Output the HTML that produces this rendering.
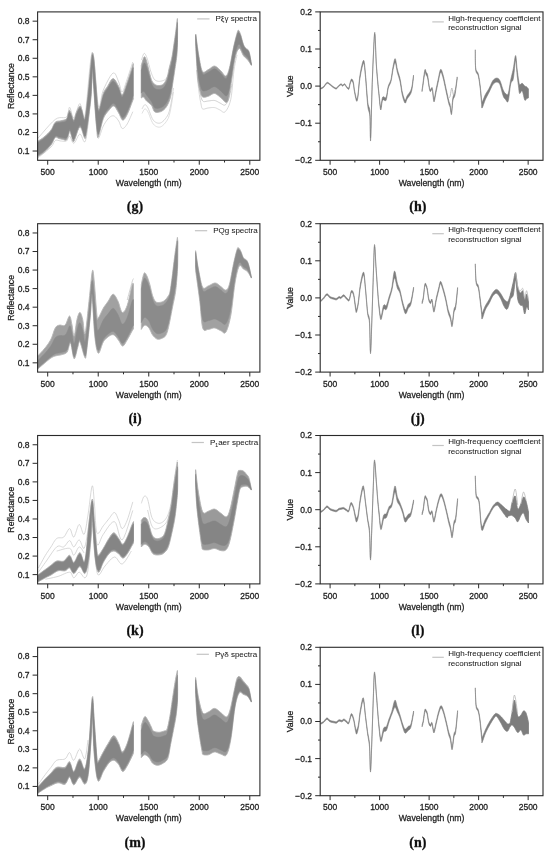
<!DOCTYPE html>
<html><head><meta charset="utf-8"><title>Spectra figure</title>
<style>
html,body{margin:0;padding:0;background:#fff;}
body{width:550px;height:854px;overflow:hidden;}
svg{display:block;}
text{font-family:"Liberation Sans",Arial,sans-serif;fill:#1e1e1e;stroke:#1e1e1e;stroke-width:0.28px;}
.lg{stroke-width:0.05px;}
</style></head>
<body>
<svg width="550" height="854" viewBox="0 0 550 854">
<defs><filter id="soft" filterUnits="userSpaceOnUse" x="0" y="0" width="550" height="854"><feGaussianBlur stdDeviation="0.35"/></filter></defs>
<rect width="550" height="854" fill="#fff"/>
<g filter="url(#soft)">
<polyline points="37.8,158 39.34,156.75 41.55,154.98 44.13,152.91 46.77,150.74 49.16,148.7 51,147 52.22,145.58 53.04,144.24 53.62,143.03 54.1,141.98 54.61,141.13 55.3,140.5 56.16,140.18 57.07,140.17 58.02,140.34 58.99,140.61 59.95,140.86 60.9,141 61.86,141.09 62.86,141.22 63.86,141.34 64.82,141.39 65.71,141.3 66.5,141 67.15,140.31 67.68,139.25 68.14,138.04 68.58,136.94 69.05,136.18 69.6,136 70.21,136.7 70.85,138.14 71.51,139.92 72.22,141.64 72.98,142.9 73.8,143.3 74.72,142.51 75.74,140.79 76.81,138.61 77.89,136.44 78.93,134.75 79.9,134 80.81,134.61 81.69,136.28 82.53,138.43 83.34,140.47 84.1,141.82 84.8,141.9 85.43,140.79 85.98,138.96 86.49,136.44 86.97,133.26 87.47,129.44 88,125 88.59,119.32 89.22,112.27 89.86,104.57 90.47,96.97 91.03,90.2 91.5,85 91.84,80.9 92.07,77.22 92.25,74.38 92.43,72.78 92.66,72.85 93,75 93.49,80.28 94.08,88.58 94.73,98.54 95.39,108.82 95.99,118.09 96.5,125 96.86,129.65 97.11,133.13 97.31,135.6 97.53,137.2 97.83,138.08 98.3,138.4 98.94,137.78 99.71,136.01 100.56,133.54 101.47,130.76 102.39,128.11 103.3,126 104.21,124.34 105.15,122.79 106.11,121.36 107.06,120.07 108,118.94 108.9,118 109.76,117.23 110.59,116.6 111.39,116.13 112.19,115.85 112.99,115.77 113.8,115.9 114.63,116.31 115.49,116.98 116.34,117.85 117.17,118.86 117.96,119.93 118.7,121 119.35,122.25 119.91,123.77 120.44,125.35 120.97,126.8 121.55,127.92 122.2,128.5 122.94,128.53 123.73,128.18 124.57,127.49 125.43,126.52 126.31,125.34 127.2,124 128.16,122.26 129.23,120.02 130.31,117.57 131.33,115.18 132.18,113.13 132.8,111.7" fill="none" stroke="#c8c8c8" stroke-width="0.7" stroke-linejoin="round" opacity="1.0"/>
<polyline points="37.8,138.4 39.78,136.14 42.57,132.86 45.85,129.05 49.29,125.21 52.55,121.83 55.3,119.4 57.62,118.12 59.8,117.64 61.8,117.63 63.6,117.73 65.17,117.64 66.5,117 67.47,115.56 68.09,113.52 68.49,111.28 68.79,109.21 69.11,107.73 69.6,107.2 70.21,108.1 70.85,110.21 71.51,112.89 72.22,115.51 72.98,117.43 73.8,118 74.72,116.72 75.74,114 76.81,110.58 77.89,107.2 78.93,104.59 79.9,103.5 80.76,105.04 81.53,108.83 82.26,113.41 83.02,117.28 83.85,118.97 84.8,117 85.92,109.33 87.16,96.74 88.48,81.97 89.81,67.76 91.11,56.86 92.3,52 93.4,54.92 94.45,63.78 95.46,75.94 96.43,88.78 97.38,99.67 98.3,106 99.14,107.4 99.86,105.89 100.56,102.44 101.31,98 102.2,93.53 103.3,90 104.7,86.92 106.37,83.44 108.16,79.94 109.97,76.78 111.65,74.34 113.1,73 114.3,72.98 115.36,74.04 116.29,75.81 117.14,77.96 117.94,80.14 118.7,82 119.39,83.88 119.97,86.11 120.49,88.38 121,90.33 121.55,91.65 122.2,92 122.94,91.21 123.73,89.52 124.57,87.19 125.43,84.48 126.31,81.66 127.2,79 128.16,76.2 129.23,73 130.31,69.69 131.33,66.56 132.18,63.9 132.8,62" fill="none" stroke="#c8c8c8" stroke-width="0.7" stroke-linejoin="round" opacity="1.0"/>
<polyline points="142,109 142.3,108.44 142.71,107.6 143.2,106.64 143.73,105.73 144.28,105.03 144.8,104.7 145.29,104.71 145.76,104.91 146.24,105.32 146.76,105.96 147.34,106.85 148,108 148.74,109.63 149.55,111.76 150.41,114.13 151.33,116.5 152.29,118.61 153.3,120.2 154.37,121.32 155.51,122.19 156.69,122.8 157.9,123.14 159.11,123.21 160.3,123 161.51,122.44 162.77,121.5 164.04,120.3 165.25,118.92 166.35,117.45 167.3,116 168.06,114.6 168.66,113.19 169.15,111.69 169.59,110.04 170.02,108.16 170.5,106 171.05,103.25 171.63,99.93 172.2,96.38 172.73,92.96 173.18,90.05 173.5,88" fill="none" stroke="#c8c8c8" stroke-width="0.7" stroke-linejoin="round" opacity="1.0"/>
<polyline points="141.5,60 141.78,59.15 142.16,57.87 142.62,56.41 143.11,55.01 143.62,53.93 144.1,53.4 144.55,53.41 145,53.76 145.46,54.41 145.94,55.36 146.45,56.56 147,58 147.6,59.86 148.25,62.19 148.93,64.79 149.63,67.43 150.32,69.91 151,72 151.64,73.76 152.23,75.37 152.83,76.81 153.47,78.07 154.18,79.14 155,80 155.97,80.63 157.07,81.04 158.25,81.25 159.45,81.3 160.62,81.2 161.7,81 162.71,80.73 163.7,80.37 164.66,79.88 165.58,79.19 166.46,78.25 167.3,77 168.09,75.44 168.83,73.59 169.53,71.5 170.2,69.19 170.86,66.68 171.5,64 172.14,61.12 172.76,58 173.36,54.69 173.94,51.22 174.49,47.65 175,44 175.49,39.95 175.97,35.41 176.42,30.75 176.82,26.37 177.15,22.66 177.4,20" fill="none" stroke="#c8c8c8" stroke-width="0.7" stroke-linejoin="round" opacity="1.0"/>
<polyline points="142,113.5 142.3,112.92 142.71,112.06 143.2,111.06 143.73,110.11 144.28,109.37 144.8,109 145.29,108.96 145.76,109.11 146.24,109.47 146.76,110.06 147.34,110.89 148,112 148.74,113.58 149.55,115.67 150.41,118 151.33,120.33 152.29,122.42 153.3,124 154.37,125.14 155.51,126.04 156.69,126.69 157.9,127.07 159.11,127.18 160.3,127 161.51,126.45 162.77,125.52 164.04,124.31 165.25,122.93 166.35,121.46 167.3,120 168.06,118.6 168.66,117.19 169.15,115.69 169.59,114.04 170.02,112.16 170.5,110 171.05,107.25 171.63,103.93 172.2,100.38 172.73,96.96 173.18,94.05 173.5,92" fill="none" stroke="#d2d2d2" stroke-width="0.7" stroke-linejoin="round" opacity="1.0"/>
<polyline points="197.5,75 197.77,76.94 198.14,79.7 198.58,82.94 199.06,86.3 199.54,89.43 200,92 200.41,94.07 200.79,95.93 201.18,97.56 201.6,98.96 202.1,100.11 202.7,101 203.42,101.53 204.23,101.69 205.11,101.59 206.04,101.37 207.01,101.13 208,101 209.04,100.91 210.15,100.76 211.29,100.59 212.44,100.46 213.55,100.42 214.6,100.5 215.57,100.75 216.5,101.13 217.39,101.59 218.27,102.09 219.13,102.58 220,103 220.88,103.47 221.77,104.04 222.64,104.59 223.5,105.02 224.32,105.19 225.1,105 225.83,104.44 226.52,103.59 227.18,102.5 227.81,101.19 228.42,99.68 229,98 229.59,95.91 230.18,93.33 230.74,90.56 231.26,87.89 231.68,85.6 232,84" fill="none" stroke="#bdbdbd" stroke-width="0.7" stroke-linejoin="round" opacity="1.0"/>
<polyline points="196.5,70 196.78,72.51 197.17,76.07 197.62,80.25 198.11,84.59 198.58,88.66 199,92 199.37,94.66 199.71,97 200.05,99.06 200.37,100.89 200.69,102.52 201,104 201.26,105.31 201.46,106.41 201.64,107.31 201.88,108.04 202.21,108.59 202.7,109 203.36,109.17 204.15,109.09 205.04,108.84 206,108.51 207,108.2 208,108 209.04,107.87 210.15,107.72 211.29,107.59 212.44,107.5 213.55,107.5 214.6,107.6 215.57,107.84 216.5,108.21 217.39,108.66 218.27,109.14 219.13,109.6 220,110 220.86,110.5 221.7,111.18 222.53,111.84 223.37,112.29 224.22,112.34 225.1,111.8 226.04,110.73 227.05,109.28 228.07,107.44 229.06,105.16 229.99,102.43 230.8,99.2 231.48,95.13 232.06,90.17 232.57,84.75 233.04,79.3 233.51,74.24 234,70 234.55,66.5 235.13,63.39 235.7,60.67 236.23,58.36 236.68,56.47 237,55" fill="none" stroke="#c8c8c8" stroke-width="0.7" stroke-linejoin="round" opacity="1.0"/>
<polygon points="37.8,141.2 38.47,140.78 39.38,140.21 40.46,139.54 41.64,138.76 42.85,137.91 44,137 45.15,136 46.37,134.9 47.62,133.72 48.84,132.5 49.98,131.25 51,130 51.86,128.67 52.59,127.22 53.24,125.75 53.87,124.36 54.54,123.14 55.3,122.2 56.16,121.6 57.07,121.29 58.02,121.14 58.99,121.08 59.95,121 60.9,120.8 61.87,120.54 62.9,120.32 63.93,120.08 64.9,119.77 65.77,119.32 66.5,118.7 67.05,117.79 67.47,116.62 67.78,115.33 68.03,114.03 68.26,112.88 68.5,112 68.73,111.38 68.92,110.9 69.09,110.56 69.24,110.36 69.41,110.27 69.6,110.3 69.8,110.45 69.99,110.71 70.19,111.11 70.42,111.62 70.68,112.25 71,113 71.39,114.09 71.83,115.57 72.32,117.17 72.82,118.62 73.32,119.65 73.8,120 74.25,119.51 74.68,118.37 75.11,116.81 75.55,115.07 76.01,113.39 76.5,112 77.04,110.77 77.63,109.48 78.24,108.25 78.84,107.19 79.4,106.4 79.9,106 80.32,106.03 80.67,106.42 80.99,107.08 81.3,107.95 81.62,108.95 82,110 82.42,111.54 82.87,113.71 83.34,116.01 83.83,117.94 84.31,119 84.8,118.7 85.29,116.82 85.8,113.72 86.31,109.76 86.81,105.28 87.32,100.64 87.8,96.2 88.28,91.67 88.76,86.72 89.22,81.61 89.68,76.61 90.11,71.98 90.5,68 90.85,64.52 91.17,61.31 91.46,58.47 91.74,56.11 92.02,54.36 92.3,53.3 92.59,52.97 92.86,53.27 93.14,54.17 93.41,55.62 93.7,57.58 94,60 94.31,63.11 94.62,67 94.94,71.39 95.28,76.03 95.63,80.65 96,85 96.37,89.58 96.74,94.71 97.13,99.82 97.56,104.36 98.04,107.77 98.6,109.5 99.27,109.06 100.03,106.8 100.85,103.42 101.69,99.6 102.52,96.03 103.3,93.4 104.01,91.72 104.69,90.42 105.34,89.38 106.01,88.46 106.72,87.51 107.5,86.4 108.35,84.97 109.26,83.28 110.21,81.58 111.18,80.07 112.15,79.01 113.1,78.6 114.06,78.99 115.04,80.02 116.03,81.49 116.99,83.18 117.89,84.88 118.7,86.4 119.39,88.01 119.97,89.93 120.49,91.88 121,93.53 121.55,94.61 122.2,94.8 122.94,93.97 123.73,92.31 124.57,90.08 125.43,87.5 126.31,84.79 127.2,82.2 128.16,79.45 129.21,76.31 130.29,73.04 131.3,69.94 132.16,67.26 132.8,65.3 133.17,64.17 133.33,63.66 133.35,63.59 133.29,63.76 133.22,63.96 133.2,64 133.2,99 133.22,99.01 133.29,98.89 133.35,98.82 133.33,98.94 133.17,99.42 132.8,100.4 132.15,102.11 131.28,104.47 130.26,107.19 129.18,109.96 128.13,112.49 127.2,114.5 126.38,116.07 125.6,117.47 124.85,118.62 124.12,119.49 123.41,120 122.7,120.1 122.01,119.65 121.36,118.67 120.73,117.34 120.08,115.83 119.41,114.32 118.7,113 117.94,111.7 117.13,110.24 116.31,108.79 115.47,107.49 114.63,106.51 113.8,106 112.99,106.02 112.19,106.44 111.39,107.19 110.59,108.14 109.76,109.22 108.9,110.3 108,111.35 107.06,112.43 106.11,113.63 105.15,115.01 104.21,116.68 103.3,118.7 102.39,121.46 101.45,124.97 100.53,128.75 99.67,132.33 98.91,135.24 98.3,137 97.87,137.52 97.6,137.17 97.43,136.14 97.31,134.64 97.19,132.86 97,131 96.77,129.07 96.53,126.93 96.29,124.5 96.04,121.74 95.78,118.59 95.5,115 95.2,110.66 94.87,105.56 94.53,100.06 94.2,94.56 93.88,89.41 93.6,85 93.36,80.89 93.15,76.7 92.96,72.86 92.78,69.84 92.6,68.07 92.4,68 92.2,70.16 92.02,74.29 91.84,79.68 91.63,85.6 91.39,91.35 91.1,96.2 90.73,100.29 90.31,104.23 89.84,107.99 89.37,111.55 88.91,114.89 88.5,118 88.13,120.87 87.78,123.53 87.44,125.96 87.12,128.19 86.81,130.2 86.5,132 86.24,133.71 86.03,135.36 85.83,136.79 85.59,137.87 85.27,138.45 84.8,138.4 84.18,137.23 83.45,134.96 82.62,132.19 81.74,129.54 80.82,127.61 79.9,127 78.91,128.15 77.81,130.66 76.69,133.88 75.6,137.19 74.61,139.94 73.8,141.5 73.19,141.73 72.73,141.13 72.38,139.97 72.08,138.54 71.8,137.12 71.5,136 71.17,135.05 70.86,134 70.57,132.97 70.29,132.06 70.04,131.36 69.8,131 69.61,131 69.46,131.3 69.34,131.81 69.2,132.48 69.03,133.23 68.8,134 68.51,134.9 68.17,136.02 67.81,137.22 67.4,138.37 66.97,139.34 66.5,140 65.99,140.3 65.45,140.33 64.87,140.19 64.26,139.94 63.64,139.69 63,139.5 62.33,139.36 61.63,139.2 60.9,139.03 60.17,138.85 59.47,138.67 58.8,138.5 58.19,138.23 57.61,137.85 57.06,137.47 56.5,137.2 55.92,137.17 55.3,137.5 54.66,138.26 54.03,139.37 53.37,140.72 52.66,142.19 51.88,143.66 51,145 49.98,146.28 48.84,147.59 47.62,148.91 46.37,150.17 45.15,151.35 44,152.4 42.85,153.33 41.64,154.19 40.46,154.96 39.38,155.63 38.47,156.18 37.8,156.6" fill="#9a9a9a" stroke="#b0b0b0" stroke-width="0.9" stroke-linejoin="round"/>
<polygon points="37.8,142.74 38.5,142.29 39.2,141.87 39.9,141.43 40.6,140.99 41.3,140.53 42,140.05 42.7,139.56 43.4,139.02 44.1,138.45 44.8,137.84 45.5,137.22 46.2,136.59 46.9,135.93 47.6,135.26 48.3,134.55 49,133.83 49.7,133.06 50.4,132.23 51.1,131.35 51.8,130.26 52.5,128.9 53.2,127.36 53.9,125.83 54.6,124.59 55.3,123.73 56,123.26 56.7,123 57.4,122.88 58.1,122.84 58.8,122.83 59.5,122.8 60.2,122.74 60.9,122.62 61.6,122.47 62.3,122.34 63,122.22 63.7,122.09 64.4,121.94 65.1,121.72 65.8,121.4 66.5,120.83 67.2,119.52 67.9,116.94 68.6,114.02 69.3,112.49 70,112.79 70.7,114.41 71.4,116.29 72.1,118.67 72.8,120.82 73.5,121.96 74.2,121.68 74.9,119.74 75.6,117.13 76.3,114.82 77,113.07 77.7,111.5 78.4,110.1 79.1,108.93 79.8,108.18 80.5,108.35 81.2,109.75 81.9,111.75 82.6,114.36 83.3,117.66 84,120.15 84.7,120.71 85.4,118.36 86.1,113.7 86.8,107.89 87.5,101.61 88.2,95.2 88.9,88.13 89.6,80.71 90.3,73.45 91,66.46 91.7,59.18 92.4,54.66 93.1,56.21 93.8,61.36 94.5,68.89 95.2,78.52 95.9,87.46 96.6,96.19 97.3,104.91 98,110.49 98.7,112.08 99.4,111.14 100.1,108.92 100.8,106.03 101.5,102.9 102.2,99.89 102.9,97.27 103.6,95.23 104.3,93.7 105,92.46 105.7,91.42 106.4,90.47 107.1,89.51 107.8,88.46 108.5,87.3 109.2,86.05 109.9,84.83 110.6,83.69 111.3,82.68 112,81.92 112.7,81.51 113.4,81.45 114.1,81.75 114.8,82.46 115.5,83.38 116.2,84.47 116.9,85.7 117.6,87.01 118.3,88.32 119,89.75 119.7,91.64 120.4,94.05 121.1,96.17 121.8,97.15 122.5,97.01 123.2,96.08 123.9,94.65 124.6,92.88 125.3,90.9 126,88.86 126.7,86.84 127.4,84.87 128.1,82.91 128.8,80.88 129.5,78.81 130.2,76.71 130.9,74.59 131.6,72.46 132.3,70.32 133,68.21 133.2,67.6 133.2,95.81 133,96.35 132.3,98.24 131.6,100.15 130.9,102.05 130.2,103.93 129.5,105.76 128.8,107.54 128.1,109.27 127.4,110.82 126.7,112.28 126,113.65 125.3,114.93 124.6,116.03 123.9,116.87 123.2,117.37 122.5,117.42 121.8,116.86 121.1,115.68 120.4,114.07 119.7,112.38 119,110.91 118.3,109.65 117.6,108.41 116.9,107.15 116.2,105.94 115.5,104.86 114.8,104.02 114.1,103.47 113.4,103.28 112.7,103.43 112,103.88 111.3,104.56 110.6,105.41 109.9,106.34 109.2,107.27 108.5,108.16 107.8,109.01 107.1,109.85 106.4,110.73 105.7,111.68 105,112.74 104.3,113.98 103.6,115.5 102.9,117.4 102.2,119.69 101.5,122.35 100.8,125.24 100.1,128.14 99.4,130.9 98.7,133.21 98,134.38 97.3,131.2 96.6,124.08 95.9,116.47 95.2,107.11 94.5,96.14 93.8,85.17 93.1,73.49 92.4,66.52 91.7,80.94 91,93.89 90.3,100.86 89.6,106.59 88.9,112.01 88.2,117.53 87.5,122.89 86.8,127.77 86.1,132.45 85.4,136.01 84.7,136.27 84,134.83 83.3,132.59 82.6,130.15 81.9,127.99 81.2,126.33 80.5,125.28 79.8,125.01 79.1,125.82 78.4,127.18 77.7,128.82 77,130.77 76.3,132.81 75.6,134.95 74.9,136.98 74.2,138.61 73.5,139.43 72.8,138.96 72.1,136.41 71.4,133.55 70.7,131.32 70,129.25 69.3,129.83 68.6,132.32 67.9,134.69 67.2,136.68 66.5,137.87 65.8,138.21 65.1,138.19 64.4,137.99 63.7,137.76 63,137.58 62.3,137.46 61.6,137.34 60.9,137.21 60.2,137.07 59.5,136.92 58.8,136.76 58.1,136.47 57.4,136.06 56.7,135.71 56,135.63 55.3,135.97 54.6,136.84 53.9,138.1 53.2,139.55 52.5,140.99 51.8,142.28 51.1,143.35 50.4,144.25 49.7,145.09 49,145.9 48.3,146.66 47.6,147.41 46.9,148.12 46.2,148.81 45.5,149.48 44.8,150.14 44.1,150.77 43.4,151.35 42.7,151.9 42,152.4 41.3,152.87 40.6,153.33 39.9,153.77 39.2,154.2 38.5,154.62 37.8,155.06" fill="#858585" stroke="#858585" stroke-width="0.5" stroke-linejoin="round"/>
<polygon points="141.3,65.4 141.61,64.36 142.05,62.81 142.57,61.03 143.11,59.28 143.64,57.85 144.1,57 144.48,56.72 144.82,56.79 145.14,57.17 145.47,57.83 145.81,58.72 146.2,59.8 146.64,61.2 147.11,62.96 147.61,64.96 148.11,67.06 148.61,69.12 149.1,71 149.56,72.78 149.99,74.57 150.42,76.33 150.87,77.99 151.35,79.5 151.9,80.8 152.5,81.88 153.14,82.8 153.82,83.56 154.54,84.19 155.3,84.7 156.1,85.1 156.98,85.38 157.95,85.53 158.96,85.56 159.95,85.49 160.88,85.33 161.7,85.1 162.39,84.8 163,84.4 163.54,83.92 164.04,83.36 164.52,82.72 165,82 165.47,81.19 165.93,80.27 166.36,79.28 166.76,78.22 167.14,77.12 167.5,76 167.8,74.89 168.05,73.77 168.27,72.61 168.5,71.37 168.77,70.01 169.1,68.5 169.52,66.79 170.01,64.91 170.54,62.91 171.07,60.86 171.57,58.8 172,56.8 172.36,54.85 172.69,52.9 172.98,50.95 173.25,49 173.52,47.05 173.8,45.1 174.09,43.15 174.38,41.2 174.67,39.25 174.95,37.3 175.23,35.35 175.5,33.4 175.77,31.35 176.06,29.19 176.33,27.02 176.59,24.97 176.82,23.16 177,21.7 177.13,20.64 177.23,19.89 177.29,19.37 177.34,19.01 177.37,18.75 177.4,18.5 177.6,30 177.58,31.67 177.57,34.01 177.54,36.76 177.51,39.68 177.46,42.51 177.4,45 177.32,47.15 177.24,49.17 177.14,51.11 177.03,52.99 176.88,54.88 176.7,56.8 176.48,58.75 176.21,60.7 175.92,62.65 175.61,64.6 175.3,66.55 175,68.5 174.72,70.39 174.45,72.21 174.18,74.04 173.89,75.94 173.56,78 173.2,80.3 172.8,82.98 172.37,86 171.91,89.18 171.42,92.33 170.88,95.27 170.3,97.8 169.67,99.93 168.99,101.81 168.27,103.47 167.51,104.96 166.72,106.29 165.9,107.5 165.04,108.58 164.12,109.49 163.18,110.26 162.21,110.89 161.25,111.39 160.3,111.8 159.33,112.12 158.33,112.33 157.32,112.43 156.36,112.39 155.47,112.19 154.7,111.8 154.07,111.14 153.56,110.19 153.13,109.09 152.74,107.94 152.34,106.87 151.9,106 151.42,105.33 150.94,104.77 150.46,104.29 149.97,103.86 149.48,103.44 149,103 148.51,102.57 148.02,102.17 147.53,101.78 147.04,101.39 146.57,100.97 146.1,100.5 145.64,99.92 145.2,99.24 144.76,98.53 144.33,97.87 143.91,97.33 143.5,97 143.08,96.92 142.66,97.04 142.24,97.28 141.86,97.57 141.53,97.84 141.3,98" fill="#9a9a9a" stroke="#b0b0b0" stroke-width="0.9" stroke-linejoin="round"/>
<polygon points="141.3,70.29 142,68.16 142.7,66.07 143.4,64.28 144.1,63.09 144.8,63.06 145.5,64.18 146.2,65.92 146.9,68.04 147.6,70.47 148.3,73.02 149,75.47 149.7,77.91 150.4,80.45 151.1,82.65 151.8,84.36 152.5,85.69 153.2,86.82 153.9,87.71 154.6,88.35 155.3,88.8 156,89.14 156.7,89.36 157.4,89.5 158.1,89.56 158.8,89.56 159.5,89.5 160.2,89.4 160.9,89.26 161.6,89.04 162.3,88.74 163,88.3 163.7,87.66 164.4,86.83 165.1,85.83 165.8,84.59 166.5,83.06 167.2,81.23 167.9,78.91 168.6,75.65 169.3,72.68 170,70.03 170.7,67.35 171.4,64.42 172.1,61.01 172.8,56.75 173.5,51.87 174.2,47.14 174.9,42.38 175.6,37.46 176.3,32.18 177,26.44 177.4,22.48 177.4,41.02 177,48.58 176.3,55.13 175.6,59.86 174.9,64.45 174.2,69.15 173.5,73.73 172.8,78.34 172.1,83.14 171.4,87.49 170.7,91 170,93.73 169.3,95.96 168.6,97.93 167.9,99.73 167.2,101.2 166.5,102.46 165.8,103.56 165.1,104.5 164.4,105.27 163.7,105.92 163,106.48 162.3,106.93 161.6,107.3 160.9,107.61 160.2,107.87 159.5,108.08 158.8,108.23 158.1,108.33 157.4,108.38 156.7,108.34 156,108.22 155.3,107.99 154.6,107.57 153.9,106.74 153.2,105.3 152.5,103.49 151.8,102.07 151.1,101.02 150.4,100.05 149.7,99.09 149,98.14 148.3,97.21 147.6,96.3 146.9,95.4 146.2,94.48 145.5,93.43 144.8,92.33 144.1,91.49 143.4,91.21 142.7,91.56 142,92.29 141.3,93.11" fill="#858585" stroke="#858585" stroke-width="0.5" stroke-linejoin="round"/>
<polygon points="195.7,34 195.77,34.53 195.84,35.16 195.94,35.95 196.08,36.98 196.26,38.31 196.5,40 196.81,42.2 197.17,44.88 197.58,47.86 198.03,50.96 198.51,54 199,56.8 199.5,59.56 200.01,62.47 200.54,65.32 201.13,67.91 201.77,70.03 202.5,71.5 203.33,72.16 204.24,72.16 205.22,71.69 206.24,70.97 207.28,70.2 208.3,69.6 209.32,69.01 210.36,68.24 211.42,67.42 212.48,66.7 213.54,66.22 214.6,66.1 215.67,66.43 216.75,67.11 217.84,68.02 218.9,69.05 219.93,70.08 220.9,71 221.81,71.98 222.69,73.13 223.52,74.29 224.31,75.28 225.07,75.91 225.8,76 226.47,75.59 227.07,74.84 227.64,73.73 228.2,72.26 228.78,70.42 229.4,68.2 230.07,65.37 230.78,61.89 231.51,58.04 232.23,54.1 232.93,50.36 233.6,47.1 234.25,44.23 234.9,41.49 235.52,38.96 236.11,36.67 236.65,34.7 237.1,33.1 237.45,31.9 237.7,31.08 237.89,30.56 238.06,30.3 238.25,30.23 238.5,30.3 238.8,30.53 239.12,30.97 239.46,31.61 239.82,32.43 240.2,33.39 240.6,34.5 241.03,35.87 241.48,37.56 241.96,39.4 242.44,41.24 242.93,42.93 243.4,44.3 243.87,45.36 244.36,46.21 244.84,46.92 245.32,47.51 245.77,48.02 246.2,48.5 246.6,48.88 246.98,49.1 247.34,49.25 247.68,49.4 248,49.62 248.3,50 248.57,50.48 248.81,50.99 249.03,51.58 249.24,52.29 249.46,53.14 249.7,54.2 249.99,55.62 250.31,57.41 250.64,59.36 250.95,61.25 251.21,62.87 251.4,64 251.4,65.4 250.99,64.77 250.43,63.9 249.76,62.86 249.04,61.77 248.3,60.72 247.6,59.8 246.92,59.05 246.23,58.4 245.52,57.79 244.81,57.16 244.1,56.45 243.4,55.6 242.7,54.39 242,52.82 241.3,51.17 240.6,49.71 239.9,48.73 239.2,48.5 238.5,48.97 237.8,49.92 237.1,51.34 236.4,53.23 235.7,55.58 235,58.4 234.29,61.99 233.57,66.42 232.86,71.31 232.15,76.3 231.46,81.02 230.8,85.1 230.21,88.73 229.69,92.24 229.19,95.49 228.66,98.3 228.04,100.52 227.3,102 226.4,102.51 225.38,102.13 224.28,101.17 223.13,99.91 221.99,98.66 220.9,97.7 219.84,96.91 218.79,96.03 217.74,95.16 216.7,94.38 215.65,93.79 214.6,93.5 213.54,93.59 212.47,93.99 211.41,94.59 210.35,95.26 209.31,95.87 208.3,96.3 207.29,96.6 206.26,96.9 205.26,97.14 204.3,97.27 203.44,97.24 202.7,97 202.11,96.58 201.66,96.01 201.3,95.29 200.98,94.4 200.66,93.3 200.3,92 199.89,90.5 199.46,88.81 199.04,86.94 198.63,84.85 198.24,82.54 197.9,80 197.6,77.07 197.34,73.74 197.1,70.19 196.89,66.59 196.69,63.14 196.5,60 196.32,57.04 196.16,54.07 196.01,51.25 195.89,48.7 195.78,46.57 195.7,45" fill="#9a9a9a" stroke="#b0b0b0" stroke-width="0.9" stroke-linejoin="round"/>
<polygon points="195.7,35.1 196.4,41.2 197.1,46.94 197.8,52.33 198.5,56.97 199.2,60.88 199.9,64.72 200.6,68.32 201.3,71.16 202,73.09 202.7,74.19 203.4,74.67 204.1,74.67 204.8,74.42 205.5,74.05 206.2,73.59 206.9,73.1 207.6,72.66 208.3,72.27 209,71.88 209.7,71.42 210.4,70.91 211.1,70.38 211.8,69.89 212.5,69.42 213.2,69.11 213.9,68.91 214.6,68.84 215.3,69.05 216,69.37 216.7,69.81 217.4,70.38 218.1,70.99 218.8,71.66 219.5,72.35 220.2,73.02 220.9,73.67 221.6,74.4 222.3,75.26 223,76.19 223.7,77.12 224.4,77.94 225.1,78.51 225.8,78.63 226.5,78.24 227.2,77.34 227.9,75.83 228.6,73.74 229.3,71.18 230,68.13 230.7,64.63 231.4,60.88 232.1,56.99 232.8,53.13 233.5,49.52 234.2,46.25 234.9,43.22 235.6,40.4 236.3,37.74 237,35.27 237.7,32.97 238.4,32.16 239.1,32.71 239.8,34.01 240.5,35.76 241.2,37.96 241.9,40.52 242.6,43.03 243.3,45.15 244,46.65 244.7,47.74 245.4,48.61 246.1,49.38 246.8,49.99 247.5,50.36 248.2,50.95 248.9,52.28 249.6,54.65 250.3,58.01 251,61.89 251.4,64.14 251.4,65.05 251,63.98 250.3,62.11 249.6,60.4 248.9,58.99 248.2,57.91 247.5,57.1 246.8,56.45 246.1,55.82 245.4,55.16 244.7,54.46 244,53.64 243.3,52.57 242.6,51.07 241.9,49.23 241.2,47.35 240.5,45.74 239.8,44.62 239.1,44.16 238.4,44.4 237.7,45.36 237,47.07 236.3,49.17 235.6,51.65 234.9,54.55 234.2,58.03 233.5,62.09 232.8,66.55 232.1,71.18 231.4,75.69 230.7,79.86 230,84.03 229.3,88.21 228.6,91.62 227.9,93.87 227.2,95.19 226.5,95.73 225.8,95.72 225.1,95.4 224.4,94.8 223.7,94.03 223,93.22 222.3,92.4 221.6,91.67 220.9,91.02 220.2,90.47 219.5,89.88 218.8,89.27 218.1,88.66 217.4,88.09 216.7,87.55 216,87.15 215.3,86.85 214.6,86.65 213.9,86.71 213.2,86.88 212.5,87.16 211.8,87.57 211.1,88.01 210.4,88.48 209.7,88.92 209,89.3 208.3,89.63 207.6,89.89 206.9,90.16 206.2,90.44 205.5,90.68 204.8,90.87 204.1,90.98 203.4,90.96 202.7,90.67 202,89.95 201.3,88.59 200.6,86.2 199.9,83.37 199.2,80.22 198.5,76.56 197.8,71.61 197.1,63.73 196.4,53.57 195.7,42.25" fill="#858585" stroke="#858585" stroke-width="0.5" stroke-linejoin="round"/>
<rect x="37.6" y="11.9" width="222.3" height="148.4" fill="none" stroke="#2a2a2a" stroke-width="1.1"/>
<line x1="47.7" y1="160.3" x2="47.7" y2="164.7" stroke="#2a2a2a" stroke-width="1"/>
<text x="47.7" y="174.9" text-anchor="middle" font-size="8.5">500</text>
<line x1="98.23" y1="160.3" x2="98.23" y2="164.7" stroke="#2a2a2a" stroke-width="1"/>
<text x="98.23" y="174.9" text-anchor="middle" font-size="8.5">1000</text>
<line x1="148.75" y1="160.3" x2="148.75" y2="164.7" stroke="#2a2a2a" stroke-width="1"/>
<text x="148.75" y="174.9" text-anchor="middle" font-size="8.5">1500</text>
<line x1="199.27" y1="160.3" x2="199.27" y2="164.7" stroke="#2a2a2a" stroke-width="1"/>
<text x="199.27" y="174.9" text-anchor="middle" font-size="8.5">2000</text>
<line x1="249.8" y1="160.3" x2="249.8" y2="164.7" stroke="#2a2a2a" stroke-width="1"/>
<text x="249.8" y="174.9" text-anchor="middle" font-size="8.5">2500</text>
<line x1="72.97" y1="160.3" x2="72.97" y2="162.5" stroke="#2a2a2a" stroke-width="1"/>
<line x1="123.49" y1="160.3" x2="123.49" y2="162.5" stroke="#2a2a2a" stroke-width="1"/>
<line x1="174.01" y1="160.3" x2="174.01" y2="162.5" stroke="#2a2a2a" stroke-width="1"/>
<line x1="224.53" y1="160.3" x2="224.53" y2="162.5" stroke="#2a2a2a" stroke-width="1"/>
<line x1="32.6" y1="151.03" x2="37.6" y2="151.03" stroke="#2a2a2a" stroke-width="1"/>
<text x="29.5" y="153.93" text-anchor="end" font-size="8.5">0.1</text>
<line x1="32.6" y1="132.47" x2="37.6" y2="132.47" stroke="#2a2a2a" stroke-width="1"/>
<text x="29.5" y="135.38" text-anchor="end" font-size="8.5">0.2</text>
<line x1="32.6" y1="113.92" x2="37.6" y2="113.92" stroke="#2a2a2a" stroke-width="1"/>
<text x="29.5" y="116.83" text-anchor="end" font-size="8.5">0.3</text>
<line x1="32.6" y1="95.37" x2="37.6" y2="95.37" stroke="#2a2a2a" stroke-width="1"/>
<text x="29.5" y="98.27" text-anchor="end" font-size="8.5">0.4</text>
<line x1="32.6" y1="76.83" x2="37.6" y2="76.83" stroke="#2a2a2a" stroke-width="1"/>
<text x="29.5" y="79.73" text-anchor="end" font-size="8.5">0.5</text>
<line x1="32.6" y1="58.27" x2="37.6" y2="58.27" stroke="#2a2a2a" stroke-width="1"/>
<text x="29.5" y="61.17" text-anchor="end" font-size="8.5">0.6</text>
<line x1="32.6" y1="39.72" x2="37.6" y2="39.72" stroke="#2a2a2a" stroke-width="1"/>
<text x="29.5" y="42.62" text-anchor="end" font-size="8.5">0.7</text>
<line x1="32.6" y1="21.17" x2="37.6" y2="21.17" stroke="#2a2a2a" stroke-width="1"/>
<text x="29.5" y="24.07" text-anchor="end" font-size="8.5">0.8</text>
<text x="148.75" y="185.9" text-anchor="middle" font-size="8.7">Wavelength (nm)</text>
<text x="14" y="86.1" text-anchor="middle" font-size="8.7" transform="rotate(-90 14 86.1)">Reflectance</text>
<text x="135" y="211.2" text-anchor="middle" font-size="14" style="font-family:Liberation Serif,serif;font-weight:bold;fill:#111">(g)</text>
<line x1="197.2" y1="18.9" x2="209.5" y2="18.9" stroke="#c4c4c4" stroke-width="1.2"/>
<text x="215.5" y="21.3" font-size="8.0" class="lg">Pξγ spectra</text>
<polygon points="320.8,88 321.08,87.88 321.47,87.74 321.93,87.56 322.44,87.33 322.97,87.01 323.5,86.6 324.05,86 324.63,85.2 325.24,84.32 325.86,83.49 326.45,82.81 327,82.4 327.5,82.29 327.96,82.4 328.4,82.66 328.84,83.02 329.3,83.42 329.8,83.8 330.35,84.2 330.94,84.68 331.54,85.2 332.15,85.72 332.74,86.2 333.3,86.6 333.83,86.95 334.34,87.3 334.84,87.61 335.31,87.84 335.77,87.99 336.2,88 336.59,87.85 336.93,87.56 337.26,87.17 337.58,86.73 337.92,86.29 338.3,85.9 338.74,85.51 339.23,85.07 339.74,84.63 340.24,84.24 340.71,83.95 341.1,83.8 341.41,83.86 341.64,84.11 341.84,84.46 342.03,84.81 342.24,85.09 342.5,85.2 342.81,85.08 343.15,84.79 343.51,84.41 343.87,84.06 344.24,83.82 344.6,83.8 344.95,84.04 345.3,84.48 345.65,85.04 346,85.63 346.35,86.18 346.7,86.6 347.06,86.97 347.43,87.36 347.79,87.7 348.15,87.93 348.49,87.97 348.8,87.75 349.07,87.18 349.32,86.29 349.54,85.22 349.76,84.09 349.97,83.02 350.2,82.15 350.43,81.41 350.66,80.69 350.88,80.04 351.11,79.51 351.35,79.15 351.6,79 351.87,79.08 352.17,79.34 352.47,79.77 352.77,80.35 353.05,81.07 353.3,81.9 353.51,82.89 353.67,84.07 353.83,85.38 353.98,86.77 354.17,88.19 354.4,89.6 354.7,91.15 355.05,92.91 355.43,94.71 355.81,96.35 356.18,97.66 356.5,98.45 356.77,98.8 356.99,98.89 357.2,98.64 357.41,97.99 357.63,96.86 357.9,95.2 358.19,92.75 358.49,89.52 358.81,85.82 359.16,81.95 359.56,78.24 360,75 360.53,71.9 361.15,68.62 361.81,65.5 362.47,62.86 363.08,61.01 363.6,60.3 364.01,60.84 364.34,62.39 364.63,64.74 364.9,67.69 365.18,71.01 365.5,74.5 365.86,78.56 366.24,83.45 366.64,88.71 367.03,93.91 367.42,98.59 367.8,102.3 368.18,104.71 368.57,106.11 368.95,106.99 369.31,107.85 369.63,109.19 369.9,111.5 370.09,115.77 370.21,121.8 370.29,128.31 370.37,134.02 370.46,137.64 370.6,137.9 370.79,133.99 371.01,126.76 371.26,117.45 371.51,107.29 371.76,97.49 372,89.3 372.23,82.5 372.47,76.08 372.7,70.02 372.93,64.34 373.17,59.04 373.4,54.1 373.63,49.1 373.87,43.96 374.1,39.19 374.33,35.31 374.57,32.84 374.8,32.3 375.03,34.31 375.27,38.57 375.5,44.25 375.73,50.48 375.97,56.42 376.2,61.2 376.43,64.9 376.67,68.21 376.9,71.23 377.13,74.03 377.37,76.73 377.6,79.4 377.83,81.99 378.06,84.43 378.28,86.74 378.51,89 378.75,91.23 379,93.5 379.26,96.05 379.54,98.91 379.82,101.74 380.11,104.25 380.4,106.11 380.7,107 380.99,106.6 381.26,105.1 381.54,102.94 381.84,100.6 382.19,98.54 382.6,97.2 383.11,96.76 383.7,96.87 384.34,97.26 384.98,97.64 385.58,97.71 386.1,97.2 386.52,95.98 386.88,94.26 387.19,92.24 387.5,90.12 387.83,88.11 388.2,86.4 388.63,85.08 389.11,84.01 389.6,83.04 390.09,82.04 390.57,80.88 391,79.4 391.39,77.51 391.75,75.28 392.09,72.89 392.43,70.49 392.76,68.24 393.1,66.3 393.45,64.51 393.8,62.69 394.15,61.03 394.5,59.7 394.85,58.86 395.2,58.7 395.54,59.4 395.87,60.86 396.21,62.81 396.55,65.01 396.91,67.19 397.3,69.1 397.73,70.73 398.21,72.3 398.7,73.86 399.19,75.44 399.67,77.11 400.1,78.9 400.48,80.9 400.83,83.08 401.15,85.34 401.47,87.58 401.82,89.7 402.2,91.6 402.63,93.39 403.1,95.19 403.59,96.86 404.09,98.29 404.56,99.38 405,100 405.38,100.06 405.7,99.64 406.01,98.86 406.34,97.87 406.72,96.81 407.2,95.8 407.81,94.87 408.53,93.92 409.31,92.89 410.08,91.73 410.8,90.38 411.4,88.8 411.9,86.76 412.33,84.25 412.71,81.56 413.03,78.97 413.3,76.76 413.5,75.2 413.5,77.2 413.3,78.88 413.03,81.27 412.71,84.06 412.33,86.96 411.9,89.64 411.4,91.8 410.8,93.44 410.08,94.8 409.31,95.95 408.53,96.96 407.81,97.88 407.2,98.8 406.72,99.81 406.34,100.87 406.01,101.86 405.7,102.64 405.38,103.06 405,103 404.56,102.38 404.09,101.29 403.59,99.86 403.1,98.19 402.63,96.39 402.2,94.6 401.82,92.7 401.47,90.58 401.15,88.34 400.83,86.08 400.48,83.9 400.1,81.9 399.67,80.09 399.19,78.4 398.7,76.79 398.21,75.23 397.73,73.68 397.3,72.1 396.91,70.33 396.55,68.34 396.21,66.38 395.87,64.63 395.54,63.34 395.2,62.7 394.85,62.81 394.5,63.51 394.15,64.66 393.8,66.1 393.45,67.7 393.1,69.3 392.76,71.06 392.43,73.11 392.09,75.33 391.75,77.54 391.39,79.61 391,81.4 390.57,82.81 390.09,83.93 389.6,84.92 389.11,85.9 388.63,87.01 388.2,88.4 387.83,90.23 387.5,92.41 387.19,94.74 386.88,96.96 386.52,98.86 386.1,100.2 385.58,100.77 384.98,100.71 384.34,100.33 383.7,99.91 383.11,99.77 382.6,100.2 382.19,101.55 381.84,103.64 381.54,106.01 381.26,108.17 380.99,109.66 380.7,110 380.4,108.98 380.11,106.95 379.82,104.24 379.54,101.2 379.26,98.17 379,95.5 378.75,93.17 378.51,90.92 378.28,88.68 378.06,86.39 377.83,83.98 377.6,81.4 377.37,78.73 377.13,76.03 376.9,73.23 376.67,70.21 376.43,66.9 376.2,63.2 375.97,58.42 375.73,52.48 375.5,46.25 375.27,40.57 375.03,36.31 374.8,34.3 374.57,34.84 374.33,37.31 374.1,41.19 373.87,45.96 373.63,51.1 373.4,56.1 373.17,61.02 372.93,66.31 372.7,71.96 372.47,78 372.23,84.44 372,91.3 371.76,99.59 371.51,109.51 371.26,119.83 371.01,129.31 370.79,136.75 370.6,140.9 370.46,140.95 370.37,137.72 370.29,132.44 370.21,126.32 370.09,120.6 369.9,116.5 369.63,114.19 369.31,112.74 368.95,111.67 368.57,110.55 368.18,108.91 367.8,106.3 367.42,102.41 367.03,97.54 366.64,92.15 366.24,86.71 365.86,81.67 365.5,77.5 365.18,73.95 364.9,70.61 364.63,67.68 364.34,65.35 364.01,63.83 363.6,63.3 363.08,64.03 362.47,65.89 361.81,68.56 361.15,71.7 360.53,74.96 360,78 359.56,81.12 359.16,84.64 358.81,88.28 358.49,91.78 358.19,94.84 357.9,97.2 357.63,98.87 357.41,100.08 357.2,100.86 356.99,101.24 356.77,101.26 356.5,100.95 356.18,100.13 355.81,98.74 355.43,96.99 355.05,95.08 354.7,93.21 354.4,91.6 354.17,90.17 353.98,88.73 353.83,87.35 353.67,86.05 353.51,84.89 353.3,83.9 353.05,83.07 352.77,82.37 352.47,81.8 352.17,81.38 351.87,81.11 351.6,81 351.35,81.09 351.11,81.36 350.88,81.79 350.66,82.34 350.43,82.97 350.2,83.65 349.97,84.5 349.76,85.57 349.54,86.72 349.32,87.81 349.07,88.7 348.8,89.25 348.49,89.41 348.15,89.28 347.79,88.95 347.43,88.5 347.06,88.03 346.7,87.6 346.35,87.15 346,86.6 345.65,86.01 345.3,85.46 344.95,85.04 344.6,84.8 344.24,84.82 343.87,85.06 343.51,85.41 343.15,85.79 342.81,86.08 342.5,86.2 342.24,86.09 342.03,85.81 341.84,85.46 341.64,85.11 341.41,84.86 341.1,84.8 340.71,84.95 340.24,85.24 339.74,85.63 339.23,86.07 338.74,86.51 338.3,86.9 337.92,87.29 337.58,87.73 337.26,88.17 336.93,88.56 336.59,88.85 336.2,89 335.77,88.99 335.31,88.84 334.84,88.61 334.34,88.3 333.83,87.95 333.3,87.6 332.74,87.2 332.15,86.72 331.54,86.2 330.94,85.68 330.35,85.2 329.8,84.8 329.3,84.42 328.84,84.02 328.4,83.66 327.96,83.4 327.5,83.29 327,83.4 326.45,83.81 325.86,84.49 325.24,85.32 324.63,86.2 324.05,87 323.5,87.6 322.97,88.01 322.44,88.33 321.93,88.56 321.47,88.74 321.08,88.88 320.8,89" fill="#7d7d7d" stroke="#7d7d7d" stroke-width="0.6" stroke-linejoin="round" opacity="1.0"/>
<polygon points="422,89.6 422.06,89.27 422.13,88.92 422.22,88.46 422.34,87.78 422.49,86.79 422.7,85.4 422.98,83.29 423.32,80.48 423.71,77.36 424.1,74.32 424.47,71.77 424.8,70.1 425.07,69.43 425.32,69.49 425.54,70.02 425.76,70.8 425.97,71.61 426.2,72.2 426.43,72.54 426.66,72.8 426.89,73.08 427.13,73.48 427.36,74.09 427.6,75 427.85,76.37 428.11,78.13 428.37,80.11 428.63,82.11 428.87,83.94 429.1,85.4 429.3,86.53 429.47,87.49 429.64,88.28 429.8,88.9 429.99,89.34 430.2,89.6 430.46,89.57 430.76,89.21 431.07,88.68 431.39,88.12 431.67,87.68 431.9,87.5 432.07,87.52 432.18,87.62 432.27,87.84 432.35,88.21 432.45,88.78 432.6,89.6 432.78,90.95 432.99,92.87 433.21,94.99 433.46,96.95 433.72,98.37 434,98.9 434.31,98.37 434.65,97.05 435.01,95.2 435.37,93.08 435.74,90.96 436.1,89.1 436.45,87.45 436.79,85.8 437.13,84.15 437.48,82.5 437.83,80.85 438.2,79.2 438.58,77.38 438.97,75.36 439.38,73.33 439.78,71.52 440.19,70.14 440.6,69.4 441.01,69.36 441.41,69.86 441.83,70.79 442.24,72.04 442.66,73.48 443.1,75 443.55,76.71 444.01,78.71 444.48,80.91 444.96,83.21 445.43,85.51 445.9,87.7 446.38,89.9 446.89,92.22 447.39,94.53 447.87,96.73 448.31,98.69 448.7,100.3 449.01,101.45 449.27,102.21 449.49,102.74 449.69,103.2 449.88,103.73 450.1,104.5 450.33,105.76 450.57,107.44 450.8,109.19 451.03,110.7 451.27,111.61 451.5,111.6 451.73,110.38 451.94,108.16 452.16,105.34 452.38,102.36 452.63,99.6 452.9,97.5 453.21,96.18 453.54,95.35 453.9,94.76 454.27,94.15 454.64,93.28 455,91.9 455.39,89.77 455.81,87.04 456.23,84.05 456.63,81.14 456.96,78.64 457.2,76.9 457.2,78.9 456.96,80.76 456.63,83.43 456.23,86.55 455.81,89.74 455.39,92.65 455,94.9 454.64,96.34 454.27,97.22 453.9,97.82 453.54,98.39 453.21,99.2 452.9,100.5 452.63,102.6 452.38,105.36 452.16,108.34 451.94,111.16 451.73,113.38 451.5,114.6 451.27,114.61 451.03,113.7 450.8,112.19 450.57,110.44 450.33,108.76 450.1,107.5 449.88,106.73 449.69,106.2 449.49,105.74 449.27,105.21 449.01,104.45 448.7,103.3 448.31,101.69 447.87,99.73 447.39,97.53 446.89,95.22 446.38,92.9 445.9,90.7 445.43,88.51 444.96,86.21 444.48,83.91 444.01,81.71 443.55,79.71 443.1,78 442.66,76.48 442.24,75.04 441.83,73.79 441.41,72.86 441.01,72.36 440.6,72.4 440.19,73.14 439.78,74.52 439.38,76.33 438.97,78.36 438.58,80.38 438.2,82.2 437.83,83.85 437.48,85.5 437.13,87.15 436.79,88.8 436.45,90.45 436.1,92.1 435.74,93.97 435.37,96.12 435.01,98.26 434.65,100.13 434.31,101.43 434,101.9 433.72,101.25 433.46,99.65 433.21,97.49 432.99,95.17 432.78,93.07 432.6,91.6 432.45,90.73 432.35,90.14 432.27,89.77 432.18,89.59 432.07,89.51 431.9,89.5 431.67,89.68 431.39,90.12 431.07,90.68 430.76,91.21 430.46,91.57 430.2,91.6 429.99,91.32 429.8,90.86 429.64,90.22 429.47,89.42 429.3,88.47 429.1,87.4 428.87,86.06 428.63,84.41 428.37,82.61 428.11,80.84 427.85,79.24 427.6,78 427.36,77.14 427.13,76.55 426.89,76.14 426.66,75.84 426.43,75.55 426.2,75.2 425.97,74.62 425.76,73.84 425.54,73.08 425.32,72.56 425.07,72.49 424.8,73.1 424.47,74.65 424.1,77.03 423.71,79.86 423.32,82.77 422.98,85.41 422.7,87.4 422.49,88.73 422.34,89.7 422.22,90.39 422.13,90.89 422.06,91.26 422,91.6" fill="#7d7d7d" stroke="#7d7d7d" stroke-width="0.6" stroke-linejoin="round" opacity="1.0"/>
<polyline points="448.7,98 448.85,97.88 449.05,97.77 449.29,97.61 449.56,97.34 449.83,96.89 450.1,96.2 450.37,95.03 450.64,93.38 450.93,91.55 451.22,89.84 451.51,88.56 451.8,88 452.09,88.43 452.37,89.65 452.66,91.3 452.95,92.99 453.23,94.35 453.5,95 453.78,94.8 454.07,94.04 454.36,92.94 454.62,91.74 454.84,90.68 455,90" fill="none" stroke="#b0b0b0" stroke-width="0.8" stroke-linejoin="round" opacity="1.0"/>
<polygon points="475.3,49.75 475.32,51.88 475.32,54.94 475.34,58.5 475.39,62.15 475.5,65.46 475.7,68 476.01,69.64 476.43,70.69 476.91,71.4 477.4,72.02 477.88,72.8 478.3,74 478.66,75.62 479.01,77.47 479.33,79.48 479.64,81.59 479.93,83.73 480.2,85.85 480.46,88.08 480.7,90.51 480.93,92.98 481.14,95.32 481.33,97.38 481.5,99 481.61,100.21 481.66,101.13 481.68,101.78 481.73,102.14 481.86,102.21 482.1,102 482.48,101.37 482.95,100.3 483.5,98.94 484.09,97.45 484.7,95.98 485.3,94.7 485.9,93.6 486.52,92.55 487.16,91.53 487.81,90.5 488.46,89.43 489.1,88.3 489.73,87.03 490.37,85.64 491,84.21 491.63,82.83 492.27,81.6 492.9,80.6 493.54,79.82 494.19,79.2 494.84,78.71 495.48,78.37 496.1,78.17 496.7,78.1 497.27,78.15 497.81,78.31 498.34,78.62 498.86,79.09 499.37,79.74 499.9,80.6 500.44,81.81 500.99,83.37 501.54,85.12 502.09,86.89 502.61,88.5 503.1,89.8 503.56,90.79 503.98,91.61 504.39,92.28 504.79,92.82 505.19,93.25 505.6,93.6 506.03,93.97 506.46,94.37 506.9,94.66 507.34,94.71 507.77,94.38 508.2,93.55 508.62,92.05 509.04,89.95 509.45,87.48 509.86,84.85 510.28,82.28 510.7,80 511.13,78.01 511.57,76.14 512.01,74.33 512.45,72.52 512.88,70.67 513.3,68.7 513.71,66.3 514.12,63.45 514.52,60.55 514.9,57.99 515.27,56.18 515.6,55.5 515.9,56.25 516.17,58.17 516.41,60.83 516.64,63.81 516.87,66.67 517.1,69 517.33,70.86 517.55,72.59 517.77,74.22 517.98,75.74 518.19,77.17 518.4,78.5 518.59,79.79 518.76,81.03 518.92,82.17 519.1,83.16 519.32,83.96 519.6,84.5 519.95,84.67 520.37,84.49 520.82,84.11 521.29,83.68 521.76,83.36 522.2,83.3 522.63,83.55 523.06,83.98 523.49,84.53 523.91,85.1 524.32,85.61 524.7,86 525.05,86.23 525.38,86.36 525.69,86.44 525.99,86.51 526.29,86.61 526.6,86.8 526.94,87.1 527.3,87.48 527.67,87.9 528.01,88.31 528.29,88.66 528.5,88.9 528.5,97.9 528.29,97.99 528.01,98.12 527.67,98.28 527.3,98.44 526.94,98.62 526.6,98.8 526.29,99.1 525.99,99.56 525.69,100.02 525.38,100.35 525.05,100.39 524.7,100 524.32,98.94 523.91,97.3 523.49,95.36 523.06,93.45 522.63,91.86 522.2,90.9 521.76,90.78 521.29,91.29 520.82,92.13 520.37,92.99 519.95,93.54 519.6,93.5 519.32,92.81 519.1,91.71 518.92,90.32 518.76,88.74 518.59,87.1 518.4,85.5 518.19,83.94 517.98,82.33 517.77,80.66 517.55,78.89 517.33,77.01 517.1,75 516.87,72.44 516.64,69.25 516.41,65.96 516.17,63.06 515.9,61.07 515.6,60.5 515.27,61.79 514.9,64.62 514.52,68.36 514.12,72.38 513.71,76.03 513.3,78.7 512.88,80.19 512.45,80.99 512.01,81.42 511.57,81.84 511.13,82.59 510.7,84 510.28,86.38 509.86,89.5 509.45,92.95 509.04,96.3 508.62,99.14 508.2,101.05 507.77,101.91 507.34,102.02 506.9,101.63 506.46,100.94 506.03,100.19 505.6,99.6 505.19,99.19 504.79,98.78 504.39,98.31 503.98,97.7 503.56,96.89 503.1,95.8 502.61,94.26 502.09,92.29 501.54,90.12 500.99,87.96 500.44,86.05 499.9,84.6 499.37,83.62 498.86,82.94 498.34,82.49 497.81,82.24 497.27,82.13 496.7,82.1 496.1,82.17 495.48,82.37 494.84,82.71 494.19,83.2 493.54,83.82 492.9,84.6 492.27,85.59 491.63,86.79 491,88.14 490.37,89.56 489.73,90.97 489.1,92.3 488.46,93.54 487.81,94.76 487.16,95.96 486.52,97.18 485.9,98.42 485.3,99.7 484.7,101.19 484.09,102.89 483.5,104.62 482.95,106.19 482.48,107.38 482.1,108 481.86,108.05 481.73,107.68 481.68,106.93 481.66,105.87 481.61,104.55 481.5,103 481.33,101.09 481.14,98.75 480.93,96.13 480.7,93.42 480.46,90.77 480.2,88.35 479.93,86.09 479.64,83.83 479.33,81.63 479.01,79.56 478.66,77.66 478.3,76 477.88,74.78 477.4,74 476.91,73.4 476.43,72.71 476.01,71.66 475.7,70 475.5,67.4 475.39,64 475.34,60.25 475.32,56.58 475.32,53.44 475.3,51.25" fill="#7d7d7d" stroke="#7d7d7d" stroke-width="0.6" stroke-linejoin="round" opacity="1.0"/>
<rect x="320.2" y="11.9" width="222.8" height="148.4" fill="none" stroke="#2a2a2a" stroke-width="1.1"/>
<line x1="330.1" y1="160.3" x2="330.1" y2="164.7" stroke="#2a2a2a" stroke-width="1"/>
<text x="330.1" y="174.9" text-anchor="middle" font-size="8.5">500</text>
<line x1="379.61" y1="160.3" x2="379.61" y2="164.7" stroke="#2a2a2a" stroke-width="1"/>
<text x="379.61" y="174.9" text-anchor="middle" font-size="8.5">1000</text>
<line x1="429.12" y1="160.3" x2="429.12" y2="164.7" stroke="#2a2a2a" stroke-width="1"/>
<text x="429.12" y="174.9" text-anchor="middle" font-size="8.5">1500</text>
<line x1="478.64" y1="160.3" x2="478.64" y2="164.7" stroke="#2a2a2a" stroke-width="1"/>
<text x="478.64" y="174.9" text-anchor="middle" font-size="8.5">2000</text>
<line x1="528.15" y1="160.3" x2="528.15" y2="164.7" stroke="#2a2a2a" stroke-width="1"/>
<text x="528.15" y="174.9" text-anchor="middle" font-size="8.5">2500</text>
<line x1="354.86" y1="160.3" x2="354.86" y2="162.5" stroke="#2a2a2a" stroke-width="1"/>
<line x1="404.37" y1="160.3" x2="404.37" y2="162.5" stroke="#2a2a2a" stroke-width="1"/>
<line x1="453.88" y1="160.3" x2="453.88" y2="162.5" stroke="#2a2a2a" stroke-width="1"/>
<line x1="503.39" y1="160.3" x2="503.39" y2="162.5" stroke="#2a2a2a" stroke-width="1"/>
<line x1="315.2" y1="11.9" x2="320.2" y2="11.9" stroke="#2a2a2a" stroke-width="1"/>
<text x="312.1" y="14.8" text-anchor="end" font-size="8.5">0.2</text>
<line x1="315.2" y1="49" x2="320.2" y2="49" stroke="#2a2a2a" stroke-width="1"/>
<text x="312.1" y="51.9" text-anchor="end" font-size="8.5">0.1</text>
<line x1="315.2" y1="86.1" x2="320.2" y2="86.1" stroke="#2a2a2a" stroke-width="1"/>
<text x="312.1" y="89" text-anchor="end" font-size="8.5">0.0</text>
<line x1="315.2" y1="123.2" x2="320.2" y2="123.2" stroke="#2a2a2a" stroke-width="1"/>
<text x="312.1" y="126.1" text-anchor="end" font-size="8.5">−0.1</text>
<line x1="315.2" y1="160.3" x2="320.2" y2="160.3" stroke="#2a2a2a" stroke-width="1"/>
<text x="312.1" y="163.2" text-anchor="end" font-size="8.5">−0.2</text>
<line x1="318" y1="30.45" x2="320.2" y2="30.45" stroke="#2a2a2a" stroke-width="1"/>
<line x1="318" y1="67.55" x2="320.2" y2="67.55" stroke="#2a2a2a" stroke-width="1"/>
<line x1="318" y1="104.65" x2="320.2" y2="104.65" stroke="#2a2a2a" stroke-width="1"/>
<line x1="318" y1="141.75" x2="320.2" y2="141.75" stroke="#2a2a2a" stroke-width="1"/>
<text x="431.6" y="185.9" text-anchor="middle" font-size="8.7">Wavelength (nm)</text>
<text x="293" y="86.1" text-anchor="middle" font-size="8.7" transform="rotate(-90 293 86.1)">Value</text>
<text x="417.8" y="211.2" text-anchor="middle" font-size="14" style="font-family:Liberation Serif,serif;font-weight:bold;fill:#111">(h)</text>
<line x1="432.3" y1="21.9" x2="443.8" y2="21.9" stroke="#c4c4c4" stroke-width="1.2"/>
<text x="448.2" y="20.6" font-size="8.0" class="lg">High-frequency coefficient</text>
<text x="448.2" y="30.1" font-size="8.0" class="lg">reconstruction signal</text>
<polyline points="127.2,300 127.58,298.64 128.11,296.7 128.73,294.44 129.38,292.07 129.99,289.85 130.5,288 130.91,286.49 131.27,285.13 131.59,283.91 131.88,282.81 132.15,281.85 132.4,281 132.64,280.29 132.87,279.74 133.07,279.31 133.24,278.98 133.39,278.72 133.5,278.5" fill="none" stroke="#bdbdbd" stroke-width="0.7" stroke-linejoin="round" opacity="1.0"/>
<polygon points="37.8,356 38.65,355.07 39.84,353.79 41.25,352.28 42.73,350.64 44.16,349.01 45.4,347.5 46.46,346.13 47.46,344.8 48.41,343.47 49.3,342.1 50.17,340.66 51,339.1 51.79,337.3 52.53,335.26 53.24,333.15 53.92,331.11 54.6,329.31 55.3,327.9 55.99,326.91 56.66,326.24 57.32,325.8 58,325.51 58.72,325.31 59.5,325.1 60.37,325.04 61.31,325.23 62.29,325.49 63.27,325.67 64.22,325.59 65.1,325.1 65.92,323.9 66.73,322.07 67.49,319.99 68.22,318.03 68.89,316.57 69.5,316 70.03,316.43 70.49,317.57 70.89,319.23 71.27,321.16 71.63,323.16 72,325 72.36,327.08 72.7,329.64 73.03,332.27 73.36,334.54 73.71,336.02 74.1,336.3 74.54,335 75.01,332.39 75.5,328.99 76,325.34 76.51,321.97 77,319.4 77.48,317.5 77.97,315.81 78.46,314.41 78.94,313.33 79.42,312.64 79.9,312.4 80.38,312.67 80.86,313.43 81.33,314.58 81.8,316.02 82.26,317.66 82.7,319.4 83.11,321.88 83.47,325.29 83.83,328.91 84.2,331.97 84.62,333.75 85.1,333.5 85.67,330.77 86.31,326.08 86.99,320.1 87.69,313.51 88.37,306.98 89,301.2 89.6,295.63 90.2,289.62 90.78,283.68 91.33,278.31 91.84,274.02 92.3,271.3 92.68,270.22 92.97,270.39 93.23,271.64 93.48,273.79 93.76,276.66 94.1,280.1 94.52,284.8 95.01,291.05 95.53,298.03 96.03,304.92 96.5,310.91 96.9,315.2 97.17,317.68 97.34,318.99 97.46,319.41 97.62,319.2 97.87,318.64 98.3,318 98.93,317.06 99.7,315.56 100.58,313.71 101.51,311.73 102.43,309.82 103.3,308.2 104.12,306.87 104.94,305.66 105.76,304.52 106.57,303.43 107.38,302.33 108.2,301.2 109.02,299.87 109.83,298.35 110.65,296.82 111.47,295.5 112.28,294.56 113.1,294.2 113.92,294.51 114.76,295.34 115.59,296.56 116.42,298.04 117.22,299.63 118,301.2 118.73,303.03 119.42,305.3 120.09,307.67 120.77,309.86 121.46,311.54 122.2,312.4 122.99,312.44 123.81,311.91 124.66,310.88 125.51,309.4 126.36,307.55 127.2,305.4 128.06,302.55 128.97,298.87 129.88,294.82 130.73,290.86 131.49,287.43 132.1,285 132.55,283.7 132.88,283.19 133.11,283.23 133.27,283.54 133.39,283.88 133.5,284 133.5,329 133.39,329.14 133.27,329.26 133.11,329.44 132.88,329.74 132.55,330.24 132.1,331 131.48,332.13 130.71,333.59 129.84,335.24 128.93,336.96 128.03,338.59 127.2,340 126.42,341.32 125.65,342.68 124.89,343.96 124.15,345.04 123.42,345.79 122.7,346.1 122.01,345.84 121.36,345.1 120.73,344.03 120.08,342.8 119.41,341.57 118.7,340.5 117.94,339.49 117.13,338.37 116.31,337.26 115.47,336.25 114.63,335.43 113.8,334.9 112.99,334.68 112.19,334.69 111.39,334.9 110.59,335.26 109.76,335.74 108.9,336.3 108,336.92 107.06,337.64 106.11,338.48 105.15,339.46 104.21,340.59 103.3,341.9 102.41,343.78 101.53,346.29 100.67,348.96 99.83,351.31 99.04,352.88 98.3,353.2 97.62,352.31 97,350.59 96.41,348.09 95.86,344.84 95.33,340.9 94.8,336.3 94.28,330.01 93.77,321.8 93.28,312.88 92.82,304.49 92.39,297.86 92,294.2 91.69,293.87 91.46,295.94 91.27,299.77 91.06,304.69 90.79,310.06 90.4,315.2 89.86,320.78 89.19,327.46 88.46,334.57 87.72,341.47 87.05,347.5 86.5,352 86.13,354.96 85.89,356.9 85.71,357.97 85.52,358.31 85.24,358.07 84.8,357.4 84.14,355.78 83.3,353 82.38,349.64 81.45,346.28 80.6,343.5 79.9,341.9 79.39,341.55 79.02,341.99 78.72,343.03 78.44,344.43 78.12,345.99 77.7,347.5 77.18,349.37 76.6,351.85 75.99,354.49 75.35,356.83 74.72,358.42 74.1,358.8 73.5,357.45 72.89,354.62 72.28,351.04 71.68,347.43 71.08,344.51 70.5,343 69.95,343.14 69.44,344.4 68.93,346.36 68.41,348.56 67.84,350.59 67.2,352 66.5,352.8 65.76,353.35 64.98,353.72 64.15,353.98 63.26,354.22 62.3,354.5 61.22,354.8 60.02,355.06 58.76,355.28 57.51,355.5 56.33,355.73 55.3,356 54.44,356.28 53.71,356.54 53.06,356.81 52.43,357.13 51.76,357.52 51,358 50.17,358.58 49.3,359.24 48.41,359.97 47.46,360.76 46.46,361.61 45.4,362.5 44.16,363.54 42.73,364.76 41.25,366.03 39.84,367.24 38.65,368.27 37.8,369" fill="#a1a1a1" stroke="#b6b6b6" stroke-width="0.9" stroke-linejoin="round"/>
<polygon points="37.8,360.55 38.5,359.84 39.2,359.14 39.9,358.44 40.6,357.74 41.3,357.04 42,356.33 42.7,355.62 43.4,354.89 44.1,354.16 44.8,353.4 45.5,352.64 46.2,351.84 46.9,351.04 47.6,350.22 48.3,349.37 49,348.49 49.7,347.56 50.4,346.59 51.1,345.55 51.8,344.35 52.5,342.96 53.2,341.48 53.9,340.03 54.6,338.74 55.3,337.73 56,337.02 56.7,336.52 57.4,336.18 58.1,335.95 58.8,335.78 59.5,335.62 60.2,335.54 60.9,335.55 61.6,335.59 62.3,335.65 63,335.66 63.7,335.6 64.4,335.44 65.1,335.1 65.8,334.32 66.5,333.16 67.2,331.71 67.9,329.91 68.6,327.9 69.3,326.25 70,325.76 70.7,327.21 71.4,330.36 72.1,334.11 72.8,338.73 73.5,342.95 74.2,343.96 74.9,341.73 75.6,337.95 76.3,333.79 77,330.16 77.7,327.51 78.4,325.08 79.1,323.18 79.8,322.73 80.5,323.51 81.2,325.18 81.9,327.41 82.6,330.01 83.3,333.94 84,339.06 84.7,341.92 85.4,341.22 86.1,337.27 86.8,331.51 87.5,325.16 88.2,318.53 88.9,311.97 89.6,305.35 90.3,298.27 91,290.06 91.7,281.75 92.4,280.47 93.1,284.51 93.8,292.89 94.5,301.38 95.2,309.78 95.9,317.8 96.6,324.89 97.3,330.15 98,330.47 98.7,329.87 99.4,328.76 100.1,327.27 100.8,325.6 101.5,323.87 102.2,322.23 102.9,320.78 103.6,319.53 104.3,318.46 105,317.5 105.7,316.61 106.4,315.76 107.1,314.93 107.8,314.12 108.5,313.26 109.2,312.33 109.9,311.33 110.6,310.34 111.3,309.48 112,308.83 112.7,308.48 113.4,308.48 114.1,308.83 114.8,309.47 115.5,310.38 116.2,311.47 116.9,312.66 117.6,313.91 118.3,315.26 119,316.88 119.7,318.82 120.4,320.83 121.1,322.56 121.8,323.72 122.5,324.18 123.2,324.06 123.9,323.53 124.6,322.65 125.3,321.49 126,320.14 126.7,318.64 127.4,316.96 128.1,315.02 128.8,312.74 129.5,310.29 130.2,307.75 130.9,305.19 131.6,302.71 132.3,300.61 133,299.44 133.5,299.75 133.5,325.4 133,325.87 132.3,326.96 131.6,328.32 130.9,329.78 130.2,331.26 129.5,332.74 128.8,334.19 128.1,335.58 127.4,336.87 126.7,338.11 126,339.37 125.3,340.6 124.6,341.71 123.9,342.62 123.2,343.2 122.5,343.34 121.8,342.91 121.1,341.94 120.4,340.63 119.7,339.23 119,337.99 118.3,336.93 117.6,335.93 116.9,334.93 116.2,333.98 115.5,333.1 114.8,332.38 114.1,331.86 113.4,331.55 112.7,331.46 112,331.55 111.3,331.81 110.6,332.19 109.9,332.66 109.2,333.18 108.5,333.71 107.8,334.25 107.1,334.82 106.4,335.46 105.7,336.15 105,336.91 104.3,337.77 103.6,338.77 102.9,340.04 102.2,341.66 101.5,343.62 100.8,345.73 100.1,347.69 99.4,349.29 98.7,350.18 98,350.06 97.3,348.81 96.6,345.94 95.9,341.73 95.2,336.11 94.5,328.83 93.8,318.66 93.1,306.51 92.4,295.86 91.7,292.38 91,303.91 90.3,314.02 89.6,321.14 88.9,328.01 88.2,334.71 87.5,341.21 86.8,347.32 86.1,352.97 85.4,356.12 84.7,355.28 84,353.32 83.3,350.64 82.6,347.92 81.9,345.38 81.2,342.96 80.5,340.85 79.8,339.48 79.1,339.59 78.4,342.21 77.7,345.04 77,347.69 76.3,350.77 75.6,353.7 74.9,355.96 74.2,356.92 73.5,355.67 72.8,352.21 72.1,348.01 71.4,344.14 70.7,341.51 70,340.99 69.3,342.63 68.6,345.31 67.9,347.85 67.2,349.5 66.5,350.39 65.8,350.98 65.1,351.38 64.4,351.63 63.7,351.82 63,352 62.3,352.18 61.6,352.35 60.9,352.49 60.2,352.62 59.5,352.75 58.8,352.88 58.1,353 57.4,353.14 56.7,353.3 56,353.51 55.3,353.75 54.6,354.07 53.9,354.45 53.2,354.88 52.5,355.36 51.8,355.88 51.1,356.41 50.4,356.96 49.7,357.54 49,358.13 48.3,358.74 47.6,359.36 46.9,359.98 46.2,360.6 45.5,361.21 44.8,361.82 44.1,362.43 43.4,363.05 42.7,363.66 42,364.27 41.3,364.89 40.6,365.5 39.9,366.12 39.2,366.73 38.5,367.35 37.8,367.96" fill="#8b8b8b" stroke="#8b8b8b" stroke-width="0.5" stroke-linejoin="round"/>
<polygon points="141.3,284.4 141.6,283.02 142.03,280.98 142.53,278.62 143.06,276.31 143.6,274.39 144.1,273.2 144.57,272.79 145.03,272.89 145.49,273.38 145.96,274.13 146.43,275.05 146.9,276 147.38,277.04 147.86,278.28 148.35,279.67 148.84,281.18 149.32,282.77 149.8,284.4 150.26,286.17 150.71,288.14 151.16,290.18 151.62,292.2 152.09,294.07 152.6,295.7 153.12,297.11 153.64,298.4 154.17,299.56 154.75,300.55 155.39,301.37 156.1,302 156.94,302.39 157.9,302.54 158.91,302.52 159.93,302.38 160.88,302.19 161.7,302 162.39,301.79 163,301.52 163.54,301.19 164.04,300.81 164.52,300.41 165,300 165.46,299.58 165.9,299.14 166.31,298.68 166.7,298.17 167.1,297.62 167.5,297 167.91,296.41 168.32,295.87 168.73,295.29 169.13,294.55 169.52,293.55 169.9,292.2 170.27,290.4 170.64,288.22 170.99,285.78 171.34,283.21 171.68,280.65 172,278.2 172.31,275.85 172.59,273.5 172.87,271.15 173.14,268.8 173.42,266.45 173.7,264.1 173.99,261.75 174.29,259.38 174.59,257.01 174.89,254.67 175.19,252.36 175.5,250.1 175.83,247.76 176.2,245.3 176.56,242.88 176.9,240.64 177.19,238.77 177.4,237.4 177.9,242 177.89,244.48 177.87,247.99 177.85,252.11 177.82,256.43 177.77,260.53 177.7,264 177.61,266.82 177.5,269.32 177.37,271.6 177.23,273.77 177.08,275.94 176.9,278.2 176.72,280.54 176.53,282.88 176.32,285.21 176.09,287.53 175.82,289.86 175.5,292.2 175.13,294.46 174.72,296.64 174.27,298.81 173.79,301.09 173.26,303.55 172.7,306.3 172.06,309.55 171.34,313.28 170.58,317.2 169.83,321.03 169.12,324.49 168.5,327.3 167.99,329.41 167.56,331.03 167.17,332.29 166.8,333.29 166.42,334.15 166,335 165.57,335.77 165.16,336.35 164.74,336.79 164.28,337.15 163.74,337.47 163.1,337.8 162.31,338.18 161.41,338.58 160.42,338.94 159.41,339.2 158.42,339.31 157.5,339.2 156.63,338.86 155.77,338.32 154.93,337.62 154.11,336.81 153.33,335.93 152.6,335 151.93,333.95 151.33,332.72 150.76,331.41 150.2,330.13 149.62,328.96 149,328 148.33,327.21 147.62,326.5 146.89,325.9 146.17,325.46 145.47,325.21 144.8,325.2 144.14,325.54 143.45,326.24 142.79,327.12 142.18,328.05 141.67,328.86 141.3,329.4" fill="#a1a1a1" stroke="#b6b6b6" stroke-width="0.9" stroke-linejoin="round"/>
<polygon points="141.3,288.9 142,285.83 142.7,282.81 143.4,280.23 144.1,278.44 144.8,278.08 145.5,278.57 146.2,279.69 146.9,280.99 147.6,282.49 148.3,284.29 149,286.34 149.7,288.56 150.4,291.15 151.1,294.13 151.8,296.99 152.5,299.32 153.2,301.16 153.9,302.73 154.6,303.99 155.3,304.93 156,305.57 156.7,305.94 157.4,306.13 158.1,306.21 158.8,306.2 159.5,306.11 160.2,305.99 160.9,305.84 161.6,305.67 162.3,305.46 163,305.15 163.7,304.71 164.4,304.17 165.1,303.56 165.8,302.85 166.5,301.98 167.2,300.93 167.9,299.76 168.6,298.61 169.3,297.06 170,294.56 170.7,290.67 171.4,285.78 172.1,280.62 172.8,275.14 173.5,269.42 174.2,264 174.9,258.69 175.6,253.6 176.3,248.7 177,243.71 177.4,240.77 177.4,266.08 177,271.37 176.3,279.33 175.6,285.16 174.9,289.52 174.2,293.3 173.5,296.94 172.8,300.7 172.1,304.57 171.4,308.44 170.7,312.27 170,315.88 169.3,319.18 168.6,322.14 167.9,324.75 167.2,326.98 166.5,328.64 165.8,329.94 165.1,330.94 164.4,331.58 163.7,332.03 163,332.4 162.3,332.73 161.6,333.02 160.9,333.28 160.2,333.5 159.5,333.67 158.8,333.75 158.1,333.76 157.4,333.66 156.7,333.39 156,332.98 155.3,332.43 154.6,331.75 153.9,330.93 153.2,329.99 152.5,328.92 151.8,327.56 151.1,325.85 150.4,324.02 149.7,322.36 149,321.06 148.3,320.03 147.6,319.15 146.9,318.42 146.2,317.85 145.5,317.45 144.8,317.35 144.1,317.72 143.4,318.63 142.7,319.85 142,321.26 141.3,322.65" fill="#8b8b8b" stroke="#8b8b8b" stroke-width="0.5" stroke-linejoin="round"/>
<polygon points="195.6,250.7 195.89,252.69 196.27,255.44 196.73,258.71 197.25,262.22 197.81,265.74 198.4,269 199.01,272.28 199.67,275.83 200.38,279.38 201.11,282.66 201.89,285.39 202.7,287.3 203.54,288.22 204.42,288.35 205.33,287.92 206.28,287.21 207.27,286.45 208.3,285.9 209.4,285.43 210.58,284.8 211.8,284.14 213.02,283.54 214.2,283.12 215.3,283 216.32,283.23 217.3,283.72 218.23,284.4 219.14,285.17 220.02,285.93 220.9,286.6 221.77,287.3 222.63,288.11 223.48,288.93 224.29,289.62 225.07,290.05 225.8,290.1 226.47,289.86 227.07,289.45 227.64,288.78 228.2,287.77 228.78,286.34 229.4,284.4 230.07,281.71 230.78,278.28 231.51,274.42 232.23,270.46 232.93,266.68 233.6,263.4 234.25,260.5 234.9,257.72 235.52,255.12 236.11,252.8 236.65,250.84 237.1,249.3 237.45,248.28 237.7,247.74 237.89,247.54 238.06,247.59 238.25,247.74 238.5,247.9 238.8,248.08 239.12,248.37 239.46,248.78 239.82,249.3 240.2,249.94 240.6,250.7 241.02,251.67 241.46,252.88 241.91,254.2 242.39,255.52 242.88,256.73 243.4,257.7 243.96,258.38 244.57,258.84 245.19,259.18 245.81,259.51 246.39,259.91 246.9,260.5 247.33,261.22 247.69,261.98 248.02,262.83 248.33,263.79 248.65,264.9 249,266.2 249.41,267.88 249.87,269.94 250.33,272.16 250.77,274.29 251.14,276.12 251.4,277.4 251.4,278.1 250.99,277.37 250.43,276.34 249.76,275.13 249.04,273.87 248.3,272.72 247.6,271.8 246.92,271.13 246.23,270.61 245.52,270.18 244.81,269.8 244.1,269.43 243.4,269 242.7,268.31 242,267.34 241.3,266.37 240.6,265.68 239.9,265.53 239.2,266.2 238.5,267.69 237.8,269.77 237.1,272.4 236.4,275.52 235.7,279.07 235,283 234.31,287.68 233.63,293.22 232.95,299.2 232.26,305.18 231.55,310.72 230.8,315.4 230.01,319.31 229.19,322.83 228.34,325.91 227.49,328.53 226.64,330.63 225.8,332.2 224.99,333.04 224.21,333.13 223.43,332.73 222.63,332.04 221.8,331.33 220.9,330.8 219.93,330.37 218.9,329.81 217.84,329.23 216.75,328.67 215.67,328.24 214.6,328 213.54,328.02 212.47,328.26 211.41,328.61 210.35,328.99 209.31,329.28 208.3,329.4 207.29,329.62 206.28,330.08 205.29,330.46 204.34,330.44 203.47,329.73 202.7,328 202.08,325.06 201.58,321.13 201.16,316.49 200.76,311.45 200.33,306.29 199.8,301.3 199.13,296.04 198.34,290.17 197.52,284.18 196.74,278.57 196.07,273.81 195.6,270.4" fill="#a1a1a1" stroke="#b6b6b6" stroke-width="0.9" stroke-linejoin="round"/>
<polygon points="195.6,252.28 196.3,257.24 197,262.12 197.7,266.66 198.4,270.73 199.1,274.58 199.8,278.45 200.5,282.21 201.2,285.68 201.9,288.47 202.6,290.3 203.3,291.27 204,291.64 204.7,291.6 205.4,291.28 206.1,290.77 206.8,290.25 207.5,289.79 208.2,289.43 208.9,289.14 209.6,288.83 210.3,288.48 211,288.11 211.7,287.74 212.4,287.4 213.1,287.08 213.8,286.85 214.5,286.68 215.2,286.62 215.9,286.75 216.6,286.99 217.3,287.34 218,287.84 218.7,288.39 219.4,288.97 220.1,289.55 220.8,290.06 221.5,290.6 222.2,291.22 222.9,291.89 223.6,292.54 224.3,293.1 225,293.45 225.7,293.47 226.4,293.18 227.1,292.62 227.8,291.63 228.5,290.1 229.2,288.05 229.9,285.39 230.6,282.14 231.3,278.46 232,274.55 232.7,270.61 233.4,266.85 234.1,263.42 234.8,260.23 235.5,257.23 236.2,254.41 236.9,251.84 237.6,249.75 238.3,249.41 239,249.73 239.7,250.45 240.4,251.55 241.1,253.04 241.8,254.93 242.5,256.77 243.2,258.24 243.9,259.18 244.6,259.72 245.3,260.1 246,260.51 246.7,261.13 247.4,262.19 248.1,263.83 248.8,266.1 249.5,268.79 250.2,271.88 250.9,275.13 251.4,277.46 251.4,277.96 250.9,276.76 250.2,275.04 249.5,273.39 248.8,271.89 248.1,270.58 247.4,269.56 246.7,268.82 246,268.3 245.3,267.9 244.6,267.52 243.9,267.1 243.2,266.51 242.5,265.58 241.8,264.43 241.1,263.32 240.4,262.58 239.7,262.4 239,262.95 238.3,264.18 237.6,266.01 236.9,268.63 236.2,271.72 235.5,275.2 234.8,279.11 234.1,283.74 233.4,289.07 232.7,294.68 232,300.1 231.3,304.92 230.6,308.95 229.9,312.31 229.2,315.23 228.5,317.68 227.8,319.76 227.1,321.47 226.4,322.84 225.7,323.86 225,324.43 224.3,324.42 223.6,324.06 222.9,323.49 222.2,322.88 221.5,322.34 220.8,321.91 220.1,321.55 219.4,321.14 218.7,320.72 218,320.3 217.3,319.91 216.6,319.56 215.9,319.29 215.2,319.11 214.5,319.02 213.8,319.07 213.1,319.2 212.4,319.4 211.7,319.65 211,319.92 210.3,320.19 209.6,320.42 208.9,320.59 208.2,320.73 207.5,320.93 206.8,321.24 206.1,321.59 205.4,321.91 204.7,322 204,321.79 203.3,321.07 202.6,319.44 201.9,316.01 201.2,310.12 200.5,302.65 199.8,296.33 199.1,291.22 198.4,286.29 197.7,281.41 197,276.47 196.3,271.48 195.6,266.46" fill="#8b8b8b" stroke="#8b8b8b" stroke-width="0.5" stroke-linejoin="round"/>
<rect x="37.6" y="223.7" width="222.3" height="148.4" fill="none" stroke="#2a2a2a" stroke-width="1.1"/>
<line x1="47.7" y1="372.1" x2="47.7" y2="376.5" stroke="#2a2a2a" stroke-width="1"/>
<text x="47.7" y="386.7" text-anchor="middle" font-size="8.5">500</text>
<line x1="98.23" y1="372.1" x2="98.23" y2="376.5" stroke="#2a2a2a" stroke-width="1"/>
<text x="98.23" y="386.7" text-anchor="middle" font-size="8.5">1000</text>
<line x1="148.75" y1="372.1" x2="148.75" y2="376.5" stroke="#2a2a2a" stroke-width="1"/>
<text x="148.75" y="386.7" text-anchor="middle" font-size="8.5">1500</text>
<line x1="199.27" y1="372.1" x2="199.27" y2="376.5" stroke="#2a2a2a" stroke-width="1"/>
<text x="199.27" y="386.7" text-anchor="middle" font-size="8.5">2000</text>
<line x1="249.8" y1="372.1" x2="249.8" y2="376.5" stroke="#2a2a2a" stroke-width="1"/>
<text x="249.8" y="386.7" text-anchor="middle" font-size="8.5">2500</text>
<line x1="72.97" y1="372.1" x2="72.97" y2="374.3" stroke="#2a2a2a" stroke-width="1"/>
<line x1="123.49" y1="372.1" x2="123.49" y2="374.3" stroke="#2a2a2a" stroke-width="1"/>
<line x1="174.01" y1="372.1" x2="174.01" y2="374.3" stroke="#2a2a2a" stroke-width="1"/>
<line x1="224.53" y1="372.1" x2="224.53" y2="374.3" stroke="#2a2a2a" stroke-width="1"/>
<line x1="32.6" y1="362.83" x2="37.6" y2="362.83" stroke="#2a2a2a" stroke-width="1"/>
<text x="29.5" y="365.73" text-anchor="end" font-size="8.5">0.1</text>
<line x1="32.6" y1="344.27" x2="37.6" y2="344.27" stroke="#2a2a2a" stroke-width="1"/>
<text x="29.5" y="347.17" text-anchor="end" font-size="8.5">0.2</text>
<line x1="32.6" y1="325.73" x2="37.6" y2="325.73" stroke="#2a2a2a" stroke-width="1"/>
<text x="29.5" y="328.62" text-anchor="end" font-size="8.5">0.3</text>
<line x1="32.6" y1="307.18" x2="37.6" y2="307.18" stroke="#2a2a2a" stroke-width="1"/>
<text x="29.5" y="310.07" text-anchor="end" font-size="8.5">0.4</text>
<line x1="32.6" y1="288.62" x2="37.6" y2="288.62" stroke="#2a2a2a" stroke-width="1"/>
<text x="29.5" y="291.52" text-anchor="end" font-size="8.5">0.5</text>
<line x1="32.6" y1="270.07" x2="37.6" y2="270.07" stroke="#2a2a2a" stroke-width="1"/>
<text x="29.5" y="272.97" text-anchor="end" font-size="8.5">0.6</text>
<line x1="32.6" y1="251.53" x2="37.6" y2="251.53" stroke="#2a2a2a" stroke-width="1"/>
<text x="29.5" y="254.43" text-anchor="end" font-size="8.5">0.7</text>
<line x1="32.6" y1="232.97" x2="37.6" y2="232.97" stroke="#2a2a2a" stroke-width="1"/>
<text x="29.5" y="235.88" text-anchor="end" font-size="8.5">0.8</text>
<text x="148.75" y="397.7" text-anchor="middle" font-size="8.7">Wavelength (nm)</text>
<text x="14" y="297.9" text-anchor="middle" font-size="8.7" transform="rotate(-90 14 297.9)">Reflectance</text>
<text x="135" y="423" text-anchor="middle" font-size="14" style="font-family:Liberation Serif,serif;font-weight:bold;fill:#111">(i)</text>
<line x1="194.9" y1="230.7" x2="207.2" y2="230.7" stroke="#c4c4c4" stroke-width="1.2"/>
<text x="213.2" y="233.1" font-size="8.0" class="lg">PQg spectra</text>
<polygon points="320.9,300.3 321.19,300.02 321.58,299.64 322.04,299.19 322.56,298.69 323.08,298.15 323.6,297.6 324.12,296.95 324.66,296.16 325.22,295.33 325.79,294.58 326.35,294.02 326.9,293.75 327.42,293.85 327.93,294.25 328.43,294.83 328.94,295.49 329.46,296.1 330,296.55 330.58,296.85 331.19,297.09 331.82,297.29 332.44,297.45 333.04,297.6 333.6,297.75 334.11,297.91 334.6,298.08 335.06,298.24 335.5,298.35 335.95,298.4 336.4,298.35 336.87,298.16 337.34,297.84 337.81,297.46 338.27,297.07 338.7,296.74 339.1,296.55 339.44,296.53 339.73,296.65 340,296.83 340.27,297.01 340.56,297.1 340.9,297.05 341.3,296.77 341.73,296.31 342.19,295.76 342.66,295.25 343.13,294.88 343.6,294.75 344.06,294.92 344.53,295.31 345,295.84 345.47,296.43 345.94,296.99 346.4,297.45 346.86,297.92 347.33,298.5 347.79,299.05 348.24,299.44 348.68,299.55 349.1,299.25 349.49,298.31 349.87,296.78 350.23,294.97 350.58,293.17 350.93,291.68 351.3,290.8 351.68,290.49 352.07,290.52 352.47,290.85 352.86,291.48 353.24,292.37 353.6,293.5 353.95,295.1 354.3,297.21 354.64,299.59 354.96,301.99 355.25,304.14 355.5,305.8 355.7,307.02 355.84,308.03 355.96,308.79 356.07,309.29 356.21,309.5 356.4,309.4 356.64,309.01 356.92,308.34 357.22,307.39 357.54,306.13 357.87,304.54 358.2,302.6 358.53,300.11 358.87,297.03 359.21,293.62 359.58,290.14 359.97,286.85 360.4,284 360.89,281.31 361.44,278.5 362.02,275.89 362.59,273.75 363.13,272.39 363.6,272.1 363.99,273.06 364.32,275.09 364.62,277.88 364.9,281.17 365.19,284.67 365.5,288.1 365.84,291.77 366.19,295.96 366.55,300.36 366.91,304.66 367.26,308.55 367.6,311.7 367.94,313.74 368.28,314.83 368.62,315.51 368.94,316.3 369.24,317.72 369.5,320.3 369.72,324.93 369.89,331.39 370.04,338.47 370.18,345 370.33,349.81 370.5,351.7 370.7,350.32 370.9,346.55 371.12,341.05 371.34,334.48 371.57,327.51 371.8,320.8 372.04,313.9 372.3,306.2 372.56,298.1 372.81,290 373.07,282.3 373.3,275.4 373.51,268.8 373.71,262.07 373.9,255.75 374.09,250.36 374.29,246.43 374.5,244.5 374.73,245.04 374.97,247.73 375.21,251.88 375.47,256.81 375.73,261.85 376,266.3 376.29,270.46 376.6,274.92 376.91,279.48 377.23,283.94 377.53,288.08 377.8,291.7 378.04,294.74 378.25,297.36 378.45,299.66 378.65,301.76 378.86,303.77 379.1,305.8 379.36,308.06 379.63,310.5 379.91,312.84 380.21,314.84 380.54,316.21 380.9,316.7 381.3,315.96 381.73,314.13 382.19,311.68 382.66,309.08 383.13,306.8 383.6,305.3 384.06,304.74 384.53,304.77 385,305.13 385.47,305.51 385.94,305.67 386.4,305.3 386.86,304.37 387.31,303.09 387.76,301.57 388.2,299.92 388.65,298.26 389.1,296.7 389.55,295.3 390,293.98 390.45,292.65 390.9,291.21 391.35,289.56 391.8,287.6 392.25,284.94 392.7,281.56 393.14,277.98 393.59,274.69 394.04,272.2 394.5,271 394.96,271.4 395.43,273.06 395.9,275.51 396.37,278.29 396.84,280.94 397.3,283 397.76,284.44 398.21,285.61 398.66,286.66 399.1,287.71 399.55,288.88 400,290.3 400.45,292.05 400.9,294.05 401.34,296.18 401.79,298.3 402.24,300.32 402.7,302.1 403.16,303.77 403.63,305.46 404.1,307.03 404.57,308.36 405.04,309.32 405.5,309.8 405.96,309.63 406.41,308.89 406.86,307.78 407.3,306.52 407.75,305.32 408.2,304.4 408.65,303.86 409.1,303.57 409.55,303.34 410,302.99 410.45,302.33 410.9,301.2 411.38,299.33 411.9,296.81 412.42,294 412.9,291.23 413.31,288.85 413.6,287.2 413.6,289.2 413.31,290.96 412.9,293.49 412.42,296.44 411.9,299.44 411.38,302.15 410.9,304.2 410.45,305.51 410,306.36 409.55,306.9 409.1,307.31 408.65,307.76 408.2,308.4 407.75,309.39 407.3,310.63 406.86,311.91 406.41,313 405.96,313.7 405.5,313.8 405.04,313.2 404.57,312.06 404.1,310.53 403.63,308.75 403.16,306.89 402.7,305.1 402.24,303.24 401.79,301.16 401.34,298.99 400.9,296.87 400.45,294.93 400,293.3 399.55,292.09 399.1,291.23 398.66,290.54 398.21,289.87 397.76,289.08 397.3,288 396.84,286.34 396.37,284.18 395.9,281.88 395.43,279.83 394.96,278.41 394.5,278 394.04,278.83 393.59,280.66 393.14,283.11 392.7,285.82 392.25,288.44 391.8,290.6 391.35,292.31 390.9,293.87 390.45,295.34 390,296.76 389.55,298.19 389.1,299.7 388.65,301.38 388.2,303.22 387.76,305.07 387.31,306.79 386.86,308.25 386.4,309.3 385.94,309.74 385.47,309.63 385,309.25 384.53,308.89 384.06,308.81 383.6,309.3 383.13,310.68 382.66,312.79 382.19,315.18 381.73,317.43 381.3,319.08 380.9,319.7 380.54,319.16 380.21,317.8 379.91,315.84 379.63,313.53 379.36,311.11 379.1,308.8 378.86,306.65 378.65,304.46 378.45,302.16 378.25,299.65 378.04,296.86 377.8,293.7 377.53,290.02 377.23,285.86 376.91,281.42 376.6,276.88 376.29,272.44 376,268.3 375.73,263.85 375.47,258.81 375.21,253.88 374.97,249.73 374.73,247.04 374.5,246.5 374.29,248.43 374.09,252.36 373.9,257.75 373.71,264.07 373.51,270.8 373.3,277.4 373.07,284.3 372.81,292 372.56,300.1 372.3,308.2 372.04,315.9 371.8,322.8 371.57,329.5 371.34,336.44 371.12,342.99 370.9,348.48 370.7,352.27 370.5,353.7 370.33,351.94 370.18,347.34 370.04,341.03 369.89,334.16 369.72,327.87 369.5,323.3 369.24,320.66 368.94,319.08 368.62,318.08 368.28,317.17 367.94,315.87 367.6,313.7 367.26,310.48 366.91,306.55 366.55,302.24 366.19,297.85 365.84,293.7 365.5,290.1 365.19,286.79 364.9,283.47 364.62,280.38 364.32,277.79 363.99,275.94 363.6,275.1 363.13,275.46 362.59,276.86 362.02,279.01 361.44,281.61 360.89,284.38 360.4,287 359.97,289.72 359.58,292.81 359.21,296.06 358.87,299.25 358.53,302.17 358.2,304.6 357.87,306.6 357.54,308.35 357.22,309.82 356.92,311.01 356.64,311.87 356.4,312.4 356.21,312.57 356.07,312.4 355.96,311.92 355.84,311.14 355.7,310.09 355.5,308.8 355.25,307.02 354.96,304.69 354.64,302.09 354.3,299.51 353.95,297.22 353.6,295.5 353.24,294.31 352.86,293.42 352.47,292.82 352.07,292.52 351.68,292.51 351.3,292.8 350.93,293.62 350.58,295.02 350.23,296.72 349.87,298.43 349.49,299.87 349.1,300.75 348.68,301.02 348.24,300.91 347.79,300.52 347.33,299.98 346.86,299.41 346.4,298.95 345.94,298.49 345.47,297.93 345,297.34 344.53,296.81 344.06,296.42 343.6,296.25 343.13,296.38 342.66,296.75 342.19,297.26 341.73,297.81 341.3,298.27 340.9,298.55 340.56,298.6 340.27,298.51 340,298.33 339.73,298.15 339.44,298.03 339.1,298.05 338.7,298.24 338.27,298.57 337.81,298.96 337.34,299.34 336.87,299.66 336.4,299.85 335.95,299.9 335.5,299.85 335.06,299.74 334.6,299.58 334.11,299.41 333.6,299.25 333.04,299.1 332.44,298.95 331.82,298.79 331.19,298.59 330.58,298.35 330,298.05 329.46,297.6 328.94,297 328.43,296.35 327.93,295.77 327.42,295.37 326.9,295.25 326.35,295.48 325.79,295.99 325.22,296.68 324.66,297.44 324.12,298.18 323.6,298.8 323.08,299.33 322.56,299.86 322.04,300.37 321.58,300.83 321.19,301.22 320.9,301.5" fill="#7d7d7d" stroke="#7d7d7d" stroke-width="0.6" stroke-linejoin="round" opacity="1.0"/>
<polygon points="422.1,301.6 422.23,301.18 422.4,300.69 422.6,300.06 422.83,299.26 423.06,298.22 423.3,296.9 423.55,295.05 423.81,292.66 424.09,290.03 424.37,287.49 424.64,285.34 424.9,283.9 425.15,283.25 425.4,283.16 425.64,283.47 425.87,284 426.09,284.6 426.3,285.1 426.49,285.48 426.65,285.87 426.8,286.33 426.95,286.9 427.11,287.64 427.3,288.6 427.51,289.91 427.73,291.54 427.96,293.35 428.2,295.16 428.44,296.79 428.7,298.1 428.97,299.1 429.25,299.93 429.54,300.59 429.83,301.09 430.12,301.42 430.4,301.6 430.67,301.41 430.93,300.79 431.19,300.02 431.45,299.34 431.72,299.02 432,299.3 432.29,300.55 432.59,302.63 432.9,305.07 433.22,307.37 433.55,309.06 433.9,309.65 434.27,308.94 434.67,307.27 435.07,304.99 435.49,302.43 435.9,299.94 436.3,297.85 436.69,296.1 437.09,294.42 437.48,292.8 437.87,291.25 438.24,289.76 438.6,288.35 438.93,286.89 439.24,285.35 439.54,283.89 439.84,282.64 440.16,281.74 440.5,281.35 440.87,281.53 441.25,282.19 441.64,283.2 442.05,284.46 442.47,285.85 442.9,287.25 443.35,288.73 443.82,290.4 444.3,292.2 444.78,294.07 445.25,295.97 445.7,297.85 446.12,299.77 446.53,301.79 446.92,303.84 447.31,305.84 447.7,307.72 448.1,309.4 448.51,310.84 448.93,312.1 449.35,313.23 449.76,314.3 450.15,315.37 450.5,316.5 450.81,317.93 451.08,319.66 451.33,321.38 451.57,322.81 451.83,323.65 452.1,323.6 452.4,322.36 452.72,320.09 453.04,317.24 453.37,314.22 453.69,311.46 454,309.4 454.29,308.21 454.57,307.59 454.85,307.24 455.13,306.84 455.41,306.1 455.7,304.7 456.03,302.36 456.39,299.26 456.76,295.81 457.1,292.42 457.39,289.52 457.6,287.5 457.6,289.5 457.39,291.64 457.1,294.72 456.76,298.31 456.39,301.96 456.03,305.24 455.7,307.7 455.41,309.15 455.13,309.91 454.85,310.3 454.57,310.63 454.29,311.22 454,312.4 453.69,314.46 453.37,317.22 453.04,320.24 452.72,323.09 452.4,325.36 452.1,326.6 451.83,326.65 451.57,325.81 451.33,324.38 451.08,322.66 450.81,320.93 450.5,319.5 450.15,318.37 449.76,317.32 449.35,316.26 448.93,315.13 448.51,313.87 448.1,312.4 447.7,310.66 447.31,308.7 446.92,306.59 446.53,304.44 446.12,302.33 445.7,300.35 445.25,298.45 444.78,296.54 444.3,294.67 443.82,292.88 443.35,291.23 442.9,289.75 442.47,288.35 442.05,286.96 441.64,285.7 441.25,284.69 440.87,284.03 440.5,283.85 440.16,284.24 439.84,285.14 439.54,286.39 439.24,287.85 438.93,289.39 438.6,290.85 438.24,292.26 437.87,293.75 437.48,295.3 437.09,296.92 436.69,298.6 436.3,300.35 435.9,302.45 435.49,304.95 435.07,307.52 434.67,309.81 434.27,311.47 433.9,312.15 433.55,311.5 433.22,309.72 432.9,307.32 432.59,304.78 432.29,302.61 432,301.3 431.72,300.99 431.45,301.31 431.19,301.99 430.93,302.78 430.67,303.4 430.4,303.6 430.12,303.42 429.83,303.09 429.54,302.59 429.25,301.93 428.97,301.1 428.7,300.1 428.44,298.79 428.2,297.16 427.96,295.35 427.73,293.54 427.51,291.91 427.3,290.6 427.11,289.64 426.95,288.9 426.8,288.33 426.65,287.87 426.49,287.48 426.3,287.1 426.09,286.6 425.87,286 425.64,285.47 425.4,285.16 425.15,285.25 424.9,285.9 424.64,287.34 424.37,289.49 424.09,292.03 423.81,294.66 423.55,297.05 423.3,298.9 423.06,300.22 422.83,301.26 422.6,302.06 422.4,302.69 422.23,303.18 422.1,303.6" fill="#7d7d7d" stroke="#7d7d7d" stroke-width="0.6" stroke-linejoin="round" opacity="1.0"/>
<polygon points="475.3,263.85 475.37,265.83 475.46,268.69 475.56,272.02 475.7,275.42 475.88,278.48 476.1,280.8 476.4,282.28 476.77,283.21 477.18,283.81 477.59,284.28 477.98,284.82 478.3,285.65 478.55,286.66 478.74,287.68 478.91,288.77 479.08,290.01 479.27,291.48 479.5,293.25 479.8,295.54 480.16,298.33 480.54,301.35 480.91,304.32 481.24,306.96 481.5,309 481.65,310.48 481.71,311.61 481.72,312.43 481.76,312.92 481.87,313.11 482.1,313 482.48,312.45 482.95,311.43 483.5,310.1 484.09,308.63 484.7,307.17 485.3,305.9 485.9,304.8 486.52,303.74 487.16,302.7 487.81,301.66 488.46,300.6 489.1,299.5 489.73,298.32 490.37,297.05 491,295.77 491.63,294.53 492.27,293.4 492.9,292.45 493.53,291.63 494.17,290.88 494.8,290.24 495.43,289.75 496.07,289.46 496.7,289.4 497.34,289.63 497.99,290.13 498.64,290.82 499.28,291.63 499.9,292.48 500.5,293.3 501.07,294.15 501.63,295.09 502.18,296.08 502.7,297.05 503.21,297.94 503.7,298.7 504.18,299.33 504.64,299.89 505.08,300.37 505.51,300.76 505.91,301.08 506.3,301.3 506.65,301.48 506.96,301.64 507.26,301.71 507.55,301.64 507.86,301.37 508.2,300.85 508.61,299.92 509.08,298.58 509.57,297.05 510.03,295.52 510.42,294.2 510.7,293.3 510.7,298.3 510.42,299.37 510.03,300.91 509.57,302.7 509.08,304.52 508.61,306.15 508.2,307.35 507.86,308.15 507.55,308.73 507.26,309.12 506.96,309.32 506.65,309.38 506.3,309.3 505.91,309.07 505.51,308.65 505.08,308.08 504.64,307.39 504.18,306.58 503.7,305.7 503.21,304.66 502.7,303.42 502.18,302.08 501.63,300.72 501.07,299.43 500.5,298.3 499.9,297.25 499.28,296.21 498.64,295.23 497.99,294.39 497.34,293.76 496.7,293.4 496.07,293.34 495.43,293.51 494.8,293.9 494.17,294.45 493.53,295.15 492.9,295.95 492.27,296.93 491.63,298.14 491,299.48 490.37,300.88 489.73,302.25 489.1,303.5 488.46,304.6 487.81,305.62 487.16,306.6 486.52,307.61 485.9,308.69 485.3,309.9 484.7,311.44 484.09,313.29 483.5,315.23 482.95,316.99 482.48,318.33 482.1,319 481.87,319 481.76,318.54 481.72,317.65 481.71,316.39 481.65,314.83 481.5,313 481.24,310.66 480.91,307.73 480.54,304.48 480.16,301.2 479.8,298.2 479.5,295.75 479.27,293.9 479.08,292.42 478.91,291.21 478.74,290.16 478.55,289.17 478.3,288.15 477.98,287.27 477.59,286.65 477.18,286.09 476.77,285.4 476.4,284.37 476.1,282.8 475.88,280.39 475.7,277.23 475.56,273.74 475.46,270.32 475.37,267.39 475.3,265.35" fill="#7d7d7d" stroke="#7d7d7d" stroke-width="0.6" stroke-linejoin="round" opacity="1.0"/>
<polygon points="510.7,293.3 510.99,292.05 511.39,290.3 511.86,288.24 512.36,286.05 512.85,283.91 513.3,282 513.7,280.03 514.1,277.81 514.48,275.64 514.86,273.82 515.23,272.67 515.6,272.5 515.96,273.63 516.3,275.87 516.63,278.78 516.97,281.91 517.32,284.8 517.7,287 518.11,288.58 518.53,289.93 518.98,291.03 519.42,291.91 519.87,292.56 520.3,293 520.73,293 521.16,292.52 521.59,291.81 522.01,291.15 522.42,290.79 522.8,291 523.15,292.04 523.48,293.74 523.79,295.75 524.09,297.7 524.39,299.24 524.7,300 525.02,299.71 525.33,298.59 525.65,297.06 525.97,295.52 526.28,294.36 526.6,294 526.94,294.62 527.3,295.93 527.67,297.62 528.01,299.41 528.29,300.97 528.5,302 528.5,310 528.29,309.56 528.01,308.85 527.67,308.06 527.3,307.37 526.94,306.96 526.6,307 526.28,307.76 525.97,309.15 525.65,310.81 525.33,312.41 525.02,313.59 524.7,314 524.39,313.45 524.09,312.19 523.79,310.5 523.48,308.7 523.15,307.1 522.8,306 522.42,305.49 522.01,305.33 521.59,305.38 521.16,305.44 520.73,305.38 520.3,305 519.87,304.44 519.42,303.85 518.98,303.12 518.53,302.15 518.11,300.81 517.7,299 517.32,296.19 516.97,292.37 516.63,288.19 516.3,284.3 515.96,281.35 515.6,280 515.23,280.67 514.86,282.91 514.48,286.11 514.1,289.61 513.7,292.78 513.3,295 512.85,296.27 512.36,297.09 511.86,297.59 511.39,297.88 510.99,298.08 510.7,298.3" fill="#7d7d7d" stroke="#7d7d7d" stroke-width="0.8" stroke-linejoin="round" opacity="1.0"/>
<polyline points="515.6,272 515.83,273.63 516.14,275.96 516.51,278.69 516.91,281.48 517.31,284.03 517.7,286 518.07,287.44 518.43,288.61 518.81,289.53 519.19,290.22 519.59,290.7 520,291 520.45,290.88 520.93,290.28 521.42,289.47 521.91,288.72 522.38,288.31 522.8,288.5 523.17,289.58 523.5,291.4 523.81,293.55 524.1,295.63 524.39,297.25 524.7,298 525.02,297.56 525.33,296.2 525.65,294.36 525.97,292.53 526.28,291.15 526.6,290.7 526.94,291.4 527.3,292.91 527.67,294.89 528.01,296.97 528.29,298.8 528.5,300" fill="none" stroke="#b8b8b8" stroke-width="0.8" stroke-linejoin="round" opacity="1.0"/>
<rect x="320.2" y="223.7" width="222.8" height="148.4" fill="none" stroke="#2a2a2a" stroke-width="1.1"/>
<line x1="330.1" y1="372.1" x2="330.1" y2="376.5" stroke="#2a2a2a" stroke-width="1"/>
<text x="330.1" y="386.7" text-anchor="middle" font-size="8.5">500</text>
<line x1="379.61" y1="372.1" x2="379.61" y2="376.5" stroke="#2a2a2a" stroke-width="1"/>
<text x="379.61" y="386.7" text-anchor="middle" font-size="8.5">1000</text>
<line x1="429.12" y1="372.1" x2="429.12" y2="376.5" stroke="#2a2a2a" stroke-width="1"/>
<text x="429.12" y="386.7" text-anchor="middle" font-size="8.5">1500</text>
<line x1="478.64" y1="372.1" x2="478.64" y2="376.5" stroke="#2a2a2a" stroke-width="1"/>
<text x="478.64" y="386.7" text-anchor="middle" font-size="8.5">2000</text>
<line x1="528.15" y1="372.1" x2="528.15" y2="376.5" stroke="#2a2a2a" stroke-width="1"/>
<text x="528.15" y="386.7" text-anchor="middle" font-size="8.5">2500</text>
<line x1="354.86" y1="372.1" x2="354.86" y2="374.3" stroke="#2a2a2a" stroke-width="1"/>
<line x1="404.37" y1="372.1" x2="404.37" y2="374.3" stroke="#2a2a2a" stroke-width="1"/>
<line x1="453.88" y1="372.1" x2="453.88" y2="374.3" stroke="#2a2a2a" stroke-width="1"/>
<line x1="503.39" y1="372.1" x2="503.39" y2="374.3" stroke="#2a2a2a" stroke-width="1"/>
<line x1="315.2" y1="223.7" x2="320.2" y2="223.7" stroke="#2a2a2a" stroke-width="1"/>
<text x="312.1" y="226.6" text-anchor="end" font-size="8.5">0.2</text>
<line x1="315.2" y1="260.8" x2="320.2" y2="260.8" stroke="#2a2a2a" stroke-width="1"/>
<text x="312.1" y="263.7" text-anchor="end" font-size="8.5">0.1</text>
<line x1="315.2" y1="297.9" x2="320.2" y2="297.9" stroke="#2a2a2a" stroke-width="1"/>
<text x="312.1" y="300.8" text-anchor="end" font-size="8.5">0.0</text>
<line x1="315.2" y1="335" x2="320.2" y2="335" stroke="#2a2a2a" stroke-width="1"/>
<text x="312.1" y="337.9" text-anchor="end" font-size="8.5">−0.1</text>
<line x1="315.2" y1="372.1" x2="320.2" y2="372.1" stroke="#2a2a2a" stroke-width="1"/>
<text x="312.1" y="375" text-anchor="end" font-size="8.5">−0.2</text>
<line x1="318" y1="242.25" x2="320.2" y2="242.25" stroke="#2a2a2a" stroke-width="1"/>
<line x1="318" y1="279.35" x2="320.2" y2="279.35" stroke="#2a2a2a" stroke-width="1"/>
<line x1="318" y1="316.45" x2="320.2" y2="316.45" stroke="#2a2a2a" stroke-width="1"/>
<line x1="318" y1="353.55" x2="320.2" y2="353.55" stroke="#2a2a2a" stroke-width="1"/>
<text x="431.6" y="397.7" text-anchor="middle" font-size="8.7">Wavelength (nm)</text>
<text x="293" y="297.9" text-anchor="middle" font-size="8.7" transform="rotate(-90 293 297.9)">Value</text>
<text x="417.8" y="423" text-anchor="middle" font-size="14" style="font-family:Liberation Serif,serif;font-weight:bold;fill:#111">(j)</text>
<line x1="432.3" y1="233.7" x2="443.8" y2="233.7" stroke="#c4c4c4" stroke-width="1.2"/>
<text x="448.2" y="232.4" font-size="8.0" class="lg">High-frequency coefficient</text>
<text x="448.2" y="241.9" font-size="8.0" class="lg">reconstruction signal</text>
<polyline points="38.4,568 39.18,566.57 40.27,564.55 41.55,562.18 42.91,559.69 44.23,557.31 45.4,555.3 46.41,553.65 47.37,552.18 48.28,550.83 49.18,549.54 50.08,548.25 51,546.9 51.93,545.42 52.84,543.84 53.76,542.26 54.7,540.78 55.67,539.49 56.7,538.5 57.8,537.94 58.98,537.78 60.19,537.81 61.4,537.83 62.58,537.66 63.7,537.1 64.77,535.9 65.81,534.16 66.83,532.23 67.8,530.44 68.73,529.12 69.6,528.6 70.38,529.28 71.08,530.96 71.73,533.11 72.37,535.21 73.05,536.71 73.8,537.1 74.64,535.95 75.53,533.6 76.46,530.66 77.39,527.74 78.32,525.45 79.2,524.4 80.06,525.08 80.91,527.11 81.74,529.76 82.56,532.33 83.35,534.08 84.1,534.3 84.8,532.89 85.46,530.4 86.09,527.09 86.71,523.25 87.34,519.13 88,515 88.7,510.15 89.45,504.21 90.2,497.99 90.93,492.31 91.61,487.98 92.2,485.8 92.69,486.1 93.1,488.3 93.46,491.84 93.8,496.17 94.13,500.74 94.5,505 94.85,509.54 95.14,514.92 95.44,520.54 95.8,525.79 96.27,530.08 96.9,532.8 97.74,533.65 98.77,533.04 99.9,531.47 101.08,529.42 102.23,527.37 103.3,525.8 104.28,524.63 105.23,523.44 106.15,522.26 107.06,521.08 107.98,519.93 108.9,518.8 109.85,517.55 110.82,516.13 111.79,514.73 112.74,513.54 113.65,512.73 114.5,512.5 115.29,512.97 116.03,514 116.73,515.43 117.4,517.06 118.06,518.71 118.7,520.2 119.31,521.75 119.86,523.57 120.4,525.41 120.95,527.02 121.54,528.16 122.2,528.6 122.94,528.29 123.73,527.41 124.57,526.07 125.43,524.36 126.31,522.37 127.2,520.2 128.16,517.51 129.23,514.16 130.31,510.53 131.33,507.01 132.18,504.01 132.8,501.9" fill="none" stroke="#c8c8c8" stroke-width="0.7" stroke-linejoin="round" opacity="1.0"/>
<polyline points="38.4,572.2 39.11,571.2 40.06,569.87 41.19,568.27 42.49,566.45 43.9,564.48 45.4,562.4 47.08,559.97 49.01,557.08 51.05,554.04 53.09,551.13 55.02,548.65 56.7,546.9 58.13,546.08 59.39,545.99 60.54,546.33 61.61,546.79 62.65,547.09 63.7,546.9 64.77,546.07 65.81,544.8 66.83,543.36 67.8,542 68.73,540.99 69.6,540.6 70.38,541.07 71.08,542.26 71.73,543.79 72.37,545.32 73.05,546.47 73.8,546.9 74.64,546.32 75.53,544.98 76.46,543.27 77.39,541.59 78.32,540.33 79.2,539.9 80.06,540.72 80.91,542.55 81.74,544.81 82.56,546.91 83.35,548.27 84.1,548.3 84.81,546.93 85.47,544.61 86.11,541.55 86.73,537.96 87.36,534.04 88,530 88.67,525.04 89.36,518.83 90.06,512.29 90.74,506.36 91.39,501.95 92,500 92.56,501.04 93.09,504.44 93.59,509.38 94.07,515 94.54,520.49 95,525 95.41,528.98 95.75,533.17 96.08,537.23 96.44,540.79 96.9,543.5 97.5,545 98.21,545.02 98.99,543.78 99.86,541.69 100.84,539.15 101.98,536.55 103.3,534.3 104.89,531.94 106.76,529.07 108.78,526.14 110.83,523.61 112.77,521.95 114.5,521.6 115.95,523.41 117.22,527.17 118.39,531.8 119.55,536.19 120.79,539.26 122.2,539.9 123.92,537.41 125.91,532.51 127.98,526.29 129.94,519.82 131.61,514.16 132.8,510.4" fill="none" stroke="#c8c8c8" stroke-width="0.7" stroke-linejoin="round" opacity="1.0"/>
<polyline points="56.7,551.1 58.2,550.68 60.37,550.01 62.89,549.26 65.47,548.61 67.8,548.23 69.6,548.3 70.79,549.08 71.6,550.48 72.17,552.15 72.63,553.74 73.13,554.91 73.8,555.3 74.64,554.62 75.53,553.1 76.46,551.16 77.39,549.2 78.32,547.64 79.2,546.9 80.1,547.15 81.05,548.09 81.99,549.43 82.85,550.88 83.57,552.17 84.1,553" fill="none" stroke="#c8c8c8" stroke-width="0.7" stroke-linejoin="round" opacity="1.0"/>
<polyline points="45.4,579.2 46.8,578.91 48.74,578.53 51.03,578.06 53.49,577.54 55.91,576.98 58.1,576.4 60.17,575.67 62.29,574.74 64.38,573.77 66.35,572.93 68.12,572.35 69.6,572.2 70.71,572.7 71.5,573.76 72.08,575.09 72.58,576.4 73.12,577.4 73.8,577.8 74.63,577.39 75.5,576.35 76.41,575 77.34,573.65 78.27,572.61 79.2,572.2 80.15,572.64 81.14,573.73 82.14,575.14 83.1,576.51 84,577.51 84.8,577.8 85.47,577.53 86.05,577.01 86.56,576.12 87.04,574.74 87.51,572.74 88,570 88.52,566.11 89.05,561.09 89.58,555.45 90.08,549.71 90.56,544.39 91,540 91.39,536.05 91.72,532.04 92.03,528.44 92.33,525.74 92.65,524.43 93,525 93.38,528.17 93.79,533.7 94.2,540.62 94.63,547.96 95.06,554.75 95.5,560 95.9,563.94 96.27,567.37 96.64,570.25 97.07,572.52 97.6,574.12 98.3,575 99.16,574.89 100.14,573.78 101.23,572 102.41,569.89 103.68,567.78 105,566 106.44,564.31 108.03,562.41 109.69,560.5 111.36,558.81 112.99,557.57 114.5,557 115.87,557.47 117.14,558.89 118.37,560.75 119.59,562.56 120.85,563.81 122.2,564 123.75,562.84 125.5,560.67 127.28,557.94 128.96,555.11 130.38,552.65 131.4,551" fill="none" stroke="#c8c8c8" stroke-width="0.7" stroke-linejoin="round" opacity="1.0"/>
<polyline points="141.3,503.4 141.6,502.52 142,501.22 142.48,499.72 143.01,498.27 143.56,497.08 144.1,496.4 144.63,496.12 145.19,496.03 145.76,496.22 146.35,496.76 146.96,497.72 147.6,499.2 148.26,501.5 148.93,504.62 149.62,508.18 150.34,511.77 151.1,515.01 151.9,517.5 152.76,519.25 153.67,520.57 154.62,521.53 155.59,522.22 156.55,522.72 157.5,523.1 158.44,523.34 159.39,523.36 160.34,523.19 161.29,522.84 162.21,522.34 163.1,521.7 163.97,520.94 164.84,520.04 165.68,518.99 166.5,517.77 167.27,516.34 168,514.7 168.66,512.89 169.27,510.95 169.84,508.81 170.39,506.41 170.93,503.7 171.5,500.6 172.1,496.88 172.71,492.53 173.32,487.86 173.91,483.17 174.48,478.79 175,475 175.49,471.71 175.97,468.66 176.42,465.9 176.82,463.5 177.15,461.51 177.4,460" fill="none" stroke="#c8c8c8" stroke-width="0.7" stroke-linejoin="round" opacity="1.0"/>
<polyline points="147.6,510 148.05,511.89 148.67,514.64 149.4,517.83 150.21,521.06 151.06,523.92 151.9,526 152.73,527.32 153.57,528.19 154.44,528.7 155.38,528.91 156.39,528.88 157.5,528.7 158.79,528.31 160.25,527.65 161.79,526.76 163.31,525.68 164.72,524.45 165.9,523.1 166.88,521.44 167.74,519.4 168.48,517.2 169.1,515.08 169.6,513.27 170,512" fill="none" stroke="#c8c8c8" stroke-width="0.7" stroke-linejoin="round" opacity="1.0"/>
<polygon points="37.8,575 38.65,574.37 39.84,573.5 41.25,572.46 42.73,571.37 44.16,570.32 45.4,569.4 46.45,568.62 47.41,567.9 48.32,567.21 49.2,566.55 50.08,565.88 51,565.2 51.93,564.45 52.84,563.64 53.76,562.84 54.7,562.09 55.67,561.46 56.7,561 57.8,560.82 58.98,560.9 60.19,561.09 61.4,561.27 62.58,561.28 63.7,561 64.77,560.23 65.81,559.05 66.83,557.71 67.8,556.46 68.73,555.58 69.6,555.3 70.38,555.94 71.06,557.35 71.69,559.11 72.32,560.82 73.01,562.05 73.8,562.4 74.72,561.52 75.74,559.68 76.81,557.36 77.89,555.07 78.93,553.28 79.9,552.5 80.79,553.39 81.65,555.69 82.47,558.51 83.26,560.93 84.04,562.06 84.8,561 85.55,557.2 86.29,551.26 87,544.03 87.69,536.35 88.36,529.06 89,523 89.62,517.67 90.22,512.29 90.8,507.3 91.34,503.13 91.85,500.22 92.3,499 92.68,499.81 92.97,502.36 93.23,506.17 93.48,510.74 93.76,515.58 94.1,520.2 94.52,525.1 95.01,530.77 95.53,536.71 96.03,542.42 96.5,547.38 96.9,551.1 97.17,553.47 97.34,554.89 97.46,555.57 97.62,555.72 97.87,555.56 98.3,555.3 98.92,554.81 99.68,553.9 100.54,552.67 101.46,551.26 102.39,549.76 103.3,548.3 104.21,546.78 105.15,545.09 106.11,543.32 107.06,541.57 108,539.93 108.9,538.5 109.76,537.18 110.59,535.87 111.39,534.68 112.19,533.7 112.99,533.04 113.8,532.8 114.63,533.09 115.47,533.86 116.31,534.94 117.13,536.19 117.94,537.42 118.7,538.5 119.41,539.58 120.08,540.84 120.73,542.09 121.36,543.17 122.01,543.9 122.7,544.1 123.42,543.73 124.15,542.91 124.89,541.74 125.65,540.32 126.42,538.74 127.2,537.1 128.03,535.2 128.93,532.92 129.84,530.49 130.71,528.11 131.48,526.01 132.1,524.4 132.55,523.33 132.88,522.63 133.11,522.21 133.27,521.96 133.39,521.79 133.5,521.6 133.5,543 133.39,543.2 133.27,543.43 133.11,543.73 132.88,544.14 132.55,544.71 132.1,545.5 131.48,546.61 130.7,548.02 129.83,549.59 128.92,551.19 128.02,552.67 127.2,553.9 126.45,554.94 125.72,555.92 125.01,556.79 124.3,557.48 123.6,557.93 122.9,558.1 122.2,557.87 121.52,557.27 120.84,556.44 120.15,555.51 119.44,554.62 118.7,553.9 117.92,553.29 117.12,552.66 116.29,552.06 115.46,551.57 114.62,551.23 113.8,551.1 112.99,551.18 112.19,551.41 111.39,551.79 110.59,552.34 109.76,553.04 108.9,553.9 108,554.97 107.06,556.26 106.11,557.71 105.15,559.26 104.21,560.84 103.3,562.4 102.41,564.27 101.53,566.56 100.67,568.89 99.83,570.86 99.04,572.1 98.3,572.2 97.62,571.23 97,569.52 96.42,567.07 95.87,563.88 95.33,559.95 94.8,555.3 94.26,548.85 93.71,540.39 93.18,531.2 92.69,522.55 92.25,515.73 91.9,512 91.67,511.85 91.55,514.36 91.49,518.69 91.44,524.01 91.32,529.49 91.1,534.3 90.76,538.84 90.34,543.86 89.87,549.04 89.36,554.07 88.83,558.63 88.3,562.4 87.77,565.46 87.24,568.06 86.68,570.19 86.1,571.84 85.47,572.98 84.8,573.6 84.08,573.32 83.31,572.1 82.51,570.36 81.67,568.57 80.8,567.17 79.9,566.6 78.93,567.1 77.89,568.36 76.81,570.01 75.74,571.68 74.72,573 73.8,573.6 72.99,573.3 72.27,572.36 71.6,571.06 70.95,569.71 70.3,568.59 69.6,568 68.9,568.01 68.21,568.41 67.52,569.05 66.8,569.76 66,570.4 65.1,570.8 64.08,570.91 62.96,570.85 61.76,570.71 60.53,570.59 59.3,570.59 58.1,570.8 56.91,571.27 55.69,571.94 54.46,572.73 53.26,573.55 52.1,574.33 51,575 50,575.53 49.1,575.99 48.23,576.4 47.36,576.81 46.43,577.27 45.4,577.8 44.16,578.47 42.73,579.25 41.25,580.08 39.84,580.86 38.65,581.53 37.8,582" fill="#9a9a9a" stroke="#b0b0b0" stroke-width="0.9" stroke-linejoin="round"/>
<polygon points="37.8,575.7 38.5,575.2 39.2,574.7 39.9,574.19 40.6,573.69 41.3,573.19 42,572.69 42.7,572.18 43.4,571.68 44.1,571.18 44.8,570.67 45.5,570.17 46.2,569.66 46.9,569.16 47.6,568.65 48.3,568.14 49,567.63 49.7,567.12 50.4,566.62 51.1,566.1 51.8,565.55 52.5,564.96 53.2,564.36 53.9,563.77 54.6,563.22 55.3,562.75 56,562.36 56.7,562.04 57.4,561.91 58.1,561.84 58.8,561.87 59.5,561.94 60.2,562.05 60.9,562.14 61.6,562.21 62.3,562.23 63,562.14 63.7,561.99 64.4,561.53 65.1,560.95 65.8,560.2 66.5,559.32 67.2,558.44 67.9,557.6 68.6,556.95 69.3,556.66 70,556.9 70.7,557.88 71.4,559.54 72.1,561.4 72.8,562.81 73.5,563.39 74.2,563.15 74.9,562.35 75.6,561.12 76.3,559.69 77,558.23 77.7,556.78 78.4,555.54 79.1,554.53 79.8,553.99 80.5,554.49 81.2,555.82 81.9,557.81 82.6,560.07 83.3,562.09 84,563.13 84.7,562.38 85.4,559.47 86.1,554.66 86.8,548.42 87.5,541.32 88.2,534.03 88.9,527.36 89.6,521.22 90.3,514.89 91,508.75 91.7,502.15 92.4,501.09 93.1,506.78 93.8,518.7 94.5,527.5 95.2,535.54 95.9,543.24 96.6,550.25 97.3,556.15 98,557.11 98.7,556.7 99.4,555.96 100.1,554.99 100.8,553.9 101.5,552.73 102.2,551.54 102.9,550.37 103.6,549.21 104.3,548.02 105,546.77 105.7,545.5 106.4,544.23 107.1,542.97 107.8,541.78 108.5,540.66 109.2,539.59 109.9,538.55 110.6,537.5 111.3,536.52 112,535.7 112.7,535.08 113.4,534.74 114.1,534.73 114.8,535.05 115.5,535.67 116.2,536.53 116.9,537.5 117.6,538.52 118.3,539.5 119,540.48 119.7,541.61 120.4,542.9 121.1,544.13 121.8,545.04 122.5,545.43 123.2,545.26 123.9,544.64 124.6,543.7 125.3,542.53 126,541.2 126.7,539.8 127.4,538.34 128.1,536.78 128.8,535.07 129.5,533.28 130.2,531.45 130.9,529.6 131.6,527.77 132.3,526.05 133,524.55 133.5,523.74 133.5,540.86 133,541.77 132.3,543.03 131.6,544.32 130.9,545.65 130.2,546.99 129.5,548.3 128.8,549.58 128.1,550.8 127.4,551.91 126.7,552.95 126,553.95 125.3,554.89 124.6,555.69 123.9,556.29 123.2,556.61 122.5,556.58 121.8,556.13 121.1,555.36 120.4,554.41 119.7,553.46 119,552.67 118.3,552.02 117.6,551.42 116.9,550.83 116.2,550.29 115.5,549.82 114.8,549.49 114.1,549.32 113.4,549.32 112.7,549.46 112,549.74 111.3,550.15 110.6,550.68 109.9,551.32 109.2,552.04 108.5,552.85 107.8,553.75 107.1,554.74 106.4,555.82 105.7,556.94 105,558.09 104.3,559.28 103.6,560.48 102.9,561.81 102.2,563.35 101.5,565.1 100.8,566.91 100.1,568.54 99.4,569.81 98.7,570.43 98,570.14 97.3,568.77 96.6,565.88 95.9,561.76 95.2,556.22 94.5,549.04 93.8,539.2 93.1,527.22 92.4,516.13 91.7,510.79 91,532.64 90.3,541.04 89.6,548.31 88.9,554.62 88.2,559.76 87.5,563.95 86.8,567.37 86.1,569.92 85.4,571.54 84.7,572.32 84,572.08 83.3,570.96 82.6,569.39 81.9,567.8 81.2,566.47 80.5,565.59 79.8,565.24 79.1,565.63 78.4,566.39 77.7,567.33 77,568.44 76.3,569.57 75.6,570.67 74.9,571.61 74.2,572.21 73.5,572.37 72.8,571.91 72.1,570.85 71.4,569.41 70.7,568.02 70,567.07 69.3,566.74 68.6,566.94 67.9,567.47 67.2,568.15 66.5,568.81 65.8,569.34 65.1,569.71 64.4,569.84 63.7,569.9 63,569.89 62.3,569.83 61.6,569.75 60.9,569.69 60.2,569.64 59.5,569.63 58.8,569.7 58.1,569.8 57.4,570.06 56.7,570.35 56,570.72 55.3,571.14 54.6,571.59 53.9,572.07 53.2,572.56 52.5,573.05 51.8,573.52 51.1,573.96 50.4,574.35 49.7,574.73 49,575.1 48.3,575.45 47.6,575.81 46.9,576.16 46.2,576.53 45.5,576.91 44.8,577.3 44.1,577.69 43.4,578.08 42.7,578.48 42,578.88 41.3,579.29 40.6,579.69 39.9,580.09 39.2,580.49 38.5,580.9 37.8,581.3" fill="#858585" stroke="#858585" stroke-width="0.5" stroke-linejoin="round"/>
<polygon points="141.3,520.3 141.6,519.93 142,519.37 142.48,518.72 143.01,518.12 143.56,517.67 144.1,517.5 144.63,517.51 145.19,517.6 145.76,517.84 146.35,518.32 146.96,519.11 147.6,520.3 148.27,522.11 148.98,524.53 149.71,527.26 150.44,530.01 151.18,532.49 151.9,534.4 152.59,535.74 153.26,536.74 153.92,537.47 154.6,537.98 155.32,538.34 156.1,538.6 156.98,538.73 157.95,538.68 158.96,538.47 159.95,538.13 160.88,537.7 161.7,537.2 162.38,536.69 162.96,536.16 163.48,535.54 163.97,534.74 164.47,533.68 165,532.3 165.58,530.49 166.18,528.31 166.78,525.87 167.38,523.31 167.95,520.74 168.5,518.3 169.02,515.95 169.52,513.6 170.01,511.25 170.47,508.9 170.9,506.55 171.3,504.2 171.66,501.86 171.97,499.53 172.25,497.2 172.52,494.87 172.8,492.54 173.1,490.2 173.42,487.86 173.74,485.51 174.07,483.16 174.4,480.8 174.75,478.45 175.1,476.1 175.49,473.59 175.93,470.88 176.38,468.17 176.79,465.66 177.15,463.53 177.4,462 177.8,470 177.79,472.27 177.78,475.47 177.77,479.22 177.74,483.18 177.69,486.96 177.6,490.2 177.48,492.89 177.32,495.32 177.14,497.58 176.94,499.76 176.73,501.93 176.5,504.2 176.26,506.55 176.02,508.9 175.76,511.25 175.47,513.6 175.15,515.95 174.8,518.3 174.41,520.64 173.97,522.97 173.51,525.3 173.03,527.63 172.52,529.96 172,532.3 171.46,534.74 170.89,537.31 170.29,539.87 169.69,542.33 169.09,544.54 168.5,546.4 167.93,547.86 167.38,549 166.82,549.91 166.26,550.66 165.65,551.33 165,552 164.31,552.66 163.61,553.24 162.87,553.74 162.08,554.16 161.23,554.48 160.3,554.7 159.24,554.85 158.04,554.95 156.78,554.96 155.52,554.83 154.34,554.52 153.3,554 152.43,553.15 151.66,551.98 150.97,550.63 150.33,549.26 149.68,548 149,547 148.29,546.23 147.57,545.55 146.85,544.99 146.14,544.56 145.46,544.29 144.8,544.2 144.14,544.38 143.45,544.82 142.79,545.42 142.18,546.07 141.67,546.63 141.3,547" fill="#9a9a9a" stroke="#b0b0b0" stroke-width="0.9" stroke-linejoin="round"/>
<polygon points="141.3,524.3 142,523.4 142.7,522.53 143.4,521.87 144.1,521.53 144.8,521.54 145.5,521.72 146.2,522.16 146.9,522.93 147.6,524.09 148.3,525.81 149,527.97 149.7,530.36 150.4,532.78 151.1,535.02 151.8,536.84 152.5,538.21 153.2,539.24 153.9,539.98 154.6,540.47 155.3,540.79 156,541.01 156.7,541.13 157.4,541.14 158.1,541.09 158.8,540.96 159.5,540.76 160.2,540.52 160.9,540.22 161.6,539.82 162.3,539.35 163,538.75 163.7,537.88 164.4,536.64 165.1,534.97 165.8,532.91 166.5,530.51 167.2,527.86 167.9,525.03 168.6,522.08 169.3,519.01 170,515.75 170.7,512.2 171.4,508.26 172.1,503.45 172.8,497.96 173.5,492.98 174.2,488.16 174.9,483.46 175.6,478.86 176.3,474.26 177,469.62 177.4,466.81 177.4,490.88 177,495.68 176.3,502.43 175.6,508.57 174.9,513.62 174.2,517.8 173.5,521.55 172.8,525.06 172.1,528.51 171.4,531.85 170.7,535.06 170,538.09 169.3,540.86 168.6,543.26 167.9,545.23 167.2,546.77 166.5,548.01 165.8,549.02 165.1,549.91 164.4,550.7 163.7,551.37 163,551.9 162.3,552.31 161.6,552.63 160.9,552.87 160.2,553.04 159.5,553.16 158.8,553.25 158.1,553.32 157.4,553.33 156.7,553.32 156,553.24 155.3,553.13 154.6,552.93 153.9,552.62 153.2,552.18 152.5,551.46 151.8,550.38 151.1,549.01 150.4,547.46 149.7,545.96 149,544.76 148.3,543.84 147.6,543.05 146.9,542.43 146.2,541.96 145.5,541.65 144.8,541.53 144.1,541.71 143.4,542.16 142.7,542.81 142,543.58 141.3,544.33" fill="#858585" stroke="#858585" stroke-width="0.5" stroke-linejoin="round"/>
<polygon points="195.6,469.7 195.89,472.18 196.27,475.64 196.73,479.72 197.25,484.07 197.81,488.35 198.4,492.2 199.01,495.88 199.67,499.73 200.38,503.5 201.11,506.95 201.89,509.83 202.7,511.9 203.55,512.98 204.44,513.23 205.37,512.91 206.33,512.29 207.31,511.63 208.3,511.2 209.31,510.86 210.35,510.37 211.41,509.84 212.47,509.39 213.54,509.1 214.6,509.1 215.66,509.44 216.73,510.06 217.79,510.85 218.85,511.72 219.89,512.57 220.9,513.3 221.9,514.05 222.89,514.93 223.87,515.79 224.81,516.49 225.69,516.87 226.5,516.8 227.21,516.3 227.83,515.51 228.39,514.4 228.93,512.97 229.49,511.21 230.1,509.1 230.77,506.48 231.48,503.32 232.21,499.82 232.93,496.2 233.63,492.66 234.3,489.4 234.94,486.25 235.57,483.01 236.18,479.85 236.76,476.93 237.31,474.43 237.8,472.5 238.21,471.26 238.55,470.6 238.85,470.35 239.15,470.34 239.49,470.42 239.9,470.4 240.41,470.33 240.99,470.34 241.61,470.44 242.23,470.6 242.84,470.82 243.4,471.1 243.91,471.44 244.39,471.86 244.84,472.33 245.29,472.86 245.74,473.42 246.2,474 246.67,474.54 247.15,475.04 247.62,475.58 248.1,476.23 248.56,477.08 249,478.2 249.45,479.79 249.92,481.83 250.38,484.06 250.79,486.24 251.14,488.1 251.4,489.4 251.4,490.1 250.99,489.68 250.43,489.06 249.76,488.35 249.04,487.64 248.3,487.02 247.6,486.6 246.92,486.37 246.2,486.24 245.48,486.21 244.76,486.26 244.06,486.4 243.4,486.6 242.77,486.77 242.16,486.91 241.56,487.12 240.99,487.53 240.43,488.25 239.9,489.4 239.4,491.03 238.94,493.06 238.5,495.39 238.06,497.97 237.6,500.7 237.1,503.5 236.57,506.46 236.01,509.66 235.44,513.01 234.84,516.43 234.23,519.86 233.6,523.2 232.93,526.62 232.23,530.2 231.51,533.79 230.78,537.2 230.07,540.26 229.4,542.8 228.78,544.78 228.2,546.33 227.64,547.53 227.07,548.47 226.47,549.23 225.8,549.9 225.07,550.42 224.31,550.71 223.52,550.83 222.69,550.81 221.81,550.72 220.9,550.6 219.93,550.37 218.9,549.98 217.84,549.51 216.75,549.04 215.67,548.68 214.6,548.5 213.54,548.55 212.47,548.77 211.39,549.09 210.33,549.44 209.3,549.73 208.3,549.9 207.3,549.97 206.27,550 205.28,549.98 204.35,549.9 203.54,549.74 202.9,549.5 202.48,549.27 202.25,549.07 202.14,548.81 202.07,548.35 201.99,547.58 201.8,546.4 201.52,544.69 201.19,542.51 200.84,540.03 200.49,537.4 200.13,534.77 199.8,532.3 199.48,529.96 199.17,527.63 198.86,525.3 198.56,522.97 198.27,520.64 198,518.3 197.74,516.01 197.49,513.8 197.25,511.57 197.02,509.28 196.81,506.85 196.6,504.2 196.4,501.07 196.2,497.47 196.01,493.72 195.84,490.17 195.7,487.15 195.6,485" fill="#9a9a9a" stroke="#b0b0b0" stroke-width="0.9" stroke-linejoin="round"/>
<polygon points="195.6,474.29 196.3,482.91 197,490.09 197.7,495.94 198.4,501.04 199.1,505.59 199.8,509.97 200.5,514.11 201.2,517.85 201.9,521.01 202.6,522.95 203.3,523.76 204,524.12 204.7,524.18 205.4,524.02 206.1,523.71 206.8,523.38 207.5,523.07 208.2,522.84 208.9,522.64 209.6,522.4 210.3,522.11 211,521.8 211.7,521.5 212.4,521.23 213.1,521.05 213.8,520.93 214.5,520.92 215.2,521.09 215.9,521.34 216.6,521.69 217.3,522.12 218,522.59 218.7,523.08 219.4,523.57 220.1,524.03 220.8,524.43 221.5,524.83 222.2,525.25 222.9,525.7 223.6,526.13 224.3,526.49 225,526.74 225.7,526.8 226.4,526.56 227.1,525.99 227.8,525.04 228.5,523.53 229.2,521.51 229.9,519.13 230.6,516.4 231.3,513.32 232,509.98 232.7,506.49 233.4,502.95 234.1,499.43 234.8,495.86 235.5,492.15 236.2,488.4 236.9,484.79 237.6,481.5 238.3,478.73 239,477.08 239.7,476.3 240.4,475.73 241.1,475.49 241.8,475.45 242.5,475.54 243.2,475.7 243.9,475.94 244.6,476.34 245.3,476.87 246,477.49 246.7,478.1 247.4,478.69 248.1,479.44 248.8,480.62 249.5,482.43 250.2,484.89 250.9,487.64 251.4,489.61 251.4,490 250.9,489.16 250.2,487.98 249.5,486.88 248.8,485.98 248.1,485.3 247.4,484.85 246.7,484.56 246,484.36 245.3,484.22 244.6,484.16 243.9,484.2 243.2,484.31 242.5,484.41 241.8,484.55 241.1,484.88 240.4,485.62 239.7,487.11 239,489.43 238.3,492.74 237.6,496.58 236.9,500.36 236.2,504.24 235.5,508.25 234.8,512.22 234.1,516.03 233.4,519.67 232.7,523.24 232,526.76 231.3,530.16 230.6,533.36 229.9,536.24 229.2,538.74 228.5,540.82 227.8,542.45 227.1,543.62 226.4,544.43 225.7,545.01 225,545.37 224.3,545.52 223.6,545.52 222.9,545.43 222.2,545.29 221.5,545.14 220.8,544.97 220.1,544.76 219.4,544.47 218.7,544.14 218,543.79 217.3,543.46 216.6,543.14 215.9,542.88 215.2,542.71 214.5,542.59 213.8,542.62 213.1,542.73 212.4,542.89 211.7,543.11 211,543.34 210.3,543.59 209.6,543.81 208.9,543.98 208.2,544.11 207.5,544.19 206.8,544.28 206.1,544.36 205.4,544.42 204.7,544.41 204,544.32 203.3,544.1 202.6,543.68 201.9,541.46 201.2,537.27 200.5,532.49 199.8,527.52 199.1,522.49 198.4,517.23 197.7,511.44 197,504.97 196.3,495.77 195.6,482.7" fill="#858585" stroke="#858585" stroke-width="0.5" stroke-linejoin="round"/>
<rect x="37.6" y="435.5" width="222.3" height="148.4" fill="none" stroke="#2a2a2a" stroke-width="1.1"/>
<line x1="47.7" y1="583.9" x2="47.7" y2="588.3" stroke="#2a2a2a" stroke-width="1"/>
<text x="47.7" y="598.5" text-anchor="middle" font-size="8.5">500</text>
<line x1="98.23" y1="583.9" x2="98.23" y2="588.3" stroke="#2a2a2a" stroke-width="1"/>
<text x="98.23" y="598.5" text-anchor="middle" font-size="8.5">1000</text>
<line x1="148.75" y1="583.9" x2="148.75" y2="588.3" stroke="#2a2a2a" stroke-width="1"/>
<text x="148.75" y="598.5" text-anchor="middle" font-size="8.5">1500</text>
<line x1="199.27" y1="583.9" x2="199.27" y2="588.3" stroke="#2a2a2a" stroke-width="1"/>
<text x="199.27" y="598.5" text-anchor="middle" font-size="8.5">2000</text>
<line x1="249.8" y1="583.9" x2="249.8" y2="588.3" stroke="#2a2a2a" stroke-width="1"/>
<text x="249.8" y="598.5" text-anchor="middle" font-size="8.5">2500</text>
<line x1="72.97" y1="583.9" x2="72.97" y2="586.1" stroke="#2a2a2a" stroke-width="1"/>
<line x1="123.49" y1="583.9" x2="123.49" y2="586.1" stroke="#2a2a2a" stroke-width="1"/>
<line x1="174.01" y1="583.9" x2="174.01" y2="586.1" stroke="#2a2a2a" stroke-width="1"/>
<line x1="224.53" y1="583.9" x2="224.53" y2="586.1" stroke="#2a2a2a" stroke-width="1"/>
<line x1="32.6" y1="574.62" x2="37.6" y2="574.62" stroke="#2a2a2a" stroke-width="1"/>
<text x="29.5" y="577.52" text-anchor="end" font-size="8.5">0.1</text>
<line x1="32.6" y1="556.08" x2="37.6" y2="556.08" stroke="#2a2a2a" stroke-width="1"/>
<text x="29.5" y="558.98" text-anchor="end" font-size="8.5">0.2</text>
<line x1="32.6" y1="537.52" x2="37.6" y2="537.52" stroke="#2a2a2a" stroke-width="1"/>
<text x="29.5" y="540.42" text-anchor="end" font-size="8.5">0.3</text>
<line x1="32.6" y1="518.98" x2="37.6" y2="518.98" stroke="#2a2a2a" stroke-width="1"/>
<text x="29.5" y="521.88" text-anchor="end" font-size="8.5">0.4</text>
<line x1="32.6" y1="500.43" x2="37.6" y2="500.43" stroke="#2a2a2a" stroke-width="1"/>
<text x="29.5" y="503.32" text-anchor="end" font-size="8.5">0.5</text>
<line x1="32.6" y1="481.88" x2="37.6" y2="481.88" stroke="#2a2a2a" stroke-width="1"/>
<text x="29.5" y="484.77" text-anchor="end" font-size="8.5">0.6</text>
<line x1="32.6" y1="463.32" x2="37.6" y2="463.32" stroke="#2a2a2a" stroke-width="1"/>
<text x="29.5" y="466.22" text-anchor="end" font-size="8.5">0.7</text>
<line x1="32.6" y1="444.77" x2="37.6" y2="444.77" stroke="#2a2a2a" stroke-width="1"/>
<text x="29.5" y="447.67" text-anchor="end" font-size="8.5">0.8</text>
<text x="148.75" y="609.5" text-anchor="middle" font-size="8.7">Wavelength (nm)</text>
<text x="14" y="509.7" text-anchor="middle" font-size="8.7" transform="rotate(-90 14 509.7)">Reflectance</text>
<text x="135" y="634.8" text-anchor="middle" font-size="14" style="font-family:Liberation Serif,serif;font-weight:bold;fill:#111">(k)</text>
<line x1="191.6" y1="442.5" x2="203.9" y2="442.5" stroke="#c4c4c4" stroke-width="1.2"/>
<text x="209.9" y="444.9" font-size="8.0" class="lg">P<tspan font-size="5.2" dy="1.6">1</tspan><tspan dy="-1.6">aer spectra</tspan></text>
<polygon points="320.9,511.2 321.19,511.02 321.58,510.79 322.04,510.52 322.56,510.19 323.08,509.82 323.6,509.4 324.12,508.85 324.66,508.16 325.22,507.41 325.79,506.73 326.35,506.21 326.9,505.95 327.42,506.02 327.93,506.35 328.43,506.85 328.94,507.41 329.46,507.94 330,508.35 330.58,508.65 331.19,508.93 331.82,509.18 332.44,509.39 333.04,509.59 333.6,509.75 334.11,509.9 334.6,510.04 335.06,510.15 335.5,510.22 335.95,510.22 336.4,510.15 336.86,509.96 337.31,509.67 337.76,509.31 338.2,508.94 338.65,508.61 339.1,508.35 339.56,508.18 340.03,508.05 340.51,507.96 340.97,507.88 341.4,507.82 341.8,507.75 342.14,507.66 342.43,507.55 342.69,507.45 342.96,507.38 343.25,507.38 343.6,507.45 344.01,507.64 344.48,507.93 344.97,508.27 345.47,508.64 345.95,508.98 346.4,509.25 346.81,509.55 347.21,509.93 347.59,510.28 347.96,510.51 348.33,510.5 348.7,510.15 349.07,509.25 349.43,507.84 349.79,506.2 350.16,504.6 350.52,503.31 350.9,502.6 351.3,502.52 351.71,502.85 352.12,503.5 352.54,504.35 352.93,505.32 353.3,506.3 353.64,507.39 353.96,508.71 354.27,510.13 354.56,511.56 354.84,512.88 355.1,514 355.34,514.97 355.55,515.9 355.75,516.73 355.95,517.4 356.16,517.84 356.4,518 356.67,517.94 356.95,517.72 357.24,517.27 357.55,516.55 357.87,515.48 358.2,514 358.54,511.93 358.88,509.28 359.23,506.29 359.6,503.19 359.99,500.21 360.4,497.6 360.85,495.05 361.34,492.3 361.85,489.68 362.36,487.51 362.85,486.11 363.3,485.8 363.71,486.84 364.09,489.03 364.45,491.99 364.8,495.34 365.15,498.7 365.5,501.7 365.86,504.45 366.21,507.29 366.57,510.13 366.92,512.93 367.26,515.6 367.6,518.1 367.94,520.2 368.28,521.9 368.62,523.49 368.94,525.23 369.24,527.41 369.5,530.3 369.72,534.71 369.89,540.59 370.04,546.89 370.18,552.6 370.33,556.68 370.5,558.1 370.7,556.47 370.9,552.55 371.12,547 371.34,540.48 371.57,533.66 371.8,527.2 372.04,520.68 372.3,513.47 372.56,505.96 372.81,498.53 373.07,491.55 373.3,485.4 373.51,479.66 373.7,473.94 373.88,468.67 374.06,464.29 374.26,461.22 374.5,459.9 374.78,460.84 375.1,463.8 375.44,468.07 375.78,472.95 376.1,477.73 376.4,481.7 376.66,485.01 376.91,488.26 377.14,491.4 377.36,494.41 377.58,497.26 377.8,499.9 378.02,502.25 378.22,504.32 378.43,506.23 378.63,508.08 378.86,510 379.1,512.1 379.36,514.7 379.63,517.75 379.91,520.88 380.21,523.67 380.54,525.74 380.9,526.7 381.3,526.19 381.73,524.47 382.19,522.02 382.66,519.35 383.13,516.95 383.6,515.3 384.06,514.5 384.53,514.17 385,514.11 385.47,514.11 385.94,513.98 386.4,513.5 386.86,512.62 387.31,511.49 387.76,510.22 388.2,508.92 388.65,507.71 389.1,506.7 389.55,506.06 389.99,505.73 390.43,505.48 390.87,505.1 391.33,504.34 391.8,503 392.3,500.63 392.83,497.33 393.37,493.66 393.9,490.19 394.42,487.48 394.9,486.1 395.34,486.31 395.74,487.72 396.12,489.89 396.5,492.39 396.89,494.77 397.3,496.6 397.73,497.89 398.18,499 398.63,500 399.09,500.95 399.55,501.93 400,503 400.45,504.16 400.91,505.35 401.37,506.57 401.82,507.8 402.27,509.05 402.7,510.3 403.11,511.69 403.5,513.26 403.88,514.83 404.26,516.26 404.66,517.37 405.1,518 405.58,518.04 406.1,517.59 406.63,516.82 407.17,515.92 407.7,515.06 408.2,514.4 408.67,514.06 409.13,513.9 409.57,513.79 410.01,513.55 410.45,513.04 410.9,512.1 411.38,510.5 411.9,508.31 412.42,505.86 412.9,503.43 413.31,501.34 413.6,499.9 413.6,501.9 413.31,503.45 412.9,505.69 412.42,508.29 411.9,510.94 411.38,513.32 410.9,515.1 410.45,516.22 410.01,516.92 409.57,517.35 409.13,517.64 408.67,517.95 408.2,518.4 407.7,519.12 407.17,520.03 406.63,520.95 406.1,521.7 405.58,522.11 405.1,522 404.66,521.25 404.26,519.96 403.88,518.33 403.5,516.55 403.11,514.81 402.7,513.3 402.27,511.97 401.82,510.66 401.37,509.38 400.91,508.17 400.45,507.03 400,506 399.55,505.16 399.09,504.51 398.63,503.94 398.18,503.34 397.73,502.59 397.3,501.6 396.89,500.04 396.5,497.94 396.12,495.71 395.74,493.72 395.34,492.39 394.9,492.1 394.42,493.18 393.9,495.38 393.37,498.23 392.83,501.26 392.3,504 391.8,506 391.33,507.16 390.87,507.84 390.43,508.23 389.99,508.54 389.55,508.96 389.1,509.7 388.65,510.83 388.2,512.22 387.76,513.72 387.31,515.19 386.86,516.5 386.4,517.5 385.94,518.05 385.47,518.23 385,518.24 384.53,518.29 384.06,518.57 383.6,519.3 383.13,520.83 382.66,523.06 382.19,525.52 381.73,527.77 381.3,529.31 380.9,529.7 380.54,528.7 380.21,526.63 379.91,523.88 379.63,520.79 379.36,517.74 379.1,515.1 378.86,512.88 378.63,510.78 378.43,508.73 378.22,506.62 378.02,504.37 377.8,501.9 377.58,499.2 377.36,496.34 377.14,493.34 376.91,490.22 376.66,487 376.4,483.7 376.1,479.73 375.78,474.95 375.44,470.07 375.1,465.8 374.78,462.84 374.5,461.9 374.26,463.22 374.06,466.29 373.88,470.67 373.7,475.94 373.51,481.66 373.3,487.4 373.07,493.55 372.81,500.53 372.56,507.96 372.3,515.47 372.04,522.68 371.8,529.2 371.57,535.65 371.34,542.44 371.12,548.94 370.9,554.48 370.7,558.42 370.5,560.1 370.33,558.82 370.18,554.94 370.04,549.46 369.89,543.36 369.72,537.65 369.5,533.3 369.24,530.35 368.94,528.01 368.62,526.05 368.28,524.23 367.94,522.33 367.6,520.1 367.26,517.53 366.92,514.81 366.57,512.01 366.21,509.17 365.86,506.38 365.5,503.7 365.15,500.82 364.8,497.63 364.45,494.49 364.09,491.73 363.71,489.72 363.3,488.8 362.85,489.17 362.36,490.59 361.85,492.74 361.34,495.34 360.85,498.06 360.4,500.6 359.99,503.2 359.6,506.15 359.23,509.22 358.88,512.21 358.54,514.87 358.2,517 357.87,518.61 357.55,519.88 357.24,520.84 356.95,521.5 356.67,521.88 356.4,522 356.16,521.79 355.95,521.21 355.75,520.36 355.55,519.31 355.34,518.16 355.1,517 354.84,515.71 354.56,514.19 354.27,512.57 353.96,510.97 353.64,509.5 353.3,508.3 352.93,507.27 352.54,506.3 352.12,505.47 351.71,504.85 351.3,504.54 350.9,504.6 350.52,505.24 350.16,506.45 349.79,507.95 349.43,509.49 349.07,510.81 348.7,511.65 348.33,511.97 347.96,511.97 347.59,511.75 347.21,511.41 346.81,511.04 346.4,510.75 345.95,510.48 345.47,510.14 344.97,509.77 344.48,509.43 344.01,509.14 343.6,508.95 343.25,508.88 342.96,508.88 342.69,508.95 342.43,509.05 342.14,509.16 341.8,509.25 341.4,509.32 340.97,509.38 340.51,509.46 340.03,509.55 339.56,509.68 339.1,509.85 338.65,510.11 338.2,510.44 337.76,510.81 337.31,511.17 336.86,511.46 336.4,511.65 335.95,511.72 335.5,511.72 335.06,511.65 334.6,511.54 334.11,511.4 333.6,511.25 333.04,511.09 332.44,510.89 331.82,510.68 331.19,510.43 330.58,510.15 330,509.85 329.46,509.44 328.94,508.92 328.43,508.37 327.93,507.88 327.42,507.54 326.9,507.45 326.35,507.67 325.79,508.14 325.22,508.76 324.66,509.44 324.12,510.09 323.6,510.6 323.08,511 322.56,511.37 322.04,511.7 321.58,511.98 321.19,512.22 320.9,512.4" fill="#7d7d7d" stroke="#7d7d7d" stroke-width="0.6" stroke-linejoin="round" opacity="1.0"/>
<polygon points="422.1,512.8 422.23,512.37 422.4,511.84 422.6,511.19 422.83,510.37 423.06,509.35 423.3,508.1 423.55,506.39 423.81,504.21 424.09,501.83 424.37,499.53 424.64,497.6 424.9,496.3 425.15,495.73 425.4,495.7 425.64,496.02 425.87,496.54 426.09,497.09 426.3,497.5 426.49,497.74 426.65,497.92 426.8,498.13 426.95,498.46 427.11,498.99 427.3,499.8 427.51,501.04 427.73,502.66 427.96,504.48 428.2,506.31 428.44,507.98 428.7,509.3 428.97,510.29 429.25,511.11 429.54,511.76 429.83,512.26 430.12,512.6 430.4,512.8 430.67,512.67 430.93,512.17 431.19,511.52 431.45,510.94 431.72,510.66 432,510.9 432.29,511.97 432.59,513.74 432.9,515.82 433.22,517.77 433.55,519.19 433.9,519.65 434.27,518.99 434.67,517.51 435.07,515.49 435.49,513.22 435.9,510.98 436.3,509.05 436.69,507.36 437.07,505.67 437.45,504.01 437.83,502.41 438.21,500.91 438.6,499.55 438.99,498.24 439.39,496.92 439.79,495.71 440.2,494.7 440.6,493.98 441,493.65 441.4,493.75 441.79,494.21 442.18,494.96 442.57,495.95 442.98,497.1 443.4,498.35 443.85,499.79 444.32,501.49 444.8,503.35 445.28,505.29 445.75,507.22 446.2,509.05 446.63,510.83 447.05,512.65 447.46,514.45 447.85,516.2 448.23,517.87 448.6,519.4 448.95,520.76 449.28,521.96 449.6,523.08 449.91,524.16 450.21,525.28 450.5,526.5 450.78,528.06 451.04,529.97 451.3,531.91 451.56,533.57 451.82,534.64 452.1,534.8 452.4,533.77 452.72,531.74 453.04,529.11 453.37,526.31 453.69,523.73 454,521.8 454.29,520.7 454.57,520.13 454.85,519.79 455.13,519.38 455.41,518.59 455.7,517.1 456.03,514.6 456.39,511.27 456.76,507.56 457.1,503.91 457.39,500.77 457.6,498.6 457.6,500.6 457.39,502.89 457.1,506.2 456.76,510.06 456.39,513.97 456.03,517.48 455.7,520.1 455.41,521.64 455.13,522.46 454.85,522.86 454.57,523.17 454.29,523.71 454,524.8 453.69,526.73 453.37,529.31 453.04,532.11 452.72,534.74 452.4,536.77 452.1,537.8 451.82,537.64 451.56,536.57 451.3,534.91 451.04,532.97 450.78,531.06 450.5,529.5 450.21,528.29 449.91,527.18 449.6,526.11 449.28,525 448.95,523.79 448.6,522.4 448.23,520.81 447.85,519.06 447.46,517.2 447.05,515.29 446.63,513.39 446.2,511.55 445.75,509.69 445.28,507.75 444.8,505.82 444.32,503.97 443.85,502.28 443.4,500.85 442.98,499.6 442.57,498.45 442.18,497.46 441.79,496.71 441.4,496.25 441,496.15 440.6,496.48 440.2,497.2 439.79,498.21 439.39,499.42 438.99,500.74 438.6,502.05 438.21,503.41 437.83,504.91 437.45,506.51 437.07,508.17 436.69,509.86 436.3,511.55 435.9,513.48 435.49,515.74 435.07,518.02 434.67,520.05 434.27,521.52 433.9,522.15 433.55,521.63 433.22,520.12 432.9,518.07 432.59,515.89 432.29,514.03 432,512.9 431.72,512.63 431.45,512.91 431.19,513.49 430.93,514.15 430.67,514.67 430.4,514.8 430.12,514.6 429.83,514.26 429.54,513.76 429.25,513.11 428.97,512.29 428.7,511.3 428.44,509.98 428.2,508.31 427.96,506.48 427.73,504.66 427.51,503.04 427.3,501.8 427.11,500.99 426.95,500.46 426.8,500.13 426.65,499.92 426.49,499.74 426.3,499.5 426.09,499.09 425.87,498.54 425.64,498.02 425.4,497.7 425.15,497.73 424.9,498.3 424.64,499.6 424.37,501.53 424.09,503.83 423.81,506.21 423.55,508.39 423.3,510.1 423.06,511.35 422.83,512.37 422.6,513.19 422.4,513.84 422.23,514.37 422.1,514.8" fill="#7d7d7d" stroke="#7d7d7d" stroke-width="0.6" stroke-linejoin="round" opacity="1.0"/>
<polygon points="475.3,475.85 475.37,478 475.46,481.12 475.56,484.74 475.7,488.41 475.88,491.68 476.1,494.1 476.4,495.54 476.77,496.35 477.18,496.76 477.59,496.99 477.98,497.3 478.3,497.9 478.55,498.61 478.74,499.19 478.9,499.84 479.06,500.74 479.25,502.08 479.5,504.05 479.79,507.13 480.11,511.26 480.45,515.83 480.83,520.22 481.24,523.82 481.7,526 482.22,526.54 482.79,525.88 483.4,524.42 484.03,522.57 484.67,520.73 485.3,519.3 485.91,518.23 486.53,517.19 487.15,516.16 487.78,515.11 488.43,514.04 489.1,512.9 489.8,511.65 490.54,510.28 491.29,508.87 492.05,507.51 492.79,506.28 493.5,505.25 494.19,504.41 494.87,503.68 495.53,503.08 496.18,502.61 496.8,502.28 497.4,502.1 497.95,502.11 498.46,502.3 498.95,502.63 499.44,503.06 499.95,503.53 500.5,504 501.11,504.5 501.77,505.07 502.45,505.68 503.13,506.31 503.79,506.93 504.4,507.5 505,508.06 505.61,508.63 506.19,509.19 506.73,509.71 507.17,510.14 507.5,510.45 507.5,517.95 507.17,517.6 506.73,517.13 506.19,516.57 505.61,515.93 505,515.23 504.4,514.5 503.79,513.68 503.13,512.75 502.45,511.77 501.77,510.78 501.11,509.84 500.5,509 499.95,508.21 499.44,507.41 498.95,506.65 498.46,506.01 497.95,505.54 497.4,505.3 496.8,505.29 496.18,505.46 495.53,505.81 494.87,506.31 494.19,506.96 493.5,507.75 492.79,508.74 492.05,509.95 491.29,511.3 490.54,512.73 489.8,514.16 489.1,515.5 488.43,516.78 487.78,518.07 487.15,519.35 486.53,520.62 485.91,521.88 485.3,523.1 484.67,524.64 484.03,526.58 483.4,528.49 482.79,529.97 482.22,530.61 481.7,530 481.24,527.65 480.83,523.81 480.45,519.12 480.11,514.25 479.79,509.84 479.5,506.55 479.25,504.44 479.06,502.98 478.9,502 478.74,501.28 478.55,500.65 478.3,499.9 477.98,499.27 477.59,498.98 477.18,498.76 476.77,498.37 476.4,497.57 476.1,496.1 475.88,493.62 475.7,490.26 475.56,486.49 475.46,482.76 475.37,479.56 475.3,477.35" fill="#7d7d7d" stroke="#7d7d7d" stroke-width="0.6" stroke-linejoin="round" opacity="1.0"/>
<polygon points="506,509 506.47,509.33 507.14,509.89 507.93,510.5 508.74,511 509.5,511.22 510.1,511 510.53,510.23 510.85,509.04 511.11,507.56 511.35,505.96 511.63,504.39 512,503 512.47,501.54 513,499.85 513.56,498.19 514.14,496.81 514.69,496 515.2,496 515.65,497.22 516.06,499.52 516.45,502.38 516.84,505.26 517.25,507.64 517.7,509 518.2,509.23 518.74,508.74 519.29,507.75 519.85,506.48 520.39,505.16 520.9,504 521.37,502.82 521.81,501.41 522.24,499.94 522.66,498.59 523.08,497.55 523.5,497 523.92,496.95 524.34,497.26 524.76,497.88 525.17,498.74 525.58,499.8 526,501 526.45,502.56 526.93,504.56 527.41,506.75 527.85,508.89 528.23,510.72 528.5,512 528.5,523 528.23,522.63 527.85,522.14 527.41,521.54 526.93,520.86 526.45,520.11 526,519.3 525.58,518.3 525.17,517.07 524.76,515.76 524.34,514.54 523.92,513.57 523.5,513 523.08,512.86 522.66,513.04 522.24,513.46 521.81,514.06 521.37,514.76 520.9,515.5 520.39,516.45 519.85,517.69 519.29,519.04 518.74,520.31 518.2,521.29 517.7,521.8 517.25,521.74 516.84,521.23 516.45,520.45 516.06,519.54 515.65,518.68 515.2,518 514.69,517.48 514.14,516.98 513.56,516.51 513,516.1 512.47,515.76 512,515.5 511.63,515.34 511.35,515.26 511.11,515.25 510.85,515.3 510.53,515.38 510.1,515.5 509.5,515.68 508.74,515.94 507.93,516.25 507.14,516.56 506.47,516.82 506,517" fill="#7d7d7d" stroke="#7d7d7d" stroke-width="0.8" stroke-linejoin="round" opacity="1.0"/>
<polyline points="512,503 512.36,501.13 512.86,498.26 513.44,495 514.07,491.96 514.67,489.76 515.2,489 515.69,490.12 516.18,492.7 516.65,496.12 517.08,499.74 517.44,502.91 517.7,505" fill="none" stroke="#b8b8b8" stroke-width="0.8" stroke-linejoin="round" opacity="1.0"/>
<polyline points="520.9,504 521.18,502.46 521.58,500.15 522.04,497.5 522.54,494.96 523.04,492.98 523.5,492 523.95,492.27 524.43,493.48 524.91,495.25 525.36,497.19 525.73,498.9 526,500" fill="none" stroke="#b8b8b8" stroke-width="0.8" stroke-linejoin="round" opacity="1.0"/>
<rect x="320.2" y="435.5" width="222.8" height="148.4" fill="none" stroke="#2a2a2a" stroke-width="1.1"/>
<line x1="330.1" y1="583.9" x2="330.1" y2="588.3" stroke="#2a2a2a" stroke-width="1"/>
<text x="330.1" y="598.5" text-anchor="middle" font-size="8.5">500</text>
<line x1="379.61" y1="583.9" x2="379.61" y2="588.3" stroke="#2a2a2a" stroke-width="1"/>
<text x="379.61" y="598.5" text-anchor="middle" font-size="8.5">1000</text>
<line x1="429.12" y1="583.9" x2="429.12" y2="588.3" stroke="#2a2a2a" stroke-width="1"/>
<text x="429.12" y="598.5" text-anchor="middle" font-size="8.5">1500</text>
<line x1="478.64" y1="583.9" x2="478.64" y2="588.3" stroke="#2a2a2a" stroke-width="1"/>
<text x="478.64" y="598.5" text-anchor="middle" font-size="8.5">2000</text>
<line x1="528.15" y1="583.9" x2="528.15" y2="588.3" stroke="#2a2a2a" stroke-width="1"/>
<text x="528.15" y="598.5" text-anchor="middle" font-size="8.5">2500</text>
<line x1="354.86" y1="583.9" x2="354.86" y2="586.1" stroke="#2a2a2a" stroke-width="1"/>
<line x1="404.37" y1="583.9" x2="404.37" y2="586.1" stroke="#2a2a2a" stroke-width="1"/>
<line x1="453.88" y1="583.9" x2="453.88" y2="586.1" stroke="#2a2a2a" stroke-width="1"/>
<line x1="503.39" y1="583.9" x2="503.39" y2="586.1" stroke="#2a2a2a" stroke-width="1"/>
<line x1="315.2" y1="435.5" x2="320.2" y2="435.5" stroke="#2a2a2a" stroke-width="1"/>
<text x="312.1" y="438.4" text-anchor="end" font-size="8.5">0.2</text>
<line x1="315.2" y1="472.6" x2="320.2" y2="472.6" stroke="#2a2a2a" stroke-width="1"/>
<text x="312.1" y="475.5" text-anchor="end" font-size="8.5">0.1</text>
<line x1="315.2" y1="509.7" x2="320.2" y2="509.7" stroke="#2a2a2a" stroke-width="1"/>
<text x="312.1" y="512.6" text-anchor="end" font-size="8.5">0.0</text>
<line x1="315.2" y1="546.8" x2="320.2" y2="546.8" stroke="#2a2a2a" stroke-width="1"/>
<text x="312.1" y="549.7" text-anchor="end" font-size="8.5">−0.1</text>
<line x1="315.2" y1="583.9" x2="320.2" y2="583.9" stroke="#2a2a2a" stroke-width="1"/>
<text x="312.1" y="586.8" text-anchor="end" font-size="8.5">−0.2</text>
<line x1="318" y1="454.05" x2="320.2" y2="454.05" stroke="#2a2a2a" stroke-width="1"/>
<line x1="318" y1="491.15" x2="320.2" y2="491.15" stroke="#2a2a2a" stroke-width="1"/>
<line x1="318" y1="528.25" x2="320.2" y2="528.25" stroke="#2a2a2a" stroke-width="1"/>
<line x1="318" y1="565.35" x2="320.2" y2="565.35" stroke="#2a2a2a" stroke-width="1"/>
<text x="431.6" y="609.5" text-anchor="middle" font-size="8.7">Wavelength (nm)</text>
<text x="293" y="509.7" text-anchor="middle" font-size="8.7" transform="rotate(-90 293 509.7)">Value</text>
<text x="417.8" y="634.8" text-anchor="middle" font-size="14" style="font-family:Liberation Serif,serif;font-weight:bold;fill:#111">(l)</text>
<line x1="432.3" y1="445.5" x2="443.8" y2="445.5" stroke="#c4c4c4" stroke-width="1.2"/>
<text x="448.2" y="444.2" font-size="8.0" class="lg">High-frequency coefficient</text>
<text x="448.2" y="453.7" font-size="8.0" class="lg">reconstruction signal</text>
<polyline points="38.4,784.2 39.18,783.1 40.27,781.56 41.55,779.74 42.91,777.83 44.23,775.99 45.4,774.4 46.41,773.06 47.37,771.83 48.28,770.67 49.18,769.56 50.08,768.45 51,767.3 51.91,766.06 52.79,764.75 53.67,763.44 54.6,762.21 55.59,761.14 56.7,760.3 57.99,759.8 59.44,759.6 60.98,759.56 62.49,759.52 63.89,759.35 65.1,758.9 66.08,757.97 66.9,756.64 67.61,755.18 68.27,753.84 68.91,752.9 69.6,752.6 70.3,753.29 70.96,754.83 71.62,756.76 72.29,758.61 73.01,759.95 73.8,760.3 74.68,759.28 75.64,757.19 76.64,754.57 77.65,751.98 78.65,749.97 79.6,749.1 80.52,749.85 81.45,751.87 82.36,754.48 83.24,756.98 84.06,758.68 84.8,758.9 85.49,757.19 86.13,754.03 86.73,750.06 87.24,745.96 87.67,742.39 88,740" fill="none" stroke="#c8c8c8" stroke-width="0.7" stroke-linejoin="round" opacity="1.0"/>
<polygon points="37.8,787 38.65,786.05 39.84,784.72 41.25,783.15 42.73,781.5 44.16,779.94 45.4,778.6 46.45,777.51 47.41,776.53 48.32,775.63 49.2,774.77 50.08,773.91 51,773 51.91,771.99 52.79,770.9 53.67,769.8 54.6,768.78 55.59,767.92 56.7,767.3 57.99,767.03 59.44,767.09 60.98,767.29 62.49,767.5 63.89,767.56 65.1,767.3 66.08,766.51 66.9,765.28 67.61,763.89 68.27,762.63 68.91,761.81 69.6,761.7 70.3,762.7 70.96,764.66 71.62,767.04 72.29,769.32 73.01,770.98 73.8,771.5 74.68,770.44 75.64,768.13 76.64,765.2 77.65,762.27 78.65,759.96 79.6,758.9 80.51,759.64 81.41,761.81 82.3,764.59 83.16,767.2 84,768.84 84.8,768.7 85.57,766.76 86.31,763.64 87.02,759.56 87.7,754.69 88.36,749.24 89,743.4 89.62,736.12 90.22,727.03 90.8,717.35 91.34,708.32 91.85,701.16 92.3,697.1 92.68,696.51 92.97,698.47 93.23,702.3 93.48,707.32 93.76,712.85 94.1,718.2 94.53,724.1 95.03,731.25 95.55,738.91 96.06,746.33 96.53,752.77 96.9,757.5 97.12,760.39 97.2,762.02 97.24,762.67 97.31,762.64 97.5,762.22 97.9,761.7 98.55,760.86 99.39,759.42 100.36,757.59 101.37,755.59 102.38,753.62 103.3,751.9 104.14,750.4 104.94,748.94 105.74,747.52 106.53,746.13 107.35,744.76 108.2,743.4 109.1,741.89 110.04,740.2 111,738.54 111.96,737.1 112.9,736.08 113.8,735.7 114.67,736.08 115.54,737.1 116.38,738.54 117.2,740.2 117.97,741.89 118.7,743.4 119.35,744.97 119.91,746.8 120.44,748.66 120.97,750.3 121.55,751.46 122.2,751.9 122.94,751.6 123.73,750.74 124.57,749.41 125.43,747.69 126.31,745.66 127.2,743.4 128.16,740.57 129.21,737.03 130.28,733.18 131.28,729.43 132.15,726.17 132.8,723.8 133.2,722.45 133.39,721.81 133.45,721.67 133.43,721.81 133.39,721.99 133.4,722 133.4,753 133.39,753.08 133.43,753.09 133.45,753.15 133.39,753.37 133.2,753.85 132.8,754.7 132.14,756.08 131.26,757.94 130.24,760.06 129.17,762.23 128.13,764.25 127.2,765.9 126.38,767.3 125.6,768.65 124.85,769.84 124.12,770.77 123.41,771.36 122.7,771.5 122.01,771.03 121.36,770 120.73,768.61 120.08,767.09 119.41,765.65 118.7,764.5 117.94,763.56 117.13,762.63 116.31,761.79 115.47,761.08 114.63,760.56 113.8,760.3 112.99,760.3 112.19,760.51 111.39,760.91 110.59,761.49 109.76,762.23 108.9,763.1 108,764.17 107.08,765.46 106.13,766.9 105.18,768.43 104.23,769.99 103.3,771.5 102.37,773.41 101.43,775.86 100.49,778.34 99.57,780.31 98.71,781.28 97.9,780.7 97.15,778.41 96.44,774.79 95.78,770.16 95.16,764.82 94.6,759.09 94.1,753.3 93.68,746.43 93.33,738.03 93.04,729.24 92.78,721.21 92.54,715.08 92.3,712 92.08,712.48 91.91,715.7 91.76,720.82 91.6,727 91.39,733.41 91.1,739.2 90.73,744.9 90.31,751.28 89.84,757.89 89.34,764.25 88.83,769.91 88.3,774.4 87.78,777.7 87.25,780.17 86.7,781.94 86.12,783.12 85.49,783.83 84.8,784.2 84.04,783.84 83.21,782.57 82.34,780.83 81.44,779.07 80.52,777.71 79.6,777.2 78.65,777.81 77.65,779.25 76.64,781.09 75.64,782.93 74.68,784.34 73.8,784.9 73.01,784.34 72.29,782.93 71.62,781.09 70.96,779.25 70.3,777.81 69.6,777.2 68.9,777.61 68.21,778.76 67.52,780.31 66.8,781.94 66,783.35 65.1,784.2 64.08,784.4 62.96,784.2 61.76,783.76 60.53,783.27 59.3,782.89 58.1,782.8 56.91,783.02 55.69,783.42 54.46,783.94 53.26,784.51 52.1,785.08 51,785.6 50,786.04 49.1,786.46 48.23,786.87 47.36,787.31 46.43,787.81 45.4,788.4 44.16,789.15 42.73,790.06 41.25,791.02 39.84,791.95 38.65,792.74 37.8,793.3" fill="#9a9a9a" stroke="#b0b0b0" stroke-width="0.9" stroke-linejoin="round"/>
<polygon points="37.8,787.63 38.5,786.88 39.2,786.13 39.9,785.38 40.6,784.63 41.3,783.88 42,783.14 42.7,782.39 43.4,781.66 44.1,780.92 44.8,780.2 45.5,779.48 46.2,778.78 46.9,778.1 47.6,777.43 48.3,776.77 49,776.12 49.7,775.47 50.4,774.82 51.1,774.16 51.8,773.43 52.5,772.62 53.2,771.81 53.9,771.02 54.6,770.29 55.3,769.71 56,769.26 56.7,768.88 57.4,768.73 58.1,768.61 58.8,768.64 59.5,768.68 60.2,768.79 60.9,768.9 61.6,769.01 62.3,769.13 63,769.19 63.7,769.23 64.4,769.14 65.1,768.99 65.8,768.42 66.5,767.54 67.2,766.33 67.9,764.95 68.6,763.8 69.3,763.31 70,763.8 70.7,765.36 71.4,767.67 72.1,770.04 72.8,771.84 73.5,772.64 74.2,772.38 74.9,771.32 75.6,769.7 76.3,767.74 77,765.78 77.7,763.86 78.4,762.3 79.1,761.27 79.8,760.89 80.5,761.44 81.2,763.03 81.9,765 82.6,767.09 83.3,768.99 84,770.33 84.7,770.26 85.4,768.85 86.1,766.38 86.8,762.89 87.5,758.42 88.2,753.03 88.9,746.8 89.6,738.81 90.3,728.29 91,716.7 91.7,705.24 92.4,698.57 93.1,703.42 93.8,716.98 94.5,727.12 95.2,736.93 95.9,746.67 96.6,755.9 97.3,764.26 98,763.49 98.7,762.67 99.4,761.52 100.1,760.19 100.8,758.8 101.5,757.37 102.2,755.96 102.9,754.61 103.6,753.33 104.3,752.08 105,750.83 105.7,749.59 106.4,748.37 107.1,747.2 107.8,746.08 108.5,744.97 109.2,743.82 109.9,742.62 110.6,741.46 111.3,740.38 112,739.41 112.7,738.71 113.4,738.31 114.1,738.29 114.8,738.68 115.5,739.46 116.2,740.58 116.9,741.88 117.6,743.29 118.3,744.71 119,746.21 119.7,748.12 120.4,750.44 121.1,752.44 121.8,753.54 122.5,753.74 123.2,753.32 123.9,752.52 124.6,751.43 125.3,750.07 126,748.54 126.7,746.88 127.4,745.08 128.1,743.09 128.8,740.86 129.5,738.53 130.2,736.12 130.9,733.63 131.6,731.13 132.3,728.63 133,726.23 133.4,724.95 133.4,750.18 133,751.15 132.3,752.74 131.6,754.33 130.9,755.91 130.2,757.48 129.5,759 128.8,760.49 128.1,761.94 127.4,763.27 126.7,764.55 126,765.8 125.3,767.01 124.6,768.08 123.9,768.91 123.2,769.39 122.5,769.4 121.8,768.78 121.1,767.54 120.4,765.91 119.7,764.25 119,762.9 118.3,761.86 117.6,760.96 116.9,760.12 116.2,759.35 115.5,758.7 114.8,758.22 114.1,757.94 113.4,757.86 112.7,757.97 112,758.25 111.3,758.69 110.6,759.26 109.9,759.94 109.2,760.69 108.5,761.51 107.8,762.41 107.1,763.4 106.4,764.48 105.7,765.59 105,766.74 104.3,767.9 103.6,769.05 102.9,770.35 102.2,771.86 101.5,773.64 100.8,775.43 100.1,777.07 99.4,778.4 98.7,779.21 98,778.85 97.3,777.24 96.6,773.41 95.9,768.32 95.2,762.03 94.5,754.52 93.8,744.93 93.1,728.04 92.4,711.64 91.7,721.16 91,738.08 90.3,748.87 89.6,758.53 88.9,766.62 88.2,772.59 87.5,776.71 86.8,779.53 86.1,781.28 85.4,782.21 84.7,782.61 84,782.28 83.3,781.18 82.6,779.76 81.9,778.3 81.2,776.97 80.5,775.89 79.8,775.49 79.1,775.72 78.4,776.41 77.7,777.48 77,778.81 76.3,780.16 75.6,781.51 74.9,782.6 74.2,783.28 73.5,783.35 72.8,782.58 72.1,781.03 71.4,779.05 70.7,777.2 70,776.02 69.3,775.81 68.6,776.52 67.9,777.85 67.2,779.4 66.5,780.81 65.8,781.86 65.1,782.51 64.4,782.65 63.7,782.66 63,782.54 62.3,782.31 61.6,782.07 60.9,781.8 60.2,781.57 59.5,781.36 58.8,781.27 58.1,781.22 57.4,781.35 56.7,781.51 56,781.76 55.3,782.04 54.6,782.37 53.9,782.74 53.2,783.13 52.5,783.52 51.8,783.91 51.1,784.29 50.4,784.64 49.7,784.99 49,785.35 48.3,785.72 47.6,786.1 46.9,786.51 46.2,786.93 45.5,787.36 44.8,787.81 44.1,788.27 43.4,788.75 42.7,789.23 42,789.71 41.3,790.2 40.6,790.7 39.9,791.19 39.2,791.68 38.5,792.18 37.8,792.67" fill="#858585" stroke="#858585" stroke-width="0.5" stroke-linejoin="round"/>
<polygon points="141.3,725.3 141.66,724.24 142.17,722.67 142.76,720.87 143.4,719.1 144.03,717.66 144.6,716.8 145.11,716.58 145.6,716.77 146.08,717.28 146.57,718.01 147.07,718.85 147.6,719.7 148.18,720.66 148.81,721.83 149.46,723.12 150.09,724.42 150.68,725.65 151.2,726.7 151.6,727.59 151.88,728.41 152.12,729.15 152.4,729.81 152.76,730.39 153.3,730.9 154.03,731.33 154.91,731.68 155.88,731.95 156.9,732.14 157.93,732.26 158.9,732.3 159.87,732.23 160.88,732.06 161.89,731.81 162.86,731.51 163.74,731.19 164.5,730.9 165.1,730.74 165.58,730.71 165.98,730.66 166.33,730.46 166.69,729.95 167.1,729 167.56,727.51 168.04,725.59 168.53,723.36 169.01,720.96 169.47,718.53 169.9,716.2 170.29,713.94 170.65,711.63 170.99,709.28 171.33,706.92 171.66,704.55 172,702.2 172.35,699.81 172.71,697.36 173.07,694.91 173.43,692.51 173.77,690.22 174.1,688.1 174.41,686.16 174.7,684.34 174.98,682.64 175.26,681.03 175.53,679.49 175.8,678 176.09,676.51 176.4,675.03 176.71,673.62 176.99,672.35 177.23,671.29 177.4,670.5 177.7,690 177.68,691.31 177.66,693.1 177.64,695.23 177.59,697.55 177.52,699.92 177.4,702.2 177.24,704.43 177.06,706.73 176.84,709.08 176.6,711.46 176.32,713.84 176,716.2 175.64,718.55 175.23,720.9 174.79,723.25 174.33,725.6 173.86,727.95 173.4,730.3 172.94,732.64 172.48,734.97 172.01,737.3 171.54,739.63 171.07,741.96 170.6,744.3 170.16,746.75 169.74,749.34 169.32,751.92 168.87,754.39 168.38,756.59 167.8,758.4 167.14,759.77 166.41,760.79 165.63,761.55 164.8,762.14 163.96,762.66 163.1,763.2 162.21,763.75 161.27,764.26 160.31,764.68 159.35,765.01 158.4,765.22 157.5,765.3 156.63,765.23 155.77,765.04 154.93,764.73 154.11,764.31 153.33,763.8 152.6,763.2 151.93,762.44 151.33,761.49 150.76,760.44 150.2,759.39 149.62,758.41 149,757.6 148.33,756.91 147.62,756.25 146.89,755.67 146.17,755.21 145.47,754.91 144.8,754.8 144.14,754.98 143.45,755.42 142.79,756.02 142.18,756.67 141.67,757.23 141.3,757.6" fill="#9a9a9a" stroke="#b0b0b0" stroke-width="0.9" stroke-linejoin="round"/>
<polygon points="141.3,730.14 142,728.24 142.7,726.32 143.4,724.56 144.1,723.17 144.8,722.43 145.5,722.46 146.2,723.13 146.9,724.13 147.6,725.18 148.3,726.28 149,727.52 149.7,728.86 150.4,730.27 151.1,731.68 151.8,733.29 152.5,734.94 153.2,735.74 153.9,736.19 154.6,736.51 155.3,736.75 156,736.94 156.7,737.08 157.4,737.16 158.1,737.22 158.8,737.22 159.5,737.16 160.2,737.06 160.9,736.91 161.6,736.71 162.3,736.48 163,736.23 163.7,735.95 164.4,735.66 165.1,735.42 165.8,735.29 166.5,734.79 167.2,733.32 167.9,730.95 168.6,727.9 169.3,724.32 170,720.43 170.7,716.17 171.4,711.48 172.1,706.83 172.8,702.27 173.5,697.7 174.2,693.28 174.9,689.06 175.6,685.04 176.3,681.28 177,677.56 177.4,675.25 177.4,699.03 177,703.87 176.3,710.11 175.6,714.8 174.9,718.7 174.2,722.36 173.5,726.01 172.8,729.71 172.1,733.33 171.4,736.93 170.7,740.55 170,744.5 169.3,748.77 168.6,752.34 167.9,754.89 167.2,756.54 166.5,757.62 165.8,758.31 165.1,758.81 164.4,759.25 163.7,759.66 163,760.08 162.3,760.5 161.6,760.86 160.9,761.18 160.2,761.47 159.5,761.69 158.8,761.85 158.1,761.95 157.4,761.98 156.7,761.93 156,761.78 155.3,761.56 154.6,761.26 153.9,760.88 153.2,760.4 152.5,759.77 151.8,758.83 151.1,757.62 150.4,756.3 149.7,755.06 149,754.06 148.3,753.28 147.6,752.58 146.9,751.97 146.2,751.46 145.5,751.11 144.8,750.99 144.1,751.25 143.4,751.83 142.7,752.61 142,753.5 141.3,754.37" fill="#858585" stroke="#858585" stroke-width="0.5" stroke-linejoin="round"/>
<polygon points="195.6,677.5 195.89,679.69 196.27,682.76 196.73,686.38 197.25,690.21 197.81,693.93 198.4,697.2 199.01,700.21 199.67,703.28 200.38,706.23 201.11,708.89 201.89,711.1 202.7,712.7 203.55,713.55 204.44,713.77 205.37,713.54 206.33,713.05 207.31,712.47 208.3,712 209.31,711.48 210.35,710.72 211.41,709.89 212.47,709.12 213.54,708.58 214.6,708.4 215.66,708.66 216.73,709.25 217.79,710.06 218.85,710.98 219.89,711.9 220.9,712.7 221.9,713.54 222.89,714.53 223.87,715.51 224.81,716.34 225.69,716.86 226.5,716.9 227.21,716.52 227.83,715.83 228.39,714.84 228.93,713.51 229.49,711.84 230.1,709.8 230.78,707.17 231.51,703.91 232.25,700.31 232.98,696.63 233.67,693.17 234.3,690.2 234.85,687.64 235.34,685.24 235.79,683.06 236.22,681.13 236.65,679.5 237.1,678.2 237.57,677.3 238.03,676.77 238.5,676.53 238.97,676.51 239.43,676.63 239.9,676.8 240.36,677.09 240.81,677.58 241.26,678.2 241.71,678.9 242.19,679.62 242.7,680.3 243.25,680.96 243.84,681.64 244.45,682.35 245.06,683.07 245.65,683.79 246.2,684.5 246.71,685.11 247.2,685.62 247.67,686.12 248.12,686.75 248.56,687.6 249,688.8 249.45,690.57 249.92,692.85 250.38,695.37 250.79,697.83 251.14,699.93 251.4,701.4 251.4,702.1 250.99,701.45 250.43,700.52 249.76,699.43 249.04,698.31 248.3,697.3 247.6,696.5 246.92,695.94 246.23,695.51 245.52,695.19 244.81,694.92 244.1,694.67 243.4,694.4 242.7,693.95 242,693.31 241.3,692.69 240.6,692.3 239.9,692.33 239.2,693 238.5,694.23 237.8,695.84 237.1,697.89 236.4,700.4 235.7,703.42 235,707 234.3,711.53 233.6,717.07 232.91,723.11 232.21,729.18 231.51,734.77 230.8,739.4 230.1,743.14 229.42,746.39 228.74,749.17 228.03,751.49 227.29,753.36 226.5,754.8 225.65,755.63 224.76,755.81 223.83,755.54 222.87,755.03 221.89,754.48 220.9,754.1 219.89,753.77 218.85,753.32 217.79,752.83 216.73,752.39 215.66,752.08 214.6,752 213.54,752.22 212.46,752.69 211.39,753.29 210.33,753.91 209.29,754.46 208.3,754.8 207.31,754.95 206.29,755.01 205.31,754.98 204.4,754.88 203.61,754.71 203,754.5 202.61,754.27 202.42,754.02 202.36,753.71 202.34,753.3 202.32,752.74 202.2,752 202.01,751.09 201.8,750.05 201.58,748.87 201.34,747.53 201.08,746.01 200.8,744.3 200.49,742.33 200.14,740.1 199.77,737.7 199.4,735.21 199.03,732.71 198.7,730.3 198.39,728.07 198.09,725.98 197.81,723.89 197.53,721.65 197.26,719.14 197,716.2 196.73,712.47 196.46,707.99 196.19,703.22 195.95,698.65 195.75,694.75 195.6,692" fill="#9a9a9a" stroke="#b0b0b0" stroke-width="0.9" stroke-linejoin="round"/>
<polygon points="195.6,679.67 196.3,686.32 197,692.54 197.7,697.66 198.4,701.84 199.1,705.49 199.8,708.92 200.5,712.04 201.2,714.77 201.9,717.03 202.6,718.77 203.3,719.5 204,719.83 204.7,719.89 205.4,719.75 206.1,719.44 206.8,719.1 207.5,718.76 208.2,718.46 208.9,718.12 209.6,717.72 210.3,717.23 211,716.7 211.7,716.19 212.4,715.71 213.1,715.34 213.8,715.08 214.5,714.96 215.2,715.07 215.9,715.3 216.6,715.66 217.3,716.13 218,716.64 218.7,717.21 219.4,717.78 220.1,718.33 220.8,718.84 221.5,719.37 222.2,719.96 222.9,720.61 223.6,721.27 224.3,721.86 225,722.35 225.7,722.66 226.4,722.59 227.1,722.14 227.8,721.29 228.5,719.87 229.2,717.89 229.9,715.51 230.6,712.76 231.3,709.53 232,705.92 232.7,702.08 233.4,698.19 234.1,694.45 234.8,690.93 235.5,687.45 236.2,684.22 236.9,681.75 237.6,680.13 238.3,679.34 239,679.04 239.7,679.1 240.4,679.41 241.1,680.17 241.8,681.14 242.5,682.09 243.2,682.9 243.9,683.64 244.6,684.37 245.3,685.12 246,685.92 246.7,686.71 247.4,687.41 248.1,688.27 248.8,689.71 249.5,692.04 250.2,695.26 250.9,698.9 251.4,701.5 251.4,702.03 250.9,701.02 250.2,699.57 249.5,698.21 248.8,697.01 248.1,696.03 247.4,695.28 246.7,694.73 246,694.29 245.3,693.93 244.6,693.61 243.9,693.3 243.2,692.93 242.5,692.39 241.8,691.72 241.1,691.12 240.4,690.79 239.7,690.94 239,691.67 238.3,692.88 237.6,694.51 236.9,696.62 236.2,699.26 235.5,702.45 234.8,706.25 234.1,710.93 233.4,716.4 232.7,722.22 232,727.9 231.3,732.99 230.6,737.21 229.9,740.75 229.2,743.83 228.5,746.41 227.8,748.46 227.1,750 226.4,751.1 225.7,751.71 225,751.83 224.3,751.7 223.6,751.41 222.9,751 222.2,750.58 221.5,750.22 220.8,749.92 220.1,749.66 219.4,749.35 218.7,749.01 218,748.66 217.3,748.33 216.6,748.04 215.9,747.82 215.2,747.7 214.5,747.66 213.8,747.8 213.1,748.05 212.4,748.37 211.7,748.77 211,749.19 210.3,749.61 209.6,749.99 208.9,750.3 208.2,750.54 207.5,750.67 206.8,750.76 206.1,750.82 205.4,750.84 204.7,750.79 204,750.68 203.3,750.47 202.6,750.08 201.9,746.6 201.2,742.95 200.5,738.85 199.8,734.49 199.1,729.91 198.4,725.05 197.7,720.04 197,713.42 196.3,702.91 195.6,690.55" fill="#858585" stroke="#858585" stroke-width="0.5" stroke-linejoin="round"/>
<rect x="37.6" y="647.3" width="222.3" height="148.4" fill="none" stroke="#2a2a2a" stroke-width="1.1"/>
<line x1="47.7" y1="795.7" x2="47.7" y2="800.1" stroke="#2a2a2a" stroke-width="1"/>
<text x="47.7" y="810.3" text-anchor="middle" font-size="8.5">500</text>
<line x1="98.23" y1="795.7" x2="98.23" y2="800.1" stroke="#2a2a2a" stroke-width="1"/>
<text x="98.23" y="810.3" text-anchor="middle" font-size="8.5">1000</text>
<line x1="148.75" y1="795.7" x2="148.75" y2="800.1" stroke="#2a2a2a" stroke-width="1"/>
<text x="148.75" y="810.3" text-anchor="middle" font-size="8.5">1500</text>
<line x1="199.27" y1="795.7" x2="199.27" y2="800.1" stroke="#2a2a2a" stroke-width="1"/>
<text x="199.27" y="810.3" text-anchor="middle" font-size="8.5">2000</text>
<line x1="249.8" y1="795.7" x2="249.8" y2="800.1" stroke="#2a2a2a" stroke-width="1"/>
<text x="249.8" y="810.3" text-anchor="middle" font-size="8.5">2500</text>
<line x1="72.97" y1="795.7" x2="72.97" y2="797.9" stroke="#2a2a2a" stroke-width="1"/>
<line x1="123.49" y1="795.7" x2="123.49" y2="797.9" stroke="#2a2a2a" stroke-width="1"/>
<line x1="174.01" y1="795.7" x2="174.01" y2="797.9" stroke="#2a2a2a" stroke-width="1"/>
<line x1="224.53" y1="795.7" x2="224.53" y2="797.9" stroke="#2a2a2a" stroke-width="1"/>
<line x1="32.6" y1="786.43" x2="37.6" y2="786.43" stroke="#2a2a2a" stroke-width="1"/>
<text x="29.5" y="789.33" text-anchor="end" font-size="8.5">0.1</text>
<line x1="32.6" y1="767.88" x2="37.6" y2="767.88" stroke="#2a2a2a" stroke-width="1"/>
<text x="29.5" y="770.77" text-anchor="end" font-size="8.5">0.2</text>
<line x1="32.6" y1="749.33" x2="37.6" y2="749.33" stroke="#2a2a2a" stroke-width="1"/>
<text x="29.5" y="752.23" text-anchor="end" font-size="8.5">0.3</text>
<line x1="32.6" y1="730.78" x2="37.6" y2="730.78" stroke="#2a2a2a" stroke-width="1"/>
<text x="29.5" y="733.68" text-anchor="end" font-size="8.5">0.4</text>
<line x1="32.6" y1="712.23" x2="37.6" y2="712.23" stroke="#2a2a2a" stroke-width="1"/>
<text x="29.5" y="715.12" text-anchor="end" font-size="8.5">0.5</text>
<line x1="32.6" y1="693.68" x2="37.6" y2="693.68" stroke="#2a2a2a" stroke-width="1"/>
<text x="29.5" y="696.58" text-anchor="end" font-size="8.5">0.6</text>
<line x1="32.6" y1="675.12" x2="37.6" y2="675.12" stroke="#2a2a2a" stroke-width="1"/>
<text x="29.5" y="678.02" text-anchor="end" font-size="8.5">0.7</text>
<line x1="32.6" y1="656.58" x2="37.6" y2="656.58" stroke="#2a2a2a" stroke-width="1"/>
<text x="29.5" y="659.48" text-anchor="end" font-size="8.5">0.8</text>
<text x="148.75" y="821.3" text-anchor="middle" font-size="8.7">Wavelength (nm)</text>
<text x="14" y="721.5" text-anchor="middle" font-size="8.7" transform="rotate(-90 14 721.5)">Reflectance</text>
<text x="135" y="846.6" text-anchor="middle" font-size="14" style="font-family:Liberation Serif,serif;font-weight:bold;fill:#111">(m)</text>
<line x1="196.6" y1="654.3" x2="208.9" y2="654.3" stroke="#c4c4c4" stroke-width="1.2"/>
<text x="214.9" y="656.7" font-size="8.0" class="lg">Pγδ spectra</text>
<polygon points="320.9,722.9 321.19,722.76 321.58,722.58 322.04,722.37 322.56,722.1 323.08,721.78 323.6,721.4 324.12,720.87 324.66,720.18 325.22,719.43 325.79,718.74 326.35,718.21 326.9,717.95 327.42,718.03 327.93,718.37 328.43,718.88 328.94,719.44 329.46,719.97 330,720.35 330.58,720.59 331.19,720.78 331.82,720.92 332.44,721.04 333.04,721.15 333.6,721.25 334.11,721.37 334.6,721.51 335.06,721.62 335.5,721.71 335.95,721.72 336.4,721.65 336.86,721.44 337.31,721.09 337.76,720.69 338.2,720.28 338.65,719.95 339.1,719.75 339.56,719.73 340.02,719.84 340.48,720.01 340.94,720.2 341.38,720.33 341.8,720.35 342.19,720.21 342.56,719.94 342.92,719.62 343.27,719.32 343.63,719.11 344,719.05 344.39,719.18 344.79,719.44 345.19,719.79 345.6,720.17 346,720.54 346.4,720.85 346.79,721.21 347.16,721.68 347.54,722.14 347.91,722.46 348.3,722.5 348.7,722.15 349.12,721.15 349.56,719.57 350,717.72 350.44,715.91 350.88,714.47 351.3,713.7 351.71,713.65 352.1,714.09 352.49,714.88 352.87,715.92 353.24,717.1 353.6,718.3 353.95,719.68 354.29,721.37 354.62,723.2 354.93,724.99 355.23,726.58 355.5,727.8 355.73,728.68 355.93,729.37 356.11,729.86 356.28,730.14 356.47,730.19 356.7,730 356.96,729.58 357.25,728.95 357.56,728.09 357.87,727 358.19,725.67 358.5,724.1 358.8,722.15 359.09,719.8 359.38,717.22 359.69,714.55 360.02,711.96 360.4,709.6 360.83,707.14 361.32,704.37 361.83,701.69 362.35,699.45 362.85,698.03 363.3,697.8 363.71,699.06 364.09,701.56 364.45,704.89 364.8,708.6 365.15,712.28 365.5,715.5 365.86,718.36 366.21,721.22 366.57,724.04 366.92,726.79 367.26,729.42 367.6,731.9 367.94,734.02 368.28,735.77 368.62,737.4 368.94,739.17 369.24,741.32 369.5,744.1 369.72,748.27 369.89,753.79 370.04,759.68 370.18,765 370.33,768.8 370.5,770.1 370.7,768.61 370.9,765.02 371.12,759.9 371.34,753.81 371.57,747.33 371.8,741 372.04,734.36 372.3,726.87 372.56,718.98 372.81,711.13 373.07,703.79 373.3,697.4 373.51,691.56 373.7,685.81 373.88,680.56 374.06,676.23 374.26,673.2 374.5,671.9 374.78,672.84 375.1,675.8 375.44,680.07 375.78,684.95 376.1,689.73 376.4,693.7 376.66,696.99 376.91,700.19 377.14,703.28 377.36,706.27 377.58,709.15 377.8,711.9 378.02,714.5 378.22,716.96 378.43,719.29 378.63,721.56 378.86,723.78 379.1,726 379.36,728.47 379.63,731.2 379.91,733.89 380.21,736.24 380.54,737.94 380.9,738.7 381.3,738.19 381.73,736.6 382.19,734.36 382.66,731.91 383.13,729.72 383.6,728.2 384.06,727.46 384.53,727.17 385,727.12 385.47,727.11 385.94,726.94 386.4,726.4 386.86,725.45 387.31,724.26 387.76,722.89 388.2,721.46 388.65,720.03 389.1,718.7 389.55,717.5 389.99,716.38 390.43,715.26 390.87,714.1 391.33,712.83 391.8,711.4 392.3,709.57 392.83,707.33 393.37,704.99 393.9,702.84 394.42,701.18 394.9,700.3 395.34,700.35 395.74,701.1 396.12,702.34 396.5,703.86 396.89,705.41 397.3,706.8 397.73,708.06 398.18,709.37 398.63,710.74 399.09,712.14 399.55,713.56 400,715 400.45,716.51 400.91,718.12 401.37,719.75 401.82,721.34 402.27,722.81 402.7,724.1 403.11,725.26 403.5,726.36 403.88,727.34 404.26,728.16 404.66,728.76 405.1,729.1 405.58,729.09 406.1,728.76 406.63,728.21 407.17,727.56 407.7,726.92 408.2,726.4 408.67,726.12 409.13,726 409.57,725.9 410.01,725.65 410.45,725.1 410.9,724.1 411.38,722.39 411.9,720.05 412.42,717.41 412.9,714.8 413.31,712.55 413.6,711 413.6,713 413.31,714.66 412.9,717.06 412.42,719.84 411.9,722.68 411.38,725.21 410.9,727.1 410.45,728.28 410.01,729.02 409.57,729.46 409.13,729.74 408.67,730.01 408.2,730.4 407.7,730.99 407.17,731.67 406.63,732.33 406.1,732.87 405.58,733.16 405.1,733.1 404.66,732.64 404.26,731.86 403.88,730.84 403.5,729.65 403.11,728.38 402.7,727.1 402.27,725.73 401.82,724.19 401.37,722.56 400.91,720.93 400.45,719.38 400,718 399.55,716.78 399.09,715.66 398.63,714.61 398.18,713.63 397.73,712.7 397.3,711.8 396.89,710.82 396.5,709.74 396.12,708.72 395.74,707.88 395.34,707.36 394.9,707.3 394.42,707.81 393.9,708.8 393.37,710.11 392.83,711.59 392.3,713.07 391.8,714.4 391.33,715.59 390.87,716.77 390.43,717.95 389.99,719.16 389.55,720.4 389.1,721.7 388.65,723.15 388.2,724.75 387.76,726.39 387.31,727.96 386.86,729.33 386.4,730.4 385.94,731.01 385.47,731.23 385,731.25 384.53,731.29 384.06,731.53 383.6,732.2 383.13,733.59 382.66,735.62 382.19,737.86 381.73,739.89 381.3,741.31 380.9,741.7 380.54,740.9 380.21,739.2 379.91,736.89 379.63,734.23 379.36,731.51 379.1,729 378.86,726.66 378.63,724.26 378.43,721.79 378.22,719.25 378.02,716.62 377.8,713.9 377.58,711.09 377.36,708.2 377.14,705.22 376.91,702.15 376.66,698.98 376.4,695.7 376.1,691.73 375.78,686.95 375.44,682.07 375.1,677.8 374.78,674.84 374.5,673.9 374.26,675.2 374.06,678.23 373.88,682.56 373.7,687.81 373.51,693.56 373.3,699.4 373.07,705.79 372.81,713.13 372.56,720.98 372.3,728.87 372.04,736.36 371.8,743 371.57,749.32 371.34,755.78 371.12,761.84 370.9,766.94 370.7,770.55 370.5,772.1 370.33,770.93 370.18,767.34 370.04,762.24 369.89,756.56 369.72,751.21 369.5,747.1 369.24,744.25 368.94,741.94 368.62,739.96 368.28,738.1 367.94,736.15 367.6,733.9 367.26,731.36 366.92,728.68 366.57,725.92 366.21,723.11 365.86,720.29 365.5,717.5 365.15,714.4 364.8,710.9 364.45,707.39 364.09,704.27 363.71,701.94 363.3,700.8 362.85,701.09 362.35,702.52 361.83,704.75 361.32,707.41 360.83,710.15 360.4,712.6 360.02,714.95 359.69,717.51 359.38,720.16 359.09,722.73 358.8,725.09 358.5,727.1 358.19,728.81 357.87,730.34 357.56,731.66 357.25,732.73 356.96,733.52 356.7,734 356.47,734.14 356.28,733.95 356.11,733.49 355.93,732.78 355.73,731.87 355.5,730.8 355.23,729.4 354.93,727.62 354.62,725.64 354.29,723.63 353.95,721.79 353.6,720.3 353.24,719.05 352.87,717.86 352.49,716.85 352.1,716.09 351.71,715.67 351.3,715.7 350.88,716.41 350.44,717.76 350,719.47 349.56,721.22 349.12,722.72 348.7,723.65 348.3,723.97 347.91,723.92 347.54,723.61 347.16,723.16 346.79,722.7 346.4,722.35 346,722.04 345.6,721.67 345.19,721.29 344.79,720.94 344.39,720.68 344,720.55 343.63,720.61 343.27,720.82 342.92,721.12 342.56,721.44 342.19,721.71 341.8,721.85 341.38,721.83 340.94,721.7 340.48,721.51 340.02,721.34 339.56,721.23 339.1,721.25 338.65,721.45 338.2,721.78 337.76,722.19 337.31,722.59 336.86,722.94 336.4,723.15 335.95,723.22 335.5,723.21 335.06,723.12 334.6,723.01 334.11,722.87 333.6,722.75 333.04,722.65 332.44,722.54 331.82,722.42 331.19,722.28 330.58,722.09 330,721.85 329.46,721.47 328.94,720.96 328.43,720.4 327.93,719.89 327.42,719.55 326.9,719.45 326.35,719.67 325.79,720.15 325.22,720.78 324.66,721.47 324.12,722.11 323.6,722.6 323.08,722.96 322.56,723.28 322.04,723.55 321.58,723.77 321.19,723.96 320.9,724.1" fill="#7d7d7d" stroke="#7d7d7d" stroke-width="0.6" stroke-linejoin="round" opacity="1.0"/>
<polygon points="422.1,724.8 422.23,724.36 422.4,723.8 422.6,723.11 422.83,722.28 423.06,721.28 423.3,720.1 423.55,718.54 423.81,716.57 424.09,714.44 424.37,712.39 424.64,710.66 424.9,709.5 425.15,708.99 425.4,708.95 425.64,709.24 425.87,709.7 426.09,710.21 426.3,710.6 426.49,710.86 426.65,711.09 426.8,711.35 426.95,711.71 427.11,712.24 427.3,713 427.51,714.1 427.73,715.52 427.96,717.11 428.2,718.7 428.44,720.15 428.7,721.3 428.97,722.18 429.25,722.9 429.54,723.49 429.83,723.93 430.12,724.23 430.4,724.4 430.67,724.26 430.93,723.77 431.19,723.15 431.45,722.59 431.72,722.3 432,722.5 432.29,723.46 432.59,725.06 432.9,726.94 433.22,728.72 433.55,730.02 433.9,730.45 434.27,729.89 434.67,728.61 435.07,726.84 435.49,724.83 435.9,722.82 436.3,721.05 436.69,719.43 437.07,717.76 437.45,716.08 437.83,714.45 438.21,712.93 438.6,711.55 438.99,710.24 439.39,708.92 439.79,707.71 440.2,706.7 440.6,705.98 441,705.65 441.4,705.75 441.79,706.21 442.18,706.96 442.57,707.95 442.98,709.1 443.4,710.35 443.85,711.79 444.32,713.49 444.8,715.35 445.28,717.29 445.75,719.22 446.2,721.05 446.63,722.85 447.05,724.69 447.46,726.52 447.85,728.29 448.23,729.94 448.6,731.4 448.95,732.6 449.28,733.56 449.6,734.4 449.91,735.23 450.21,736.16 450.5,737.3 450.78,738.94 451.04,741.03 451.3,743.23 451.56,745.17 451.82,746.48 452.1,746.8 452.4,745.84 452.72,743.83 453.04,741.19 453.37,738.35 453.69,735.75 454,733.8 454.29,732.7 454.57,732.13 454.85,731.79 455.13,731.38 455.41,730.59 455.7,729.1 456.03,726.6 456.39,723.27 456.76,719.56 457.1,715.91 457.39,712.77 457.6,710.6 457.6,712.6 457.39,714.89 457.1,718.2 456.76,722.06 456.39,725.97 456.03,729.48 455.7,732.1 455.41,733.64 455.13,734.46 454.85,734.86 454.57,735.17 454.29,735.71 454,736.8 453.69,738.75 453.37,741.35 453.04,744.19 452.72,746.83 452.4,748.84 452.1,749.8 451.82,749.48 451.56,748.17 451.3,746.23 451.04,744.03 450.78,741.94 450.5,740.3 450.21,739.17 449.91,738.25 449.6,737.43 449.28,736.6 448.95,735.63 448.6,734.4 448.23,732.88 447.85,731.14 447.46,729.27 447.05,727.34 446.63,725.41 446.2,723.55 445.75,721.69 445.28,719.75 444.8,717.82 444.32,715.97 443.85,714.28 443.4,712.85 442.98,711.6 442.57,710.45 442.18,709.46 441.79,708.71 441.4,708.25 441,708.15 440.6,708.48 440.2,709.2 439.79,710.21 439.39,711.42 438.99,712.74 438.6,714.05 438.21,715.43 437.83,716.95 437.45,718.58 437.07,720.26 436.69,721.93 436.3,723.55 435.9,725.33 435.49,727.35 435.07,729.37 434.67,731.14 434.27,732.42 433.9,732.95 433.55,732.45 433.22,731.07 432.9,729.19 432.59,727.21 432.29,725.52 432,724.5 431.72,724.28 431.45,724.55 431.19,725.12 430.93,725.75 430.67,726.25 430.4,726.4 430.12,726.23 429.83,725.93 429.54,725.49 429.25,724.9 428.97,724.18 428.7,723.3 428.44,722.15 428.2,720.7 427.96,719.11 427.73,717.52 427.51,716.1 427.3,715 427.11,714.24 426.95,713.71 426.8,713.35 426.65,713.09 426.49,712.86 426.3,712.6 426.09,712.21 425.87,711.7 425.64,711.24 425.4,710.95 425.15,710.99 424.9,711.5 424.64,712.66 424.37,714.39 424.09,716.44 423.81,718.57 423.55,720.54 423.3,722.1 423.06,723.28 422.83,724.28 422.6,725.11 422.4,725.8 422.23,726.36 422.1,726.8" fill="#7d7d7d" stroke="#7d7d7d" stroke-width="0.6" stroke-linejoin="round" opacity="1.0"/>
<polygon points="475.3,687.85 475.37,689.83 475.46,692.68 475.56,696.01 475.7,699.4 475.88,702.46 476.1,704.8 476.39,706.29 476.75,707.25 477.15,707.87 477.56,708.38 477.95,708.98 478.3,709.9 478.6,711.05 478.87,712.25 479.12,713.55 479.37,714.99 479.63,716.64 479.9,718.55 480.2,720.94 480.54,723.81 480.87,726.88 481.2,729.87 481.48,732.51 481.7,734.5 481.82,735.87 481.83,736.85 481.81,737.47 481.81,737.76 481.89,737.76 482.1,737.5 482.46,736.86 482.94,735.78 483.49,734.41 484.09,732.9 484.7,731.38 485.3,730 485.88,728.74 486.47,727.48 487.08,726.21 487.71,724.94 488.38,723.67 489.1,722.4 489.9,721.05 490.8,719.6 491.73,718.15 492.64,716.79 493.49,715.61 494.2,714.7 494.75,714.07 495.18,713.66 495.53,713.43 495.87,713.35 496.24,713.36 496.7,713.45 497.26,713.63 497.87,713.95 498.51,714.37 499.18,714.87 499.85,715.42 500.5,716 501.15,716.64 501.82,717.37 502.49,718.15 503.16,718.94 503.8,719.71 504.4,720.4 504.97,721.06 505.51,721.73 506.03,722.37 506.53,722.95 507.02,723.42 507.5,723.75 507.99,723.9 508.5,723.89 508.99,723.78 509.44,723.63 509.82,723.48 510.1,723.4 510.1,726.4 509.82,727.01 509.44,727.91 508.99,728.94 508.5,729.95 507.99,730.77 507.5,731.25 507.02,731.39 506.53,731.32 506.03,731.07 505.51,730.65 504.97,730.08 504.4,729.4 503.8,728.52 503.16,727.41 502.49,726.15 501.82,724.84 501.15,723.56 500.5,722.4 499.85,721.28 499.18,720.1 498.51,718.95 497.87,717.92 497.26,717.1 496.7,716.55 496.24,716.28 495.87,716.21 495.53,716.34 495.18,716.67 494.75,717.19 494.2,717.9 493.49,718.89 492.64,720.18 491.73,721.66 490.8,723.23 489.9,724.78 489.1,726.2 488.38,727.49 487.71,728.74 487.08,729.97 486.47,731.21 485.88,732.48 485.3,733.8 484.7,735.32 484.09,737.05 483.49,738.81 482.94,740.43 482.46,741.71 482.1,742.5 481.89,742.86 481.81,742.94 481.81,742.7 481.83,742.08 481.82,741.03 481.7,739.5 481.48,737.21 481.2,734.15 480.87,730.66 480.54,727.08 480.2,723.77 479.9,721.05 479.63,718.94 479.37,717.16 479.12,715.64 478.87,714.31 478.6,713.08 478.3,711.9 477.95,710.96 477.56,710.36 477.15,709.87 476.75,709.26 476.39,708.32 476.1,706.8 475.88,704.4 475.7,701.25 475.56,697.76 475.46,694.33 475.37,691.39 475.3,689.35" fill="#7d7d7d" stroke="#7d7d7d" stroke-width="0.6" stroke-linejoin="round" opacity="1.0"/>
<polygon points="510.1,723 510.3,721.95 510.57,720.52 510.89,718.81 511.25,716.93 511.63,714.96 512,713 512.37,710.67 512.76,707.81 513.17,704.88 513.59,702.3 514.04,700.52 514.5,700 514.99,701.19 515.51,703.81 516.06,707.25 516.61,710.85 517.16,713.98 517.7,716 518.24,716.85 518.79,717.04 519.34,716.75 519.88,716.19 520.4,715.54 520.9,715 521.37,714.44 521.81,713.67 522.24,712.81 522.66,712 523.08,711.35 523.5,711 523.92,710.9 524.34,710.95 524.76,711.16 525.17,711.56 525.58,712.17 526,713 526.45,714.25 526.93,715.93 527.41,717.83 527.85,719.69 528.23,721.29 528.5,722.4 528.5,733.8 528.23,733.78 527.85,733.75 527.41,733.72 526.93,733.7 526.45,733.72 526,733.8 525.58,734.02 525.17,734.37 524.76,734.77 524.34,735.09 523.92,735.24 523.5,735.1 523.08,734.53 522.66,733.59 522.24,732.48 521.81,731.37 521.37,730.48 520.9,730 520.4,730.06 519.88,730.55 519.34,731.24 518.79,731.94 518.24,732.43 517.7,732.5 517.16,732.07 516.61,731.3 516.06,730.32 515.51,729.27 514.99,728.28 514.5,727.5 514.04,726.88 513.59,726.3 513.17,725.79 512.76,725.37 512.37,725.06 512,724.9 511.63,724.94 511.25,725.18 510.89,725.54 510.57,725.93 510.3,726.28 510.1,726.5" fill="#7d7d7d" stroke="#7d7d7d" stroke-width="0.8" stroke-linejoin="round" opacity="1.0"/>
<polyline points="512,712 512.26,709.73 512.62,706.26 513.05,702.31 513.52,698.63 514.01,695.95 514.5,695 515.03,696.3 515.63,699.37 516.26,703.44 516.84,707.74 517.34,711.52 517.7,714" fill="none" stroke="#b8b8b8" stroke-width="0.8" stroke-linejoin="round" opacity="1.0"/>
<rect x="320.2" y="647.3" width="222.8" height="148.4" fill="none" stroke="#2a2a2a" stroke-width="1.1"/>
<line x1="330.1" y1="795.7" x2="330.1" y2="800.1" stroke="#2a2a2a" stroke-width="1"/>
<text x="330.1" y="810.3" text-anchor="middle" font-size="8.5">500</text>
<line x1="379.61" y1="795.7" x2="379.61" y2="800.1" stroke="#2a2a2a" stroke-width="1"/>
<text x="379.61" y="810.3" text-anchor="middle" font-size="8.5">1000</text>
<line x1="429.12" y1="795.7" x2="429.12" y2="800.1" stroke="#2a2a2a" stroke-width="1"/>
<text x="429.12" y="810.3" text-anchor="middle" font-size="8.5">1500</text>
<line x1="478.64" y1="795.7" x2="478.64" y2="800.1" stroke="#2a2a2a" stroke-width="1"/>
<text x="478.64" y="810.3" text-anchor="middle" font-size="8.5">2000</text>
<line x1="528.15" y1="795.7" x2="528.15" y2="800.1" stroke="#2a2a2a" stroke-width="1"/>
<text x="528.15" y="810.3" text-anchor="middle" font-size="8.5">2500</text>
<line x1="354.86" y1="795.7" x2="354.86" y2="797.9" stroke="#2a2a2a" stroke-width="1"/>
<line x1="404.37" y1="795.7" x2="404.37" y2="797.9" stroke="#2a2a2a" stroke-width="1"/>
<line x1="453.88" y1="795.7" x2="453.88" y2="797.9" stroke="#2a2a2a" stroke-width="1"/>
<line x1="503.39" y1="795.7" x2="503.39" y2="797.9" stroke="#2a2a2a" stroke-width="1"/>
<line x1="315.2" y1="647.3" x2="320.2" y2="647.3" stroke="#2a2a2a" stroke-width="1"/>
<text x="312.1" y="650.2" text-anchor="end" font-size="8.5">0.2</text>
<line x1="315.2" y1="684.4" x2="320.2" y2="684.4" stroke="#2a2a2a" stroke-width="1"/>
<text x="312.1" y="687.3" text-anchor="end" font-size="8.5">0.1</text>
<line x1="315.2" y1="721.5" x2="320.2" y2="721.5" stroke="#2a2a2a" stroke-width="1"/>
<text x="312.1" y="724.4" text-anchor="end" font-size="8.5">0.0</text>
<line x1="315.2" y1="758.6" x2="320.2" y2="758.6" stroke="#2a2a2a" stroke-width="1"/>
<text x="312.1" y="761.5" text-anchor="end" font-size="8.5">−0.1</text>
<line x1="315.2" y1="795.7" x2="320.2" y2="795.7" stroke="#2a2a2a" stroke-width="1"/>
<text x="312.1" y="798.6" text-anchor="end" font-size="8.5">−0.2</text>
<line x1="318" y1="665.85" x2="320.2" y2="665.85" stroke="#2a2a2a" stroke-width="1"/>
<line x1="318" y1="702.95" x2="320.2" y2="702.95" stroke="#2a2a2a" stroke-width="1"/>
<line x1="318" y1="740.05" x2="320.2" y2="740.05" stroke="#2a2a2a" stroke-width="1"/>
<line x1="318" y1="777.15" x2="320.2" y2="777.15" stroke="#2a2a2a" stroke-width="1"/>
<text x="431.6" y="821.3" text-anchor="middle" font-size="8.7">Wavelength (nm)</text>
<text x="293" y="721.5" text-anchor="middle" font-size="8.7" transform="rotate(-90 293 721.5)">Value</text>
<text x="417.8" y="846.6" text-anchor="middle" font-size="14" style="font-family:Liberation Serif,serif;font-weight:bold;fill:#111">(n)</text>
<line x1="432.3" y1="657.3" x2="443.8" y2="657.3" stroke="#c4c4c4" stroke-width="1.2"/>
<text x="448.2" y="656" font-size="8.0" class="lg">High-frequency coefficient</text>
<text x="448.2" y="665.5" font-size="8.0" class="lg">reconstruction signal</text>
</g>
</svg>
</body></html>
